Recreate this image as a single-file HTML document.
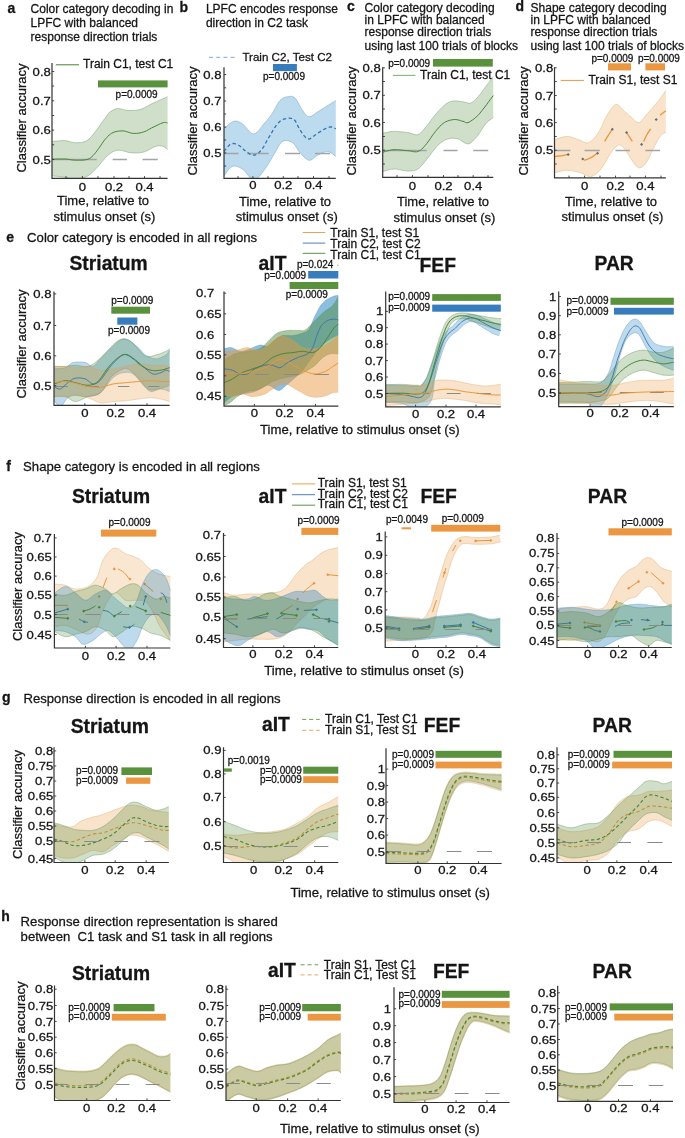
<!DOCTYPE html>
<html><head><meta charset="utf-8"><title>Figure</title>
<style>html,body{margin:0;padding:0;background:#fff}svg{display:block;font-family:"Liberation Sans",Arial,sans-serif}text{fill:#151515;stroke:#151515;stroke-width:.28px}</style></head>
<body>
<svg width="685" height="1138" viewBox="0 0 685 1138">
<rect width="685" height="1138" fill="#fff"/>
<text x="7.5" y="12.5" font-size="14" font-weight="bold">a</text>
<text x="30.6" y="12.5" font-size="12">Color category decoding in</text>
<text x="30.6" y="26.8" font-size="12">LPFC with balanced</text>
<text x="30.6" y="41.1" font-size="12">response direction trials</text>
<clipPath id="c1"><rect x="52" y="3" width="116.1" height="175.3"/></clipPath>
<g clip-path="url(#c1)">
<polygon points="52,141.4 53.4,141.3 55.5,141.1 57.9,140.9 60.4,140.7 62.8,140.6 65,140.6 66.9,140.8 68.6,141.2 70.3,141.7 72,142.2 73.6,142.6 75.4,142.7 77.3,142.7 79.2,142.6 81.2,142.4 83.1,142.1 85,141.5 86.7,140.7 88.3,139.6 89.8,138.3 91.2,136.8 92.6,135.1 94,133.3 95.5,131.4 97.2,129.3 98.9,126.8 100.7,124.2 102.5,121.7 104.1,119.4 105.5,117.5 106.6,116 107.4,114.8 108.2,113.8 108.8,113 109.6,112.2 110.5,111.5 111.6,110.8 112.7,110.1 113.9,109.5 115.2,109 116.6,108.7 118,108.5 119.5,108.6 121,108.9 122.7,109.4 124.4,109.9 126.1,110.3 128,110.5 130,110.5 132,110.5 134.2,110.4 136.4,110.2 138.6,109.8 140.7,109.3 142.8,108.5 144.8,107.6 146.9,106.5 149,105.3 151.1,104.1 153.3,103 155.8,101.9 158.5,100.7 161.2,99.5 163.8,98.3 166,97.4 167.6,96.7 167.6,149.7 167.1,149.3 166.5,148.7 165.8,148 164.9,147.4 164,146.8 163,146.4 162,146.1 161,145.9 159.9,145.8 158.7,145.8 157.3,146 155.8,146.4 154,147.1 152,148.1 149.8,149.3 147.6,150.4 145.4,151.5 143.2,152.2 141.1,152.6 139,152.9 136.9,153 134.8,153 132.7,152.9 130.6,152.7 128.5,152.4 126.3,151.8 124.1,151.2 122,150.6 119.9,150.2 118,150.2 116.2,150.5 114.5,151.1 112.8,151.8 111.2,152.8 109.6,153.9 108,155.2 106.3,156.7 104.7,158.6 103,160.6 101.3,162.6 99.7,164.7 98,166.5 96.4,168.2 94.8,170 93.2,171.6 91.5,173.2 89.8,174.6 88,175.8 86,176.8 83.9,177.7 81.7,178.4 79.5,178.9 77.4,179.3 75.4,179.5 73.6,179.5 71.9,179.2 70.2,178.7 68.6,178.2 66.9,177.7 65,177.3 62.8,177 60.4,176.7 57.9,176.4 55.5,176.2 53.4,176 52,175.8" fill="#4f8a3a" fill-opacity="0.27"/>
<polyline points="52,141.4 53.4,141.3 55.5,141.1 57.9,140.9 60.4,140.7 62.8,140.6 65,140.6 66.9,140.8 68.6,141.2 70.3,141.7 72,142.2 73.6,142.6 75.4,142.7 77.3,142.7 79.2,142.6 81.2,142.4 83.1,142.1 85,141.5 86.7,140.7 88.3,139.6 89.8,138.3 91.2,136.8 92.6,135.1 94,133.3 95.5,131.4 97.2,129.3 98.9,126.8 100.7,124.2 102.5,121.7 104.1,119.4 105.5,117.5 106.6,116 107.4,114.8 108.2,113.8 108.8,113 109.6,112.2 110.5,111.5 111.6,110.8 112.7,110.1 113.9,109.5 115.2,109 116.6,108.7 118,108.5 119.5,108.6 121,108.9 122.7,109.4 124.4,109.9 126.1,110.3 128,110.5 130,110.5 132,110.5 134.2,110.4 136.4,110.2 138.6,109.8 140.7,109.3 142.8,108.5 144.8,107.6 146.9,106.5 149,105.3 151.1,104.1 153.3,103 155.8,101.9 158.5,100.7 161.2,99.5 163.8,98.3 166,97.4 167.6,96.7" fill="none" stroke="#5f8f4f" stroke-opacity="0.55" stroke-width="0.7"/>
<polyline points="52,175.8 53.4,176 55.5,176.2 57.9,176.4 60.4,176.7 62.8,177 65,177.3 66.9,177.7 68.6,178.2 70.2,178.7 71.9,179.2 73.6,179.5 75.4,179.5 77.4,179.3 79.5,178.9 81.7,178.4 83.9,177.7 86,176.8 88,175.8 89.8,174.6 91.5,173.2 93.2,171.6 94.8,170 96.4,168.2 98,166.5 99.7,164.7 101.3,162.6 103,160.6 104.7,158.6 106.3,156.7 108,155.2 109.6,153.9 111.2,152.8 112.8,151.8 114.5,151.1 116.2,150.5 118,150.2 119.9,150.2 122,150.6 124.1,151.2 126.3,151.8 128.5,152.4 130.6,152.7 132.7,152.9 134.8,153 136.9,153 139,152.9 141.1,152.6 143.2,152.2 145.4,151.5 147.6,150.4 149.8,149.3 152,148.1 154,147.1 155.8,146.4 157.3,146 158.7,145.8 159.9,145.8 161,145.9 162,146.1 163,146.4 164,146.8 164.9,147.4 165.8,148 166.5,148.7 167.1,149.3 167.6,149.7" fill="none" stroke="#5f8f4f" stroke-opacity="0.55" stroke-width="0.7"/>
<line x1="52" y1="159.5" x2="96.7" y2="159.5" stroke="#a2a4a8" stroke-width="1.5"/>
<line x1="112.6" y1="159.5" x2="126.9" y2="159.5" stroke="#a2a4a8" stroke-width="1.5"/>
<line x1="142.5" y1="159.5" x2="157.8" y2="159.5" stroke="#a2a4a8" stroke-width="1.5"/>
<polyline points="52,159.2 53.4,159.2 55.5,159.1 57.9,159 60.4,159 62.8,159 65,159 66.9,159.1 68.6,159.4 70.2,159.7 71.9,159.9 73.6,160.1 75.4,160.2 77.4,160.2 79.6,160.2 81.9,160.2 84.1,160 86.2,159.7 88,159.2 89.5,158.5 90.8,157.7 91.9,156.7 93,155.6 94.2,154.3 95.5,152.7 97.1,150.7 98.7,148.4 100.5,145.8 102.3,143.2 103.9,140.9 105.5,138.9 106.9,137.4 108.1,136.1 109.2,135 110.4,134.1 111.6,133.3 113,132.6 114.5,132 116.1,131.5 117.8,131.2 119.6,131 121.3,130.9 123,130.9 124.7,131.1 126.4,131.6 128.1,132.1 129.8,132.7 131.5,133.2 133.2,133.4 134.9,133.4 136.5,133.4 138.2,133.2 139.9,132.9 141.5,132.6 143.2,132.1 144.9,131.5 146.6,130.7 148.2,129.8 149.9,128.9 151.6,127.9 153.3,127.1 155,126.3 156.9,125.4 158.7,124.5 160.4,123.7 162,123.1 163.3,122.6 164.4,122.4 165.3,122.4 166.1,122.5 166.7,122.7 167.2,122.9 167.6,123" fill="none" stroke="#478535" stroke-width="1"/>
</g>
<path d="M52 63V178.3H167.6" fill="none" stroke="#333" stroke-width="1.2"/>
<line x1="52" y1="71.5" x2="54.2" y2="71.5" stroke="#333" stroke-width="0.9"/>
<text transform="translate(50.8 75.5) scale(1.13 1)" font-size="11.6" text-anchor="end">0.8</text>
<line x1="52" y1="86" x2="54.2" y2="86" stroke="#333" stroke-width="0.9"/>
<line x1="52" y1="100.8" x2="54.2" y2="100.8" stroke="#333" stroke-width="0.9"/>
<text transform="translate(50.8 104.8) scale(1.13 1)" font-size="11.6" text-anchor="end">0.7</text>
<line x1="52" y1="115.5" x2="54.2" y2="115.5" stroke="#333" stroke-width="0.9"/>
<line x1="52" y1="130.1" x2="54.2" y2="130.1" stroke="#333" stroke-width="0.9"/>
<text transform="translate(50.8 134.2) scale(1.13 1)" font-size="11.6" text-anchor="end">0.6</text>
<line x1="52" y1="144.8" x2="54.2" y2="144.8" stroke="#333" stroke-width="0.9"/>
<line x1="52" y1="159.4" x2="54.2" y2="159.4" stroke="#333" stroke-width="0.9"/>
<text transform="translate(50.8 163.5) scale(1.13 1)" font-size="11.6" text-anchor="end">0.5</text>
<line x1="66" y1="178.3" x2="66" y2="176.1" stroke="#333" stroke-width="0.9"/>
<line x1="82.4" y1="178.3" x2="82.4" y2="176.1" stroke="#333" stroke-width="0.9"/>
<text transform="translate(82.4 190.9) scale(1.13 1)" font-size="11.6" text-anchor="middle">0</text>
<line x1="98" y1="178.3" x2="98" y2="176.1" stroke="#333" stroke-width="0.9"/>
<line x1="114" y1="178.3" x2="114" y2="176.1" stroke="#333" stroke-width="0.9"/>
<text transform="translate(114 190.9) scale(1.13 1)" font-size="11.6" text-anchor="middle">0.2</text>
<line x1="129" y1="178.3" x2="129" y2="176.1" stroke="#333" stroke-width="0.9"/>
<line x1="144.5" y1="178.3" x2="144.5" y2="176.1" stroke="#333" stroke-width="0.9"/>
<text transform="translate(144.5 190.9) scale(1.13 1)" font-size="11.6" text-anchor="middle">0.4</text>
<line x1="160" y1="178.3" x2="160" y2="176.1" stroke="#333" stroke-width="0.9"/>
<line x1="55.8" y1="64.8" x2="79" y2="64.8" stroke="#478535" stroke-width="1"/>
<text x="83" y="68" font-size="12">Train C1, test C1</text>
<rect x="98" y="80.4" width="69.6" height="7" fill="#5a913c"/>
<text x="115.6" y="97.5" font-size="10">p=0.0009</text>
<text x="25.5" y="118" font-size="13" text-anchor="middle" transform="rotate(-90 25.5 118)">Classifier accuracy</text>
<text x="103" y="205" font-size="13" text-anchor="middle">Time, relative to</text>
<text x="104.5" y="220.5" font-size="13" text-anchor="middle">stimulus onset (s)</text>
<text x="179.5" y="12" font-size="14" font-weight="bold">b</text>
<text x="205.9" y="12.5" font-size="12">LPFC encodes response</text>
<text x="205.9" y="26.9" font-size="12">direction in C2 task</text>
<clipPath id="c2"><rect x="224" y="7.3" width="112.3" height="171"/></clipPath>
<g clip-path="url(#c2)">
<polygon points="224,128.8 225,127.9 226.5,126.5 228.2,124.9 230,123.3 231.8,122.1 233.5,121.3 235,121 236.4,121.1 237.8,121.4 239.3,122 240.8,122.8 242.4,123.8 244.1,125.3 246,127.4 247.9,129.7 249.8,131.8 251.8,133.4 253.7,133.9 255.6,133.2 257.6,131.7 259.6,129.5 261.5,127 263.3,124.6 265,122.6 266.5,120.9 267.8,119.4 269,117.9 270.1,116.4 271.3,114.7 272.5,113 273.7,111 275,108.7 276.2,106.4 277.5,104.1 278.7,102.1 280,100.5 281.3,99.3 282.5,98.4 283.8,97.7 285.1,97.3 286.3,96.9 287.6,96.7 288.8,96.5 290.1,96.3 291.3,96.3 292.5,96.5 293.8,97.1 295,98 296.3,99.5 297.6,101.6 298.9,104 300.2,106.5 301.5,108.7 302.7,110.6 303.8,112.1 304.8,113.6 305.8,114.8 306.8,115.8 307.8,116.5 309,116.8 310.3,116.6 311.7,116 313.1,115.1 314.6,114 316.1,112.8 317.7,111.8 319.3,110.8 321,109.7 322.8,108.6 324.5,107.6 326.2,106.5 327.8,105.5 329.3,104.5 330.9,103.6 332.4,102.6 333.8,101.7 335,101 335.8,100.5 335.8,156.5 335,155.9 333.8,154.9 332.4,153.8 330.9,152.7 329.3,151.9 327.8,151.5 326.2,151.6 324.5,152 322.8,152.7 321,153.5 319.3,154.4 317.7,155.2 316.2,156.1 314.7,157.3 313.3,158.5 311.9,159.5 310.5,160.2 309,160.3 307.5,159.8 306,158.8 304.4,157.4 302.9,155.9 301.4,154.3 300,152.7 298.7,151.1 297.5,149.2 296.4,147.3 295.2,145.5 294,143.9 292.6,142.7 291.1,141.8 289.4,141.2 287.6,140.7 285.9,140.6 284.2,140.8 282.6,141.4 281.2,142.5 280,144 278.8,145.9 277.6,148.1 276.4,150.4 275,152.7 273.5,155.2 271.9,158 270.2,160.9 268.5,163.8 266.8,166.5 265,169 263.2,171.4 261.3,173.9 259.4,176.2 257.5,178.2 255.6,179.5 253.7,180 251.8,179.3 249.9,177.6 248,175.3 246.1,172.9 244.2,170.6 242.4,169 240.6,168 238.9,167.1 237.2,166.5 235.5,166.1 233.9,166.1 232.3,166.5 230.7,167.5 229.1,169.1 227.5,171 226.1,173 224.9,174.7 224,175.8" fill="#0072bd" fill-opacity="0.26"/>
<polyline points="224,128.8 225,127.9 226.5,126.5 228.2,124.9 230,123.3 231.8,122.1 233.5,121.3 235,121 236.4,121.1 237.8,121.4 239.3,122 240.8,122.8 242.4,123.8 244.1,125.3 246,127.4 247.9,129.7 249.8,131.8 251.8,133.4 253.7,133.9 255.6,133.2 257.6,131.7 259.6,129.5 261.5,127 263.3,124.6 265,122.6 266.5,120.9 267.8,119.4 269,117.9 270.1,116.4 271.3,114.7 272.5,113 273.7,111 275,108.7 276.2,106.4 277.5,104.1 278.7,102.1 280,100.5 281.3,99.3 282.5,98.4 283.8,97.7 285.1,97.3 286.3,96.9 287.6,96.7 288.8,96.5 290.1,96.3 291.3,96.3 292.5,96.5 293.8,97.1 295,98 296.3,99.5 297.6,101.6 298.9,104 300.2,106.5 301.5,108.7 302.7,110.6 303.8,112.1 304.8,113.6 305.8,114.8 306.8,115.8 307.8,116.5 309,116.8 310.3,116.6 311.7,116 313.1,115.1 314.6,114 316.1,112.8 317.7,111.8 319.3,110.8 321,109.7 322.8,108.6 324.5,107.6 326.2,106.5 327.8,105.5 329.3,104.5 330.9,103.6 332.4,102.6 333.8,101.7 335,101 335.8,100.5" fill="none" stroke="#5b8fb0" stroke-opacity="0.55" stroke-width="0.7"/>
<polyline points="224,175.8 224.9,174.7 226.1,173 227.5,171 229.1,169.1 230.7,167.5 232.3,166.5 233.9,166.1 235.5,166.1 237.2,166.5 238.9,167.1 240.6,168 242.4,169 244.2,170.6 246.1,172.9 248,175.3 249.9,177.6 251.8,179.3 253.7,180 255.6,179.5 257.5,178.2 259.4,176.2 261.3,173.9 263.2,171.4 265,169 266.8,166.5 268.5,163.8 270.2,160.9 271.9,158 273.5,155.2 275,152.7 276.4,150.4 277.6,148.1 278.8,145.9 280,144 281.2,142.5 282.6,141.4 284.2,140.8 285.9,140.6 287.6,140.7 289.4,141.2 291.1,141.8 292.6,142.7 294,143.9 295.2,145.5 296.4,147.3 297.5,149.2 298.7,151.1 300,152.7 301.4,154.3 302.9,155.9 304.4,157.4 306,158.8 307.5,159.8 309,160.3 310.5,160.2 311.9,159.5 313.3,158.5 314.7,157.3 316.2,156.1 317.7,155.2 319.3,154.4 321,153.5 322.8,152.7 324.5,152 326.2,151.6 327.8,151.5 329.3,151.9 330.9,152.7 332.4,153.8 333.8,154.9 335,155.9 335.8,156.5" fill="none" stroke="#5b8fb0" stroke-opacity="0.55" stroke-width="0.7"/>
<line x1="224" y1="153.5" x2="238.6" y2="153.5" stroke="#a2a4a8" stroke-width="1.5"/>
<line x1="247.4" y1="153.5" x2="268.7" y2="153.5" stroke="#a2a4a8" stroke-width="1.5"/>
<line x1="285" y1="153.5" x2="300" y2="153.5" stroke="#a2a4a8" stroke-width="1.5"/>
<line x1="315" y1="153.5" x2="330" y2="153.5" stroke="#a2a4a8" stroke-width="1.5"/>
<polyline points="224,151.5 224.8,150.6 225.8,149.2 227,147.6 228.4,146.1 229.7,144.7 231,143.9 232.2,143.5 233.5,143.5 234.8,143.7 236.1,144.1 237.3,144.6 238.6,145.2 239.8,146 241.1,147 242.3,148.2 243.5,149.4 244.8,150.5 246,151.5 247.3,152.4 248.6,153.2 249.8,154.1 251.1,154.7 252.4,155.1 253.7,155.2 255,155 256.2,154.5 257.5,153.7 258.7,152.8 260,151.6 261.2,150.2 262.4,148.6 263.7,146.6 264.9,144.4 266.1,142.2 267.4,139.9 268.7,137.6 270.1,135.3 271.6,132.8 273.1,130.2 274.6,127.8 276.1,125.6 277.5,123.8 278.8,122.4 280,121.3 281.2,120.4 282.4,119.7 283.7,119.2 285,118.8 286.4,118.5 288,118.2 289.5,118.2 291.1,118.3 292.6,118.8 293.9,119.5 295.1,120.7 296.1,122.3 297,124.2 298,126.3 298.9,128.2 300,130 301.2,131.7 302.5,133.6 303.8,135.4 305.1,136.9 306.4,138.2 307.7,138.9 309,139 310.2,138.6 311.5,137.8 312.7,136.9 313.9,135.9 315.2,135 316.5,134.2 317.7,133.3 319,132.4 320.3,131.6 321.5,130.7 322.8,130 324.1,129.3 325.4,128.7 326.7,128.1 328,127.6 329.2,127.2 330.3,127 331.4,127 332.5,127.3 333.5,127.7 334.4,128.2 335.2,128.5 335.8,128.8" fill="none" stroke="#3873ad" stroke-width="1.3" stroke-dasharray="3.5 2.5"/>
</g>
<path d="M224 67.3V178.3H335.8" fill="none" stroke="#333" stroke-width="1.2"/>
<line x1="224" y1="74.6" x2="226.2" y2="74.6" stroke="#333" stroke-width="0.9"/>
<text transform="translate(221.5 78.6) scale(1.13 1)" font-size="11.6" text-anchor="end">0.8</text>
<line x1="224" y1="87.8" x2="226.2" y2="87.8" stroke="#333" stroke-width="0.9"/>
<line x1="224" y1="101" x2="226.2" y2="101" stroke="#333" stroke-width="0.9"/>
<text transform="translate(221.5 105) scale(1.13 1)" font-size="11.6" text-anchor="end">0.7</text>
<line x1="224" y1="114" x2="226.2" y2="114" stroke="#333" stroke-width="0.9"/>
<line x1="224" y1="127.1" x2="226.2" y2="127.1" stroke="#333" stroke-width="0.9"/>
<text transform="translate(221.5 131.2) scale(1.13 1)" font-size="11.6" text-anchor="end">0.6</text>
<line x1="224" y1="140" x2="226.2" y2="140" stroke="#333" stroke-width="0.9"/>
<line x1="224" y1="152.9" x2="226.2" y2="152.9" stroke="#333" stroke-width="0.9"/>
<text transform="translate(221.5 157) scale(1.13 1)" font-size="11.6" text-anchor="end">0.5</text>
<line x1="224" y1="166" x2="226.2" y2="166" stroke="#333" stroke-width="0.9"/>
<line x1="238" y1="178.3" x2="238" y2="176.1" stroke="#333" stroke-width="0.9"/>
<line x1="252.9" y1="178.3" x2="252.9" y2="176.1" stroke="#333" stroke-width="0.9"/>
<text transform="translate(252.9 189.3) scale(1.13 1)" font-size="11.6" text-anchor="middle">0</text>
<line x1="268" y1="178.3" x2="268" y2="176.1" stroke="#333" stroke-width="0.9"/>
<line x1="283.3" y1="178.3" x2="283.3" y2="176.1" stroke="#333" stroke-width="0.9"/>
<text transform="translate(283.3 189.3) scale(1.13 1)" font-size="11.6" text-anchor="middle">0.2</text>
<line x1="298" y1="178.3" x2="298" y2="176.1" stroke="#333" stroke-width="0.9"/>
<line x1="313.5" y1="178.3" x2="313.5" y2="176.1" stroke="#333" stroke-width="0.9"/>
<text transform="translate(313.5 189.3) scale(1.13 1)" font-size="11.6" text-anchor="middle">0.4</text>
<line x1="329" y1="178.3" x2="329" y2="176.1" stroke="#333" stroke-width="0.9"/>
<line x1="209" y1="57.3" x2="236" y2="57.3" stroke="#8fbde6" stroke-width="1.2" stroke-dasharray="4 3.2"/>
<text x="242.4" y="60.8" font-size="11.6">Train C2, Test C2</text>
<rect x="273" y="64" width="23.9" height="7.1" fill="#377dbe"/>
<text x="263" y="79.6" font-size="10">p=0.0009</text>
<text x="197" y="121" font-size="13" text-anchor="middle" transform="rotate(-90 197 121)">Classifier accuracy</text>
<text x="285" y="205.5" font-size="13" text-anchor="middle">Time, relative to</text>
<text x="286.8" y="221" font-size="13" text-anchor="middle">stimulus onset (s)</text>
<text x="347" y="11.3" font-size="14" font-weight="bold">c</text>
<text x="364.6" y="11.6" font-size="12">Color category decoding</text>
<text x="364.6" y="23.8" font-size="12">in LPFC with balanced</text>
<text x="364.6" y="35.5" font-size="12">response direction trials</text>
<text x="364.6" y="50" font-size="12">using last 100 trials of blocks</text>
<clipPath id="c3"><rect x="382.7" y="7.3" width="111.1" height="170"/></clipPath>
<g clip-path="url(#c3)">
<polygon points="382.7,133.1 383.9,132.9 385.5,132.6 387.5,132.2 389.6,131.8 391.8,131.5 394,131.4 396.2,131.4 398.6,131.6 401,131.8 403.4,132 405.7,132.3 407.8,132.6 409.7,133 411.5,133.5 413.2,134.1 414.9,134.6 416.4,134.8 417.9,134.6 419.3,134 420.5,133.2 421.6,132 422.8,130.7 424,129.2 425.4,127.6 426.9,125.7 428.6,123.6 430.3,121.2 432,118.9 433.8,116.6 435.5,114.5 437.2,112.6 438.9,110.6 440.7,108.8 442.4,107.1 444,105.6 445.5,104.3 446.9,103.3 448.1,102.5 449.2,102 450.4,101.5 451.6,101.2 453,101 454.5,100.9 456.2,100.9 458,101.1 459.7,101.4 461.4,101.6 463,101.8 464.4,102.1 465.7,102.4 467,102.8 468.2,103.1 469.5,103.2 470.7,103 472,102.4 473.2,101.6 474.5,100.5 475.7,99.4 477,98.1 478.2,96.7 479.4,95.2 480.7,93.6 481.9,91.9 483.2,90.2 484.4,88.4 485.7,86.7 487,84.9 488.5,83 490,81 491.3,79.2 492.5,77.7 493.3,76.6 493.3,117.5 492.5,118.1 491.4,118.9 490,119.9 488.6,121 487.1,122.3 485.7,123.8 484.3,125.6 482.9,127.7 481.4,130 480,132.3 478.5,134.5 477,136.4 475.5,138.1 474.1,139.7 472.6,141.3 471.2,142.5 469.7,143.4 468.1,143.9 466.5,143.7 464.8,143 463.1,141.9 461.4,140.7 459.7,139.6 458,138.9 456.3,138.5 454.7,138.3 453,138.2 451.3,138.2 449.7,138.5 448,138.9 446.3,139.5 444.7,140.3 443,141.3 441.3,142.4 439.7,143.7 438,145.2 436.3,146.9 434.7,149 433,151.1 431.3,153.4 429.7,155.6 428,157.7 426.3,159.8 424.6,161.9 423,164 421.3,166 419.6,167.7 417.9,169 416.3,169.9 414.7,170.5 413.1,170.8 411.4,171 409.7,171 407.8,171 405.7,170.8 403.4,170.5 401,170 398.6,169.5 396.2,169.1 394,169 391.8,169.2 389.6,169.6 387.5,170.2 385.5,170.8 383.9,171.3 382.7,171.6" fill="#4f8a3a" fill-opacity="0.27"/>
<polyline points="382.7,133.1 383.9,132.9 385.5,132.6 387.5,132.2 389.6,131.8 391.8,131.5 394,131.4 396.2,131.4 398.6,131.6 401,131.8 403.4,132 405.7,132.3 407.8,132.6 409.7,133 411.5,133.5 413.2,134.1 414.9,134.6 416.4,134.8 417.9,134.6 419.3,134 420.5,133.2 421.6,132 422.8,130.7 424,129.2 425.4,127.6 426.9,125.7 428.6,123.6 430.3,121.2 432,118.9 433.8,116.6 435.5,114.5 437.2,112.6 438.9,110.6 440.7,108.8 442.4,107.1 444,105.6 445.5,104.3 446.9,103.3 448.1,102.5 449.2,102 450.4,101.5 451.6,101.2 453,101 454.5,100.9 456.2,100.9 458,101.1 459.7,101.4 461.4,101.6 463,101.8 464.4,102.1 465.7,102.4 467,102.8 468.2,103.1 469.5,103.2 470.7,103 472,102.4 473.2,101.6 474.5,100.5 475.7,99.4 477,98.1 478.2,96.7 479.4,95.2 480.7,93.6 481.9,91.9 483.2,90.2 484.4,88.4 485.7,86.7 487,84.9 488.5,83 490,81 491.3,79.2 492.5,77.7 493.3,76.6" fill="none" stroke="#5f8f4f" stroke-opacity="0.55" stroke-width="0.7"/>
<polyline points="382.7,171.6 383.9,171.3 385.5,170.8 387.5,170.2 389.6,169.6 391.8,169.2 394,169 396.2,169.1 398.6,169.5 401,170 403.4,170.5 405.7,170.8 407.8,171 409.7,171 411.4,171 413.1,170.8 414.7,170.5 416.3,169.9 417.9,169 419.6,167.7 421.3,166 423,164 424.6,161.9 426.3,159.8 428,157.7 429.7,155.6 431.3,153.4 433,151.1 434.7,149 436.3,146.9 438,145.2 439.7,143.7 441.3,142.4 443,141.3 444.7,140.3 446.3,139.5 448,138.9 449.7,138.5 451.3,138.2 453,138.2 454.7,138.3 456.3,138.5 458,138.9 459.7,139.6 461.4,140.7 463.1,141.9 464.8,143 466.5,143.7 468.1,143.9 469.7,143.4 471.2,142.5 472.6,141.3 474.1,139.7 475.5,138.1 477,136.4 478.5,134.5 480,132.3 481.4,130 482.9,127.7 484.3,125.6 485.7,123.8 487.1,122.3 488.6,121 490,119.9 491.4,118.9 492.5,118.1 493.3,117.5" fill="none" stroke="#5f8f4f" stroke-opacity="0.55" stroke-width="0.7"/>
<line x1="382.7" y1="150.5" x2="426.7" y2="150.5" stroke="#a2a4a8" stroke-width="1.5"/>
<line x1="443.5" y1="150.5" x2="457.6" y2="150.5" stroke="#a2a4a8" stroke-width="1.5"/>
<line x1="473.2" y1="150.5" x2="488.2" y2="150.5" stroke="#a2a4a8" stroke-width="1.5"/>
<polyline points="382.7,152.2 383.9,151.9 385.5,151.4 387.5,150.9 389.6,150.4 391.8,149.9 394,149.7 396.2,149.7 398.6,149.8 401,150 403.4,150.3 405.7,150.5 407.8,150.7 409.7,150.9 411.5,151.2 413.2,151.6 414.9,151.8 416.4,151.8 417.9,151.5 419.3,150.9 420.5,150.2 421.6,149.3 422.8,148.1 424,146.8 425.4,145.2 426.9,143.3 428.6,141 430.4,138.5 432.1,135.9 433.9,133.5 435.5,131.4 437,129.6 438.5,127.9 439.9,126.3 441.3,124.9 442.8,123.7 444.3,122.6 445.9,121.7 447.6,121 449.3,120.4 451,120 452.7,119.7 454.3,119.5 455.9,119.5 457.4,119.8 459,120.1 460.4,120.6 461.8,121 463,121.3 464,121.6 464.8,122.1 465.5,122.5 466.2,122.7 467,122.8 468,122.6 469.3,122 470.8,121.1 472.4,120 474.1,118.8 475.6,117.5 477,116.3 478.2,115.2 479.1,114.2 480,113.1 480.9,111.9 482,110.6 483.2,109 484.8,107 486.7,104.5 488.6,101.8 490.5,99.2 492.2,97 493.3,95.5" fill="none" stroke="#478535" stroke-width="1"/>
</g>
<path d="M382.7 67.3V177.3H493.3" fill="none" stroke="#333" stroke-width="1.2"/>
<line x1="382.7" y1="67.8" x2="384.9" y2="67.8" stroke="#333" stroke-width="0.9"/>
<text transform="translate(380.7 71.8) scale(1.13 1)" font-size="11.6" text-anchor="end">0.8</text>
<line x1="382.7" y1="81.5" x2="384.9" y2="81.5" stroke="#333" stroke-width="0.9"/>
<line x1="382.7" y1="95.3" x2="384.9" y2="95.3" stroke="#333" stroke-width="0.9"/>
<text transform="translate(380.7 99.3) scale(1.13 1)" font-size="11.6" text-anchor="end">0.7</text>
<line x1="382.7" y1="109" x2="384.9" y2="109" stroke="#333" stroke-width="0.9"/>
<line x1="382.7" y1="122.5" x2="384.9" y2="122.5" stroke="#333" stroke-width="0.9"/>
<text transform="translate(380.7 126.5) scale(1.13 1)" font-size="11.6" text-anchor="end">0.6</text>
<line x1="382.7" y1="136.5" x2="384.9" y2="136.5" stroke="#333" stroke-width="0.9"/>
<line x1="382.7" y1="150.2" x2="384.9" y2="150.2" stroke="#333" stroke-width="0.9"/>
<text transform="translate(380.7 154.2) scale(1.13 1)" font-size="11.6" text-anchor="end">0.5</text>
<line x1="382.7" y1="164" x2="384.9" y2="164" stroke="#333" stroke-width="0.9"/>
<line x1="397" y1="177.3" x2="397" y2="175.1" stroke="#333" stroke-width="0.9"/>
<line x1="412.4" y1="177.3" x2="412.4" y2="175.1" stroke="#333" stroke-width="0.9"/>
<text transform="translate(412.4 190) scale(1.13 1)" font-size="11.6" text-anchor="middle">0</text>
<line x1="428" y1="177.3" x2="428" y2="175.1" stroke="#333" stroke-width="0.9"/>
<line x1="443.5" y1="177.3" x2="443.5" y2="175.1" stroke="#333" stroke-width="0.9"/>
<text transform="translate(443.5 190) scale(1.13 1)" font-size="11.6" text-anchor="middle">0.2</text>
<line x1="458" y1="177.3" x2="458" y2="175.1" stroke="#333" stroke-width="0.9"/>
<line x1="473.2" y1="177.3" x2="473.2" y2="175.1" stroke="#333" stroke-width="0.9"/>
<text transform="translate(473.2 190) scale(1.13 1)" font-size="11.6" text-anchor="middle">0.4</text>
<line x1="488" y1="177.3" x2="488" y2="175.1" stroke="#333" stroke-width="0.9"/>
<text x="388.2" y="66.6" font-size="10">p=0.0009</text>
<rect x="433" y="59" width="59.8" height="7.6" fill="#5a913c"/>
<line x1="392.8" y1="75.4" x2="415.4" y2="75.4" stroke="#86b576" stroke-width="1.1"/>
<text x="420" y="79" font-size="12">Train C1, test C1</text>
<text x="355.5" y="121" font-size="13" text-anchor="middle" transform="rotate(-90 355.5 121)">Classifier accuracy</text>
<text x="443" y="206" font-size="13" text-anchor="middle">Time, relative to</text>
<text x="444.5" y="221.8" font-size="13" text-anchor="middle">stimulus onset (s)</text>
<text x="515.5" y="11.3" font-size="14" font-weight="bold">d</text>
<text x="530.6" y="11.6" font-size="12">Shape category decoding</text>
<text x="530.6" y="23.8" font-size="12">in LPFC with balanced</text>
<text x="530.6" y="35.5" font-size="12">response direction trials</text>
<text x="530.6" y="50" font-size="12">using last 100 trials of blocks</text>
<clipPath id="c4"><rect x="554.5" y="7.3" width="111.8" height="170.5"/></clipPath>
<g clip-path="url(#c4)">
<polygon points="554.5,139.6 555.9,139.2 557.8,138.5 560,137.8 562.5,137.1 564.8,136.6 567,136.4 569,136.6 570.9,137 572.8,137.6 574.7,138.3 576.5,139 578.3,139.6 580.1,140.3 581.8,141.1 583.4,142 585.1,142.6 586.7,142.9 588.4,142.7 590.1,141.9 591.8,140.6 593.5,138.9 595.2,137 596.8,134.9 598.4,132.6 599.9,130 601.4,127 602.9,123.8 604.3,120.6 605.7,117.6 607.2,115 608.7,112.6 610.2,110.3 611.7,108.2 613.2,106.4 614.6,105 616,104.3 617.3,104.4 618.6,105.1 619.9,106.4 621.1,107.9 622.4,109.3 623.6,110.6 624.8,111.7 626.1,112.8 627.3,113.8 628.5,114.9 629.8,116 631,117 632.3,118.1 633.5,119.4 634.8,120.7 636.1,121.7 637.3,122.4 638.6,122.6 639.9,122.1 641.3,120.9 642.6,119.4 643.9,117.8 645.2,116.2 646.2,115 647,114.1 647.6,113.5 648,113 648.5,112.4 649.1,111.6 650,110.6 651.2,109.2 652.6,107.7 654.1,105.9 655.7,104.1 657.3,102.2 658.7,100.5 660.1,98.7 661.4,96.8 662.8,94.9 664,93.1 665,91.6 665.8,90.5 665.8,132.6 665.3,132.7 664.7,132.8 664,133 663.1,133.3 662.2,134 661.2,135 660.1,136.5 658.9,138.4 657.6,140.6 656.3,142.9 655,145.3 653.7,147.7 652.5,150.2 651.2,152.9 650,155.7 648.7,158.4 647.5,160.8 646.2,162.8 644.9,164.4 643.7,165.7 642.4,166.8 641.1,167.5 639.9,167.9 638.6,167.8 637.3,167.1 636,165.9 634.7,164.3 633.4,162.5 632.2,160.7 631,159 629.9,157.3 628.8,155.5 627.8,153.7 626.8,151.9 625.8,150.3 624.8,149 623.8,147.9 622.8,146.9 621.7,146 620.7,145.4 619.6,145.1 618.5,145.2 617.3,145.7 616.2,146.5 615,147.7 613.7,149.1 612.4,150.8 611,152.7 609.5,155 607.9,157.8 606.2,160.8 604.4,163.9 602.7,166.7 601,169 599.3,170.9 597.6,172.6 596,174.1 594.3,175.2 592.6,176.1 590.9,176.6 589.3,176.6 587.7,176.1 586.1,175.3 584.4,174.4 582.7,173.5 580.8,172.8 578.7,172.3 576.4,171.7 574.1,171.2 571.6,170.7 569.3,170.4 567,170.3 564.7,170.5 562.3,170.9 559.9,171.4 557.7,172 555.8,172.5 554.5,172.8" fill="#e8963c" fill-opacity="0.27"/>
<polyline points="554.5,139.6 555.9,139.2 557.8,138.5 560,137.8 562.5,137.1 564.8,136.6 567,136.4 569,136.6 570.9,137 572.8,137.6 574.7,138.3 576.5,139 578.3,139.6 580.1,140.3 581.8,141.1 583.4,142 585.1,142.6 586.7,142.9 588.4,142.7 590.1,141.9 591.8,140.6 593.5,138.9 595.2,137 596.8,134.9 598.4,132.6 599.9,130 601.4,127 602.9,123.8 604.3,120.6 605.7,117.6 607.2,115 608.7,112.6 610.2,110.3 611.7,108.2 613.2,106.4 614.6,105 616,104.3 617.3,104.4 618.6,105.1 619.9,106.4 621.1,107.9 622.4,109.3 623.6,110.6 624.8,111.7 626.1,112.8 627.3,113.8 628.5,114.9 629.8,116 631,117 632.3,118.1 633.5,119.4 634.8,120.7 636.1,121.7 637.3,122.4 638.6,122.6 639.9,122.1 641.3,120.9 642.6,119.4 643.9,117.8 645.2,116.2 646.2,115 647,114.1 647.6,113.5 648,113 648.5,112.4 649.1,111.6 650,110.6 651.2,109.2 652.6,107.7 654.1,105.9 655.7,104.1 657.3,102.2 658.7,100.5 660.1,98.7 661.4,96.8 662.8,94.9 664,93.1 665,91.6 665.8,90.5" fill="none" stroke="#dba560" stroke-opacity="0.55" stroke-width="0.7"/>
<polyline points="554.5,172.8 555.8,172.5 557.7,172 559.9,171.4 562.3,170.9 564.7,170.5 567,170.3 569.3,170.4 571.6,170.7 574.1,171.2 576.4,171.7 578.7,172.3 580.8,172.8 582.7,173.5 584.4,174.4 586.1,175.3 587.7,176.1 589.3,176.6 590.9,176.6 592.6,176.1 594.3,175.2 596,174.1 597.6,172.6 599.3,170.9 601,169 602.7,166.7 604.4,163.9 606.2,160.8 607.9,157.8 609.5,155 611,152.7 612.4,150.8 613.7,149.1 615,147.7 616.2,146.5 617.3,145.7 618.5,145.2 619.6,145.1 620.7,145.4 621.7,146 622.8,146.9 623.8,147.9 624.8,149 625.8,150.3 626.8,151.9 627.8,153.7 628.8,155.5 629.9,157.3 631,159 632.2,160.7 633.4,162.5 634.7,164.3 636,165.9 637.3,167.1 638.6,167.8 639.9,167.9 641.1,167.5 642.4,166.8 643.7,165.7 644.9,164.4 646.2,162.8 647.5,160.8 648.7,158.4 650,155.7 651.2,152.9 652.5,150.2 653.7,147.7 655,145.3 656.3,142.9 657.6,140.6 658.9,138.4 660.1,136.5 661.2,135 662.2,134 663.1,133.3 664,133 664.7,132.8 665.3,132.7 665.8,132.6" fill="none" stroke="#dba560" stroke-opacity="0.55" stroke-width="0.7"/>
<line x1="554.5" y1="150.5" x2="570.3" y2="150.5" stroke="#a2a4a8" stroke-width="1.5"/>
<line x1="584.6" y1="150.5" x2="599.7" y2="150.5" stroke="#a2a4a8" stroke-width="1.5"/>
<line x1="615.5" y1="150.5" x2="629.8" y2="150.5" stroke="#a2a4a8" stroke-width="1.5"/>
<line x1="645.4" y1="150.5" x2="660" y2="150.5" stroke="#a2a4a8" stroke-width="1.5"/>
<polyline points="554.5,156.5 555.7,156.4 557.3,156.2 559.2,156 561,155.8 562.8,155.5 564.8,155.1 566.6,154.7 567.8,154.5" fill="none" stroke="#e8963c" stroke-width="1.3"/>
<rect x="567.1" y="153.4" width="2.2" height="2.2" fill="#5c7080" transform="rotate(45 568.2 154.5)"/>
<polyline points="584.2,160.3 585.4,159.9 587.2,159.3 589.1,158.5 590.9,157.7 592.7,156.6 594.5,155.3 596.1,154.1 597.2,153.2" fill="none" stroke="#e8963c" stroke-width="1.3"/>
<rect x="581.7" y="157.9" width="2.2" height="2.2" fill="#5c7080" transform="rotate(45 582.8 159)"/>
<rect x="596.5" y="152.1" width="2.2" height="2.2" fill="#5c7080" transform="rotate(45 597.6 153.2)"/>
<polyline points="604.7,141.4 605.4,140.2 606.4,138.5 607.5,136.7 608.5,135 609.5,133.5 610.6,131.9 611.5,130.5 612.2,129.6" fill="none" stroke="#e8963c" stroke-width="1.3"/>
<rect x="611.2" y="128.1" width="2.2" height="2.2" fill="#5c7080" transform="rotate(45 612.3 129.2)"/>
<polyline points="627.2,133.5 632.3,141.4" fill="none" stroke="#e8963c" stroke-width="1.3"/>
<rect x="625.5" y="131.5" width="2.2" height="2.2" fill="#5c7080" transform="rotate(45 626.6 132.6)"/>
<polyline points="643.7,141.4 644.3,140.1 645.1,138.3 646.1,136.3 647,134.5 648,132.9 649.1,131.2 650,129.8 650.7,128.8" fill="none" stroke="#e8963c" stroke-width="1.3"/>
<rect x="640.5" y="143.3" width="2.2" height="2.2" fill="#5c7080" transform="rotate(45 641.6 144.4)"/>
<polyline points="660,115.3 665.8,110.8" fill="none" stroke="#e8963c" stroke-width="1.3"/>
<rect x="655.1" y="118.4" width="2.2" height="2.2" fill="#5c7080" transform="rotate(45 656.2 119.5)"/>
</g>
<path d="M554.5 67.3V177.8H665.8" fill="none" stroke="#333" stroke-width="1.2"/>
<line x1="554.5" y1="67.8" x2="556.7" y2="67.8" stroke="#333" stroke-width="0.9"/>
<text transform="translate(553.2 71.8) scale(1.13 1)" font-size="11.6" text-anchor="end">0.8</text>
<line x1="554.5" y1="81.5" x2="556.7" y2="81.5" stroke="#333" stroke-width="0.9"/>
<line x1="554.5" y1="95.5" x2="556.7" y2="95.5" stroke="#333" stroke-width="0.9"/>
<text transform="translate(553.2 99.5) scale(1.13 1)" font-size="11.6" text-anchor="end">0.7</text>
<line x1="554.5" y1="109" x2="556.7" y2="109" stroke="#333" stroke-width="0.9"/>
<line x1="554.5" y1="122.6" x2="556.7" y2="122.6" stroke="#333" stroke-width="0.9"/>
<text transform="translate(553.2 126.6) scale(1.13 1)" font-size="11.6" text-anchor="end">0.6</text>
<line x1="554.5" y1="136.5" x2="556.7" y2="136.5" stroke="#333" stroke-width="0.9"/>
<line x1="554.5" y1="150.2" x2="556.7" y2="150.2" stroke="#333" stroke-width="0.9"/>
<text transform="translate(553.2 154.2) scale(1.13 1)" font-size="11.6" text-anchor="end">0.5</text>
<line x1="554.5" y1="164" x2="556.7" y2="164" stroke="#333" stroke-width="0.9"/>
<line x1="569" y1="177.8" x2="569" y2="175.6" stroke="#333" stroke-width="0.9"/>
<line x1="584.6" y1="177.8" x2="584.6" y2="175.6" stroke="#333" stroke-width="0.9"/>
<text transform="translate(584.6 190) scale(1.13 1)" font-size="11.6" text-anchor="middle">0</text>
<line x1="600" y1="177.8" x2="600" y2="175.6" stroke="#333" stroke-width="0.9"/>
<line x1="615.5" y1="177.8" x2="615.5" y2="175.6" stroke="#333" stroke-width="0.9"/>
<text transform="translate(615.5 190) scale(1.13 1)" font-size="11.6" text-anchor="middle">0.2</text>
<line x1="630" y1="177.8" x2="630" y2="175.6" stroke="#333" stroke-width="0.9"/>
<line x1="645.4" y1="177.8" x2="645.4" y2="175.6" stroke="#333" stroke-width="0.9"/>
<text transform="translate(645.4 190) scale(1.13 1)" font-size="11.6" text-anchor="middle">0.4</text>
<line x1="661" y1="177.8" x2="661" y2="175.6" stroke="#333" stroke-width="0.9"/>
<text x="591.4" y="61.5" font-size="10">p=0.0009</text>
<text x="637.9" y="61.5" font-size="10">p=0.0009</text>
<rect x="608" y="63.3" width="23" height="7.1" fill="#eb9641"/>
<rect x="645.4" y="63.3" width="19.6" height="7.1" fill="#eb9641"/>
<line x1="560.7" y1="80.4" x2="583.9" y2="80.4" stroke="#e8963c" stroke-width="1"/>
<text x="588.4" y="84.2" font-size="12">Train S1, test S1</text>
<text x="527.8" y="121" font-size="13" text-anchor="middle" transform="rotate(-90 527.8 121)">Classifier accuracy</text>
<text x="611" y="205.5" font-size="13" text-anchor="middle">Time, relative to</text>
<text x="612.5" y="221" font-size="13" text-anchor="middle">stimulus onset (s)</text>
<text x="6.3" y="242.1" font-size="14" font-weight="bold">e</text>
<text x="27.1" y="242.1" font-size="13.15">Color category is encoded in all regions</text>
<line x1="302.7" y1="232.5" x2="325.3" y2="232.5" stroke="#e8963c" stroke-width="0.9"/>
<text x="330.3" y="237.1" font-size="12">Train S1, test S1</text>
<line x1="302.7" y1="243.1" x2="325.3" y2="243.1" stroke="#3873ad" stroke-width="0.9"/>
<text x="330.3" y="247.7" font-size="12">Train C2, test C2</text>
<line x1="302.7" y1="253.3" x2="325.3" y2="253.3" stroke="#478535" stroke-width="0.9"/>
<text x="330.3" y="258.5" font-size="12">Train C1, test C1</text>
<text x="108.6" y="270.2" font-size="19.3" text-anchor="middle" font-weight="bold">Striatum</text>
<clipPath id="c5"><rect x="54" y="231.6" width="116.1" height="173.8"/></clipPath>
<g clip-path="url(#c5)">
<polygon points="54,368.9 55.3,368.8 57.1,368.7 59.2,368.6 61.4,368.4 63.5,368.1 65.3,367.7 66.7,367 67.9,366.1 69,365.1 70.1,364.1 71.4,363.2 72.9,362.6 74.8,362.3 76.9,362.1 79.2,362 81.4,362.1 83.5,362.3 85.4,362.6 87,363.1 88.3,364 89.5,365 90.7,365.8 91.8,366.4 93,366.4 94.2,365.8 95.4,364.8 96.6,363.5 97.8,362 99.1,360.4 100.5,358.9 102,357.4 103.6,355.7 105.3,353.9 107.1,352.2 108.8,350.4 110.5,348.8 112.2,347.2 114,345.4 115.7,343.8 117.4,342.2 119.1,340.9 120.6,340 122,339.4 123.2,339.1 124.4,339 125.5,339.1 126.7,339.5 128.1,340 129.7,340.8 131.4,342 133.1,343.3 134.9,344.8 136.6,346.3 138.2,347.6 139.6,348.9 140.8,350.2 141.9,351.6 143.1,352.9 144.3,354.1 145.7,355.1 147.2,356 148.9,356.9 150.6,357.7 152.3,358.3 154.1,358.7 155.8,358.9 157.5,358.7 159.4,358.2 161.2,357.6 162.9,356.7 164.5,355.9 165.8,355.1 166.8,354.3 167.7,353.3 168.3,352.3 168.8,351.4 169.3,350.6 169.6,350 169.6,391.5 168.7,391.2 167.4,390.7 165.8,390.1 164.1,389.6 162.4,389.2 160.8,389 159.2,389.2 157.5,389.8 155.7,390.5 154,391.1 152.3,391.5 150.8,391.5 149.4,391 148.2,390.3 147,389.3 145.8,388.1 144.6,386.7 143.2,385.3 141.7,383.6 140,381.5 138.4,379.3 136.6,377.2 134.9,375.4 133.2,374 131.5,373.1 129.8,372.6 128.2,372.3 126.5,372.3 124.8,372.4 123.1,372.7 121.4,373.1 119.8,373.5 118.2,374.2 116.5,375.1 114.8,376.2 113,377.7 111.1,379.8 109,382.4 106.9,385.3 104.8,388.2 102.6,390.8 100.5,392.8 98.4,394.1 96.3,395.1 94.3,395.7 92.2,396.1 90.1,396.4 88,396.6 85.8,396.6 83.6,396.4 81.4,396 79.2,395.6 77.2,395.4 75.4,395.3 73.8,395.4 72.5,395.6 71.3,395.9 70.1,396.4 69,397 67.8,397.8 66.5,399.1 65.2,400.8 64,402.7 62.7,404.5 61.5,405.8 60.3,406.5 59.1,406.3 57.9,405.3 56.7,403.9 55.6,402.5 54.7,401.1 54,400.3" fill="#0072bd" fill-opacity="0.26"/>
<polyline points="54,368.9 55.3,368.8 57.1,368.7 59.2,368.6 61.4,368.4 63.5,368.1 65.3,367.7 66.7,367 67.9,366.1 69,365.1 70.1,364.1 71.4,363.2 72.9,362.6 74.8,362.3 76.9,362.1 79.2,362 81.4,362.1 83.5,362.3 85.4,362.6 87,363.1 88.3,364 89.5,365 90.7,365.8 91.8,366.4 93,366.4 94.2,365.8 95.4,364.8 96.6,363.5 97.8,362 99.1,360.4 100.5,358.9 102,357.4 103.6,355.7 105.3,353.9 107.1,352.2 108.8,350.4 110.5,348.8 112.2,347.2 114,345.4 115.7,343.8 117.4,342.2 119.1,340.9 120.6,340 122,339.4 123.2,339.1 124.4,339 125.5,339.1 126.7,339.5 128.1,340 129.7,340.8 131.4,342 133.1,343.3 134.9,344.8 136.6,346.3 138.2,347.6 139.6,348.9 140.8,350.2 141.9,351.6 143.1,352.9 144.3,354.1 145.7,355.1 147.2,356 148.9,356.9 150.6,357.7 152.3,358.3 154.1,358.7 155.8,358.9 157.5,358.7 159.4,358.2 161.2,357.6 162.9,356.7 164.5,355.9 165.8,355.1 166.8,354.3 167.7,353.3 168.3,352.3 168.8,351.4 169.3,350.6 169.6,350" fill="none" stroke="#5b8fb0" stroke-opacity="0.55" stroke-width="0.7"/>
<polyline points="54,400.3 54.7,401.1 55.6,402.5 56.7,403.9 57.9,405.3 59.1,406.3 60.3,406.5 61.5,405.8 62.7,404.5 64,402.7 65.2,400.8 66.5,399.1 67.8,397.8 69,397 70.1,396.4 71.3,395.9 72.5,395.6 73.8,395.4 75.4,395.3 77.2,395.4 79.2,395.6 81.4,396 83.6,396.4 85.8,396.6 88,396.6 90.1,396.4 92.2,396.1 94.3,395.7 96.3,395.1 98.4,394.1 100.5,392.8 102.6,390.8 104.8,388.2 106.9,385.3 109,382.4 111.1,379.8 113,377.7 114.8,376.2 116.5,375.1 118.2,374.2 119.8,373.5 121.4,373.1 123.1,372.7 124.8,372.4 126.5,372.3 128.2,372.3 129.8,372.6 131.5,373.1 133.2,374 134.9,375.4 136.6,377.2 138.4,379.3 140,381.5 141.7,383.6 143.2,385.3 144.6,386.7 145.8,388.1 147,389.3 148.2,390.3 149.4,391 150.8,391.5 152.3,391.5 154,391.1 155.7,390.5 157.5,389.8 159.2,389.2 160.8,389 162.4,389.2 164.1,389.6 165.8,390.1 167.4,390.7 168.7,391.2 169.6,391.5" fill="none" stroke="#5b8fb0" stroke-opacity="0.55" stroke-width="0.7"/>
<polygon points="54,366.4 55.2,366.4 57,366.4 59,366.5 61.2,366.5 63.4,366.5 65.3,366.4 67,366.2 68.7,366 70.3,365.7 71.9,365.5 73.6,365.3 75.4,365.2 77.4,365.3 79.5,365.7 81.7,366.1 83.9,366.5 86,366.6 88,366.4 89.8,365.8 91.5,365 93.2,363.9 94.8,362.8 96.4,361.5 98,360.1 99.7,358.6 101.4,357 103.1,355.2 104.8,353.4 106.5,351.7 108,350.1 109.4,348.6 110.7,347.2 112,345.9 113.2,344.7 114.4,343.5 115.6,342.5 116.9,341.6 118.1,340.7 119.4,340 120.6,339.4 121.8,339 123.1,338.8 124.4,338.8 125.6,339 126.9,339.4 128.2,339.9 129.4,340.5 130.7,341.3 132,342.3 133.2,343.4 134.5,344.7 135.7,346.1 137,347.5 138.2,348.8 139.4,350.2 140.6,351.7 141.8,353.1 143,354.5 144.3,355.6 145.7,356.4 147.2,356.7 148.9,356.7 150.6,356.5 152.3,356 154.1,355.6 155.8,355.1 157.5,354.6 159.4,354 161.2,353.3 162.9,352.6 164.5,351.9 165.8,351.3 166.8,350.8 167.7,350.3 168.3,349.8 168.8,349.4 169.3,349.1 169.6,348.8 169.6,385.3 168.4,385.7 166.6,386.4 164.6,387.1 162.4,387.9 160.2,388.6 158.3,389 156.5,389.3 154.8,389.7 153.2,389.9 151.5,390 149.9,389.7 148.2,389 146.5,387.7 144.9,386 143.2,383.9 141.5,381.7 139.9,379.6 138.2,377.7 136.5,376 134.7,374.2 133,372.6 131.3,371.1 129.6,369.8 128.1,369 126.7,368.6 125.5,368.4 124.4,368.6 123.2,369 122,369.5 120.6,370.2 119.1,371 117.4,372 115.7,373.1 114,374.4 112.2,375.9 110.5,377.7 108.9,379.9 107.3,382.6 105.6,385.5 104,388.3 102.3,390.8 100.5,392.8 98.6,394.1 96.5,394.9 94.4,395.3 92.3,395.7 90.1,396 88,396.6 85.9,397.5 83.7,398.5 81.6,399.7 79.4,400.6 77.4,401.3 75.4,401.6 73.6,401.3 71.9,400.5 70.3,399.4 68.7,398.3 67,397.3 65.3,396.6 63.4,396.3 61.2,396.2 59,396.3 57,396.4 55.2,396.5 54,396.6" fill="#4f8a3a" fill-opacity="0.27"/>
<polyline points="54,366.4 55.2,366.4 57,366.4 59,366.5 61.2,366.5 63.4,366.5 65.3,366.4 67,366.2 68.7,366 70.3,365.7 71.9,365.5 73.6,365.3 75.4,365.2 77.4,365.3 79.5,365.7 81.7,366.1 83.9,366.5 86,366.6 88,366.4 89.8,365.8 91.5,365 93.2,363.9 94.8,362.8 96.4,361.5 98,360.1 99.7,358.6 101.4,357 103.1,355.2 104.8,353.4 106.5,351.7 108,350.1 109.4,348.6 110.7,347.2 112,345.9 113.2,344.7 114.4,343.5 115.6,342.5 116.9,341.6 118.1,340.7 119.4,340 120.6,339.4 121.8,339 123.1,338.8 124.4,338.8 125.6,339 126.9,339.4 128.2,339.9 129.4,340.5 130.7,341.3 132,342.3 133.2,343.4 134.5,344.7 135.7,346.1 137,347.5 138.2,348.8 139.4,350.2 140.6,351.7 141.8,353.1 143,354.5 144.3,355.6 145.7,356.4 147.2,356.7 148.9,356.7 150.6,356.5 152.3,356 154.1,355.6 155.8,355.1 157.5,354.6 159.4,354 161.2,353.3 162.9,352.6 164.5,351.9 165.8,351.3 166.8,350.8 167.7,350.3 168.3,349.8 168.8,349.4 169.3,349.1 169.6,348.8" fill="none" stroke="#5f8f4f" stroke-opacity="0.55" stroke-width="0.7"/>
<polyline points="54,396.6 55.2,396.5 57,396.4 59,396.3 61.2,396.2 63.4,396.3 65.3,396.6 67,397.3 68.7,398.3 70.3,399.4 71.9,400.5 73.6,401.3 75.4,401.6 77.4,401.3 79.4,400.6 81.6,399.7 83.7,398.5 85.9,397.5 88,396.6 90.1,396 92.3,395.7 94.4,395.3 96.5,394.9 98.6,394.1 100.5,392.8 102.3,390.8 104,388.3 105.6,385.5 107.3,382.6 108.9,379.9 110.5,377.7 112.2,375.9 114,374.4 115.7,373.1 117.4,372 119.1,371 120.6,370.2 122,369.5 123.2,369 124.4,368.6 125.5,368.4 126.7,368.6 128.1,369 129.6,369.8 131.3,371.1 133,372.6 134.7,374.2 136.5,376 138.2,377.7 139.9,379.6 141.5,381.7 143.2,383.9 144.9,386 146.5,387.7 148.2,389 149.9,389.7 151.5,390 153.2,389.9 154.8,389.7 156.5,389.3 158.3,389 160.2,388.6 162.4,387.9 164.6,387.1 166.6,386.4 168.4,385.7 169.6,385.3" fill="none" stroke="#5f8f4f" stroke-opacity="0.55" stroke-width="0.7"/>
<polygon points="54,366.4 55.2,366.4 57,366.4 59,366.3 61.2,366.3 63.4,366.3 65.3,366.4 67,366.6 68.7,366.8 70.3,367.1 71.9,367.4 73.6,367.6 75.4,367.7 77.4,367.6 79.4,367.3 81.6,366.9 83.7,366.6 85.9,366.4 88,366.4 90.1,366.8 92.2,367.5 94.3,368.3 96.3,369.1 98.4,369.8 100.5,370.2 102.6,370.3 104.7,370.2 106.7,369.9 108.8,369.6 110.9,369.2 113,368.9 115.1,368.6 117.2,368.2 119.3,367.7 121.4,367.3 123.5,366.8 125.6,366.4 127.7,365.9 129.8,365.4 131.9,364.9 134,364.5 136.1,364.1 138.2,363.9 140.3,363.9 142.5,364.1 144.7,364.4 146.8,364.7 148.9,365 150.8,365.2 152.6,365.3 154.4,365.3 156,365.2 157.7,365.2 159.2,365.1 160.8,365.2 162.4,365.3 164.1,365.6 165.8,365.8 167.4,366 168.7,366.3 169.6,366.4 169.6,401.6 168.7,401.3 167.4,400.9 165.8,400.4 164.1,399.9 162.4,399.5 160.8,399.1 159.2,398.8 157.7,398.5 156,398.2 154.4,398 152.6,397.9 150.8,397.8 148.9,397.9 146.8,398 144.7,398.3 142.5,398.5 140.3,398.8 138.2,399.1 136.1,399.4 134,399.7 131.9,400 129.8,400.3 127.7,400.6 125.6,400.8 123.5,401 121.4,401.1 119.3,401.2 117.2,401.3 115.1,401.5 113,401.6 110.9,401.8 108.8,402.2 106.7,402.6 104.7,402.8 102.6,403 100.5,402.8 98.4,402.3 96.3,401.5 94.3,400.5 92.2,399.5 90.1,398.6 88,397.8 85.9,397.2 83.7,396.6 81.6,396.2 79.4,395.8 77.4,395.5 75.4,395.3 73.6,395.3 71.9,395.5 70.3,395.8 68.7,396.1 67,396.4 65.3,396.6 63.4,396.7 61.2,396.7 59,396.7 57,396.6 55.2,396.6 54,396.6" fill="#e8963c" fill-opacity="0.27"/>
<polyline points="54,366.4 55.2,366.4 57,366.4 59,366.3 61.2,366.3 63.4,366.3 65.3,366.4 67,366.6 68.7,366.8 70.3,367.1 71.9,367.4 73.6,367.6 75.4,367.7 77.4,367.6 79.4,367.3 81.6,366.9 83.7,366.6 85.9,366.4 88,366.4 90.1,366.8 92.2,367.5 94.3,368.3 96.3,369.1 98.4,369.8 100.5,370.2 102.6,370.3 104.7,370.2 106.7,369.9 108.8,369.6 110.9,369.2 113,368.9 115.1,368.6 117.2,368.2 119.3,367.7 121.4,367.3 123.5,366.8 125.6,366.4 127.7,365.9 129.8,365.4 131.9,364.9 134,364.5 136.1,364.1 138.2,363.9 140.3,363.9 142.5,364.1 144.7,364.4 146.8,364.7 148.9,365 150.8,365.2 152.6,365.3 154.4,365.3 156,365.2 157.7,365.2 159.2,365.1 160.8,365.2 162.4,365.3 164.1,365.6 165.8,365.8 167.4,366 168.7,366.3 169.6,366.4" fill="none" stroke="#dba560" stroke-opacity="0.55" stroke-width="0.7"/>
<polyline points="54,396.6 55.2,396.6 57,396.6 59,396.7 61.2,396.7 63.4,396.7 65.3,396.6 67,396.4 68.7,396.1 70.3,395.8 71.9,395.5 73.6,395.3 75.4,395.3 77.4,395.5 79.4,395.8 81.6,396.2 83.7,396.6 85.9,397.2 88,397.8 90.1,398.6 92.2,399.5 94.3,400.5 96.3,401.5 98.4,402.3 100.5,402.8 102.6,403 104.7,402.8 106.7,402.6 108.8,402.2 110.9,401.8 113,401.6 115.1,401.5 117.2,401.3 119.3,401.2 121.4,401.1 123.5,401 125.6,400.8 127.7,400.6 129.8,400.3 131.9,400 134,399.7 136.1,399.4 138.2,399.1 140.3,398.8 142.5,398.5 144.7,398.3 146.8,398 148.9,397.9 150.8,397.8 152.6,397.9 154.4,398 156,398.2 157.7,398.5 159.2,398.8 160.8,399.1 162.4,399.5 164.1,399.9 165.8,400.4 167.4,400.9 168.7,401.3 169.6,401.6" fill="none" stroke="#dba560" stroke-opacity="0.55" stroke-width="0.7"/>
<line x1="54" y1="386.5" x2="67.8" y2="386.5" stroke="#8a8a8a" stroke-width="1"/>
<line x1="85.4" y1="386.5" x2="99" y2="386.5" stroke="#8a8a8a" stroke-width="1"/>
<line x1="118" y1="386.5" x2="129.4" y2="386.5" stroke="#8a8a8a" stroke-width="1"/>
<line x1="148.2" y1="386.5" x2="159.5" y2="386.5" stroke="#8a8a8a" stroke-width="1"/>
<polyline points="54,386.5 54.7,386.9 55.6,387.5 56.7,388.1 57.9,388.7 59.1,389.1 60.3,389 61.5,388.4 62.7,387.5 64,386.3 65.2,385 66.5,383.7 67.8,382.7 69,381.8 70.2,380.9 71.4,380 72.7,379.2 74,378.6 75.4,378.2 77,378 78.6,377.9 80.4,378 82.2,378.2 83.8,378.6 85.4,379 86.8,379.7 88.1,380.7 89.4,381.8 90.6,382.8 91.8,383.6 93,384 94.2,384 95.4,383.8 96.6,383.3 97.8,382.5 99.1,381.5 100.5,380.2 102,378.4 103.6,376.2 105.3,373.7 107.1,371.1 108.8,368.6 110.5,366.4 112.2,364.4 114,362.5 115.8,360.6 117.5,359 119.1,357.5 120.6,356.4 121.9,355.5 122.9,354.9 123.9,354.5 124.8,354.4 125.8,354.4 127,354.6 128.3,355.1 129.7,355.8 131.1,356.7 132.6,357.8 134.1,358.9 135.7,360.1 137.3,361.4 139,362.9 140.8,364.5 142.5,366.1 144.2,367.6 145.7,368.9 147.1,370 148.4,371.1 149.7,372.1 150.9,372.9 152.1,373.6 153.3,374 154.6,374.2 155.9,374.1 157.2,373.8 158.5,373.5 159.7,373.1 160.8,372.7 161.8,372.3 162.7,371.8 163.5,371.3 164.3,370.8 165.1,370.4 165.8,370.2 166.5,370.2 167.3,370.4 168,370.6 168.7,371 169.2,371.2 169.6,371.4" fill="none" stroke="#3873ad" stroke-width="0.9"/>
<polyline points="54,384 55.2,383.6 57,382.9 59,382.2 61.2,381.5 63.4,381 65.3,380.7 67,380.7 68.7,381 70.3,381.3 71.9,381.8 73.6,382.3 75.4,382.7 77.4,383.2 79.5,383.8 81.7,384.4 83.9,384.9 86,385.2 88,385.3 89.8,385.2 91.5,384.9 93.2,384.4 94.8,383.7 96.4,382.8 98,381.5 99.7,379.7 101.3,377.5 103,375 104.7,372.4 106.3,369.9 108,367.7 109.7,365.7 111.5,363.8 113.2,362 114.9,360.3 116.6,358.8 118.1,357.6 119.5,356.6 120.8,355.8 122,355.2 123.2,354.8 124.4,354.6 125.6,354.6 126.9,354.9 128.1,355.4 129.4,356.2 130.7,357 131.9,358 133.2,358.9 134.4,359.8 135.6,360.9 136.8,362 138,363.1 139.3,364.2 140.7,365.2 142.2,366.2 143.9,367.1 145.6,368.1 147.3,369 149.1,369.7 150.8,370.2 152.5,370.5 154.2,370.7 155.9,370.7 157.6,370.6 159.2,370.4 160.8,370.2 162.4,369.9 164.1,369.5 165.8,368.9 167.4,368.4 168.7,368 169.6,367.7" fill="none" stroke="#478535" stroke-width="1"/>
<polyline points="54,382.7 55.2,382.5 57,382.3 59,382 61.2,381.7 63.4,381.5 65.3,381.5 67,381.6 68.7,381.8 70.3,382.1 71.9,382.4 73.6,382.8 75.4,383.2 77.4,383.7 79.4,384.3 81.6,384.9 83.7,385.5 85.9,386.1 88,386.5 90.1,386.8 92.2,387.1 94.3,387.3 96.3,387.4 98.4,387.4 100.5,387.3 102.6,387 104.7,386.4 106.7,385.8 108.8,385.1 110.9,384.5 113,384 115.1,383.7 117.2,383.4 119.3,383.2 121.4,383.1 123.5,382.9 125.6,382.7 127.7,382.5 129.8,382.3 131.9,382.1 134,381.9 136.1,381.7 138.2,381.5 140.3,381.3 142.5,381.1 144.7,381 146.8,380.8 148.9,380.7 150.8,380.7 152.6,380.8 154.4,380.9 156,381 157.7,381.2 159.2,381.4 160.8,381.5 162.4,381.5 164.1,381.6 165.8,381.6 167.4,381.5 168.7,381.5 169.6,381.5" fill="none" stroke="#e8963c" stroke-width="1"/>
</g>
<path d="M54 291.6V405.4H169.6" fill="none" stroke="#333" stroke-width="1.2"/>
<line x1="54" y1="293.9" x2="56.2" y2="293.9" stroke="#333" stroke-width="0.9"/>
<text transform="translate(51.5 297.9) scale(1.13 1)" font-size="11.6" text-anchor="end">0.8</text>
<line x1="54" y1="325.5" x2="56.2" y2="325.5" stroke="#333" stroke-width="0.9"/>
<text transform="translate(51.5 329.6) scale(1.13 1)" font-size="11.6" text-anchor="end">0.7</text>
<line x1="54" y1="355.8" x2="56.2" y2="355.8" stroke="#333" stroke-width="0.9"/>
<text transform="translate(51.5 359.9) scale(1.13 1)" font-size="11.6" text-anchor="end">0.6</text>
<line x1="54" y1="385.6" x2="56.2" y2="385.6" stroke="#333" stroke-width="0.9"/>
<text transform="translate(51.5 389.7) scale(1.13 1)" font-size="11.6" text-anchor="end">0.5</text>
<line x1="84.9" y1="405.4" x2="84.9" y2="403.2" stroke="#333" stroke-width="0.9"/>
<text transform="translate(84.9 417.4) scale(1.13 1)" font-size="11.6" text-anchor="middle">0</text>
<line x1="115.6" y1="405.4" x2="115.6" y2="403.2" stroke="#333" stroke-width="0.9"/>
<text transform="translate(115.6 417.4) scale(1.13 1)" font-size="11.6" text-anchor="middle">0.2</text>
<line x1="147" y1="405.4" x2="147" y2="403.2" stroke="#333" stroke-width="0.9"/>
<text transform="translate(147 417.4) scale(1.13 1)" font-size="11.6" text-anchor="middle">0.4</text>
<text x="111.3" y="304.2" font-size="10">p=0.0009</text>
<rect x="111.3" y="306.7" width="38.7" height="7" fill="#5a913c"/>
<rect x="117.3" y="317.5" width="20.1" height="7.2" fill="#377dbe"/>
<text x="108" y="334.3" font-size="10">p=0.0009</text>
<text x="25.5" y="344" font-size="13" text-anchor="middle" transform="rotate(-90 25.5 344)">Classifier accuracy</text>
<text x="272.5" y="270.2" font-size="19.3" text-anchor="middle" font-weight="bold">aIT</text>
<clipPath id="c6"><rect x="224" y="231.6" width="114.8" height="174.5"/></clipPath>
<g clip-path="url(#c6)">
<polygon points="224,348.8 224.7,348.6 225.7,348.3 226.9,348 228.2,347.7 229.6,347.5 231,347.6 232.5,348 234,348.7 235.7,349.5 237.3,350.3 239,351 240.6,351.3 242.2,351.3 243.7,351 245.2,350.5 246.8,350 248.3,349.4 249.9,348.8 251.6,348.2 253.3,347.4 255,346.7 256.7,345.9 258.4,345.4 259.9,345 261.3,345 262.6,345.3 263.9,345.8 265.1,346.2 266.3,346.5 267.5,346.3 268.8,345.7 270,344.7 271.2,343.5 272.5,342.2 273.7,341 275,340 276.2,339.1 277.4,338.2 278.6,337.4 279.9,336.7 281.2,336.1 282.6,335.6 284.1,335.4 285.8,335.4 287.4,335.5 289.2,335.6 290.9,335.7 292.6,335.6 294.3,335.3 296.1,335 297.9,334.5 299.6,334 301.2,333.5 302.7,333 304,332.6 305.1,332.2 306.1,331.9 307,331.3 308,330.5 309,329.3 310,327.6 311,325.4 312,323 313,320.4 314.1,317.8 315.2,315.5 316.4,313.3 317.5,311 318.8,308.7 320,306.6 321.4,304.6 322.8,302.9 324.4,301.4 326.1,300.1 327.9,299 329.7,298.1 331.4,297.3 332.8,296.6 334,296.1 335.2,295.8 336.2,295.6 337,295.5 337.8,295.5 338.3,295.4 338.3,335 337.7,335.2 336.9,335.6 336,335.9 335,336.4 333.9,336.9 332.8,337.5 331.7,338.2 330.5,338.9 329.2,339.7 327.9,340.5 326.6,341.5 325.3,342.5 324,343.6 322.8,344.8 321.5,346 320.2,347.3 319,348.7 317.7,350.1 316.4,351.6 315.2,353.3 313.9,354.9 312.7,356.7 311.4,358.4 310.2,360.1 309,361.8 307.7,363.6 306.5,365.3 305.2,367 304,368.7 302.7,370.2 301.4,371.6 300.2,372.9 298.9,374.2 297.6,375.4 296.4,376.5 295.1,377.7 293.8,378.8 292.6,379.9 291.4,380.9 290.1,381.9 288.9,383 287.6,384 286.3,385.1 285,386.4 283.6,387.6 282.3,388.8 281.1,389.7 280,390.3 279,390.6 278.2,390.5 277.5,390.3 276.8,389.9 275.9,389.4 275,389 274,388.4 272.9,387.6 271.7,386.7 270.5,385.9 269.1,385.4 267.5,385.3 265.7,385.8 263.7,386.8 261.5,388 259.3,389.3 257.1,390.6 254.9,391.5 252.8,392.1 250.6,392.6 248.5,393 246.4,393.3 244.3,393.6 242.4,394 240.6,394.4 238.8,394.7 237.1,395.1 235.4,395.5 233.9,396 232.3,396.6 230.7,397.5 229.1,398.6 227.5,399.9 226.1,401.1 224.9,402.1 224,402.8" fill="#0072bd" fill-opacity="0.455"/>
<polyline points="224,348.8 224.7,348.6 225.7,348.3 226.9,348 228.2,347.7 229.6,347.5 231,347.6 232.5,348 234,348.7 235.7,349.5 237.3,350.3 239,351 240.6,351.3 242.2,351.3 243.7,351 245.2,350.5 246.8,350 248.3,349.4 249.9,348.8 251.6,348.2 253.3,347.4 255,346.7 256.7,345.9 258.4,345.4 259.9,345 261.3,345 262.6,345.3 263.9,345.8 265.1,346.2 266.3,346.5 267.5,346.3 268.8,345.7 270,344.7 271.2,343.5 272.5,342.2 273.7,341 275,340 276.2,339.1 277.4,338.2 278.6,337.4 279.9,336.7 281.2,336.1 282.6,335.6 284.1,335.4 285.8,335.4 287.4,335.5 289.2,335.6 290.9,335.7 292.6,335.6 294.3,335.3 296.1,335 297.9,334.5 299.6,334 301.2,333.5 302.7,333 304,332.6 305.1,332.2 306.1,331.9 307,331.3 308,330.5 309,329.3 310,327.6 311,325.4 312,323 313,320.4 314.1,317.8 315.2,315.5 316.4,313.3 317.5,311 318.8,308.7 320,306.6 321.4,304.6 322.8,302.9 324.4,301.4 326.1,300.1 327.9,299 329.7,298.1 331.4,297.3 332.8,296.6 334,296.1 335.2,295.8 336.2,295.6 337,295.5 337.8,295.5 338.3,295.4" fill="none" stroke="#5b8fb0" stroke-opacity="0.55" stroke-width="0.7"/>
<polyline points="224,402.8 224.9,402.1 226.1,401.1 227.5,399.9 229.1,398.6 230.7,397.5 232.3,396.6 233.9,396 235.4,395.5 237.1,395.1 238.8,394.7 240.6,394.4 242.4,394 244.3,393.6 246.4,393.3 248.5,393 250.6,392.6 252.8,392.1 254.9,391.5 257.1,390.6 259.3,389.3 261.5,388 263.7,386.8 265.7,385.8 267.5,385.3 269.1,385.4 270.5,385.9 271.7,386.7 272.9,387.6 274,388.4 275,389 275.9,389.4 276.8,389.9 277.5,390.3 278.2,390.5 279,390.6 280,390.3 281.1,389.7 282.3,388.8 283.6,387.6 285,386.4 286.3,385.1 287.6,384 288.9,383 290.1,381.9 291.4,380.9 292.6,379.9 293.8,378.8 295.1,377.7 296.4,376.5 297.6,375.4 298.9,374.2 300.2,372.9 301.4,371.6 302.7,370.2 304,368.7 305.2,367 306.5,365.3 307.7,363.6 309,361.8 310.2,360.1 311.4,358.4 312.7,356.7 313.9,354.9 315.2,353.3 316.4,351.6 317.7,350.1 319,348.7 320.2,347.3 321.5,346 322.8,344.8 324,343.6 325.3,342.5 326.6,341.5 327.9,340.5 329.2,339.7 330.5,338.9 331.7,338.2 332.8,337.5 333.9,336.9 335,336.4 336,335.9 336.9,335.6 337.7,335.2 338.3,335" fill="none" stroke="#5b8fb0" stroke-opacity="0.55" stroke-width="0.7"/>
<polygon points="224,360.1 225.2,359.4 226.7,358.3 228.6,357.1 230.7,355.9 232.8,354.7 234.8,353.8 236.8,353.2 238.9,352.7 241,352.3 243.1,352 245.3,351.7 247.4,351.3 249.5,351 251.7,350.7 253.8,350.5 255.9,350.1 258,349.6 259.9,348.8 261.8,347.6 263.5,346.1 265.3,344.4 266.9,342.6 268.5,341 270,339.5 271.4,338.2 272.6,337 273.7,335.8 274.9,334.8 276.1,333.8 277.5,333 279,332.3 280.7,331.8 282.4,331.3 284.1,331 285.9,330.7 287.6,330.5 289.3,330.4 291,330.3 292.8,330.4 294.4,330.4 296.1,330.5 297.6,330.5 299,330.5 300.3,330.6 301.6,330.7 302.8,330.7 304,330.5 305.2,330 306.4,329.2 307.6,328.3 308.8,327.1 310,325.8 311.3,324.4 312.7,323 314.2,321.5 315.9,319.8 317.6,318 319.3,316.2 321.1,314.5 322.8,312.9 324.5,311.5 326.3,310.3 328.1,309.1 329.8,307.9 331.4,306.7 332.8,305.4 334,303.9 335.2,302.2 336.2,300.5 337,298.9 337.8,297.6 338.3,296.6 338.3,353.8 337.4,353.8 336.2,353.7 334.8,353.6 333.2,353.5 331.7,353.6 330.3,353.8 329,354.2 327.8,354.6 326.5,355.2 325.3,355.9 324.1,356.7 322.8,357.6 321.5,358.7 320.3,359.9 319,361.3 317.7,362.7 316.5,364 315.2,365.2 314,366.2 312.8,367.1 311.6,367.9 310.4,368.6 309.1,369.4 307.7,370.2 306.2,371.1 304.6,372 303,372.9 301.2,373.7 299.5,374.5 297.6,375.2 295.6,375.7 293.6,376.2 291.4,376.5 289.3,376.9 287.1,377.2 285,377.7 282.9,378.2 280.8,378.7 278.7,379.3 276.7,379.9 274.6,380.6 272.5,381.5 270.4,382.6 268.3,383.9 266.2,385.3 264.1,386.7 262,388 259.9,389 257.8,389.7 255.6,390.1 253.5,390.4 251.4,390.7 249.3,391 247.4,391.5 245.5,392.2 243.8,393 242,393.8 240.4,394.7 238.8,395.7 237.3,396.6 235.9,397.6 234.5,398.7 233.3,399.9 232.1,401 230.9,402 229.8,402.8 228.7,403.5 227.5,404 226.4,404.5 225.4,404.9 224.6,405.2 224,405.4" fill="#4f8a3a" fill-opacity="0.473"/>
<polyline points="224,360.1 225.2,359.4 226.7,358.3 228.6,357.1 230.7,355.9 232.8,354.7 234.8,353.8 236.8,353.2 238.9,352.7 241,352.3 243.1,352 245.3,351.7 247.4,351.3 249.5,351 251.7,350.7 253.8,350.5 255.9,350.1 258,349.6 259.9,348.8 261.8,347.6 263.5,346.1 265.3,344.4 266.9,342.6 268.5,341 270,339.5 271.4,338.2 272.6,337 273.7,335.8 274.9,334.8 276.1,333.8 277.5,333 279,332.3 280.7,331.8 282.4,331.3 284.1,331 285.9,330.7 287.6,330.5 289.3,330.4 291,330.3 292.8,330.4 294.4,330.4 296.1,330.5 297.6,330.5 299,330.5 300.3,330.6 301.6,330.7 302.8,330.7 304,330.5 305.2,330 306.4,329.2 307.6,328.3 308.8,327.1 310,325.8 311.3,324.4 312.7,323 314.2,321.5 315.9,319.8 317.6,318 319.3,316.2 321.1,314.5 322.8,312.9 324.5,311.5 326.3,310.3 328.1,309.1 329.8,307.9 331.4,306.7 332.8,305.4 334,303.9 335.2,302.2 336.2,300.5 337,298.9 337.8,297.6 338.3,296.6" fill="none" stroke="#5f8f4f" stroke-opacity="0.55" stroke-width="0.7"/>
<polyline points="224,405.4 224.6,405.2 225.4,404.9 226.4,404.5 227.5,404 228.7,403.5 229.8,402.8 230.9,402 232.1,401 233.3,399.9 234.5,398.7 235.9,397.6 237.3,396.6 238.8,395.7 240.4,394.7 242,393.8 243.8,393 245.5,392.2 247.4,391.5 249.3,391 251.4,390.7 253.5,390.4 255.6,390.1 257.8,389.7 259.9,389 262,388 264.1,386.7 266.2,385.3 268.3,383.9 270.4,382.6 272.5,381.5 274.6,380.6 276.7,379.9 278.7,379.3 280.8,378.7 282.9,378.2 285,377.7 287.1,377.2 289.3,376.9 291.4,376.5 293.6,376.2 295.6,375.7 297.6,375.2 299.5,374.5 301.2,373.7 303,372.9 304.6,372 306.2,371.1 307.7,370.2 309.1,369.4 310.4,368.6 311.6,367.9 312.8,367.1 314,366.2 315.2,365.2 316.5,364 317.7,362.7 319,361.3 320.3,359.9 321.5,358.7 322.8,357.6 324.1,356.7 325.3,355.9 326.5,355.2 327.8,354.6 329,354.2 330.3,353.8 331.7,353.6 333.2,353.5 334.8,353.6 336.2,353.7 337.4,353.8 338.3,353.8" fill="none" stroke="#5f8f4f" stroke-opacity="0.55" stroke-width="0.7"/>
<polygon points="224,351.3 225.5,351.2 227.6,351 230,350.9 232.6,350.6 235.1,350.4 237.3,350.1 239.1,349.7 240.8,349.2 242.4,348.6 244,348.1 245.6,347.7 247.4,347.6 249.3,347.9 251.4,348.5 253.5,349.2 255.6,349.9 257.8,350.3 259.9,350.1 262.1,349.2 264.3,347.9 266.5,346.2 268.7,344.4 270.7,342.7 272.5,341.3 274,340.2 275.3,339.1 276.4,338.1 277.5,337.3 278.7,336.7 280,336.3 281.5,336.2 283.1,336.3 284.7,336.7 286.5,337.2 288.2,337.9 290.1,338.8 292.1,340 294.1,341.5 296.3,343.3 298.4,345 300.6,346.5 302.7,347.6 304.8,348.3 306.9,348.8 308.9,349.1 311,349.1 313.1,349 315.2,348.8 317.3,348.4 319.5,347.7 321.6,346.9 323.8,345.9 325.8,344.9 327.8,343.8 329.8,342.5 331.8,341 333.8,339.3 335.7,337.8 337.2,336.4 338.3,335.5 338.3,392.3 337.8,392.3 337,392.3 336.2,392.3 335.2,392.4 334,392.5 332.8,392.8 331.4,393.3 329.9,394 328.2,394.7 326.5,395.5 324.7,396.1 322.8,396.6 320.9,396.9 318.8,397.1 316.7,397.2 314.5,397.2 312.3,397 310.2,396.6 308.1,395.9 306,395 303.9,393.8 301.8,392.6 299.7,391.4 297.6,390.3 295.5,389.1 293.4,387.8 291.3,386.4 289.2,385.3 287.1,384.4 285,384 282.9,384.2 280.6,384.8 278.4,385.8 276.3,386.9 274.3,388 272.5,389 271,389.9 269.8,390.8 268.8,391.6 267.7,392.5 266.5,393.3 265,394 263.2,394.6 261.1,395.2 258.9,395.8 256.6,396.2 254.4,396.5 252.4,396.6 250.6,396.4 248.9,395.9 247.2,395.3 245.6,394.7 244,394.2 242.4,394 240.7,394.2 239,394.7 237.2,395.3 235.5,395.9 233.9,396.4 232.3,396.6 230.7,396.4 229.1,396 227.5,395.5 226.1,394.9 224.9,394.3 224,394" fill="#e8963c" fill-opacity="0.473"/>
<polyline points="224,351.3 225.5,351.2 227.6,351 230,350.9 232.6,350.6 235.1,350.4 237.3,350.1 239.1,349.7 240.8,349.2 242.4,348.6 244,348.1 245.6,347.7 247.4,347.6 249.3,347.9 251.4,348.5 253.5,349.2 255.6,349.9 257.8,350.3 259.9,350.1 262.1,349.2 264.3,347.9 266.5,346.2 268.7,344.4 270.7,342.7 272.5,341.3 274,340.2 275.3,339.1 276.4,338.1 277.5,337.3 278.7,336.7 280,336.3 281.5,336.2 283.1,336.3 284.7,336.7 286.5,337.2 288.2,337.9 290.1,338.8 292.1,340 294.1,341.5 296.3,343.3 298.4,345 300.6,346.5 302.7,347.6 304.8,348.3 306.9,348.8 308.9,349.1 311,349.1 313.1,349 315.2,348.8 317.3,348.4 319.5,347.7 321.6,346.9 323.8,345.9 325.8,344.9 327.8,343.8 329.8,342.5 331.8,341 333.8,339.3 335.7,337.8 337.2,336.4 338.3,335.5" fill="none" stroke="#dba560" stroke-opacity="0.55" stroke-width="0.7"/>
<polyline points="224,394 224.9,394.3 226.1,394.9 227.5,395.5 229.1,396 230.7,396.4 232.3,396.6 233.9,396.4 235.5,395.9 237.2,395.3 239,394.7 240.7,394.2 242.4,394 244,394.2 245.6,394.7 247.2,395.3 248.9,395.9 250.6,396.4 252.4,396.6 254.4,396.5 256.6,396.2 258.9,395.8 261.1,395.2 263.2,394.6 265,394 266.5,393.3 267.7,392.5 268.8,391.6 269.8,390.8 271,389.9 272.5,389 274.3,388 276.3,386.9 278.4,385.8 280.6,384.8 282.9,384.2 285,384 287.1,384.4 289.2,385.3 291.3,386.4 293.4,387.8 295.5,389.1 297.6,390.3 299.7,391.4 301.8,392.6 303.9,393.8 306,395 308.1,395.9 310.2,396.6 312.3,397 314.5,397.2 316.7,397.2 318.8,397.1 320.9,396.9 322.8,396.6 324.7,396.1 326.5,395.5 328.2,394.7 329.9,394 331.4,393.3 332.8,392.8 334,392.5 335.2,392.4 336.2,392.3 337,392.3 337.8,392.3 338.3,392.3" fill="none" stroke="#dba560" stroke-opacity="0.55" stroke-width="0.7"/>
<line x1="224" y1="374.5" x2="238.6" y2="374.5" stroke="#8a8a8a" stroke-width="1"/>
<line x1="254.9" y1="374.5" x2="268.7" y2="374.5" stroke="#8a8a8a" stroke-width="1"/>
<line x1="283.8" y1="374.5" x2="298.9" y2="374.5" stroke="#8a8a8a" stroke-width="1"/>
<line x1="314" y1="374.5" x2="329" y2="374.5" stroke="#8a8a8a" stroke-width="1"/>
<polyline points="224,368.9 224.9,369 226.2,369.1 227.7,369.3 229.3,369.5 230.9,369.8 232.3,370.2 233.6,370.7 234.9,371.4 236.1,372.2 237.3,372.9 238.6,373.6 239.8,374 241.1,374.3 242.3,374.5 243.6,374.6 244.9,374.5 246.1,374.3 247.4,374 248.6,373.4 249.8,372.6 251,371.7 252.2,370.7 253.5,369.7 254.9,368.9 256.5,368.2 258.2,367.4 259.9,366.7 261.7,366.1 263.4,365.6 265,365.2 266.4,365 267.7,364.8 268.9,364.8 270.1,364.9 271.3,365 272.5,365.2 273.7,365.6 275,366.1 276.2,366.8 277.5,367.3 278.7,367.7 280,367.7 281.2,367.3 282.4,366.6 283.6,365.6 284.9,364.6 286.2,363.5 287.6,362.6 289.1,361.7 290.8,360.9 292.4,360 294.2,359.2 295.9,358.4 297.6,357.6 299.3,356.9 301.1,356.3 303,355.8 304.7,355.2 306.3,354.6 307.7,353.8 308.8,353 309.8,352.1 310.6,351.2 311.3,350.1 312,348.9 312.7,347.6 313.4,346 314,344.3 314.6,342.4 315.2,340.4 315.8,338.4 316.5,336.5 317.2,334.6 318,332.6 318.8,330.6 319.7,328.7 320.6,327 321.5,325.5 322.5,324.3 323.5,323.3 324.6,322.4 325.7,321.7 326.7,321 327.8,320.5 328.9,320 329.9,319.7 331,319.5 332.1,319.3 333.1,319.3 334,319.2 334.9,319.2 335.7,319.3 336.5,319.5 337.3,319.7 337.9,319.9 338.3,320" fill="none" stroke="#3873ad" stroke-width="0.9"/>
<polyline points="224,382.7 224.9,382.3 226.1,381.8 227.5,381.2 229.1,380.6 230.7,379.8 232.3,379 233.9,378.1 235.5,377 237.2,375.9 239,374.7 240.7,373.6 242.4,372.7 244.1,371.9 245.7,371.2 247.4,370.6 249.1,370.1 250.7,369.5 252.4,368.9 254.1,368.3 255.8,367.8 257.4,367.3 259.1,366.7 260.8,366 262.5,365.2 264.2,364.1 265.8,362.8 267.5,361.4 269.2,360 270.8,358.7 272.5,357.6 274.2,356.7 275.9,356 277.6,355.3 279.2,354.7 280.9,354.2 282.6,353.8 284.3,353.5 285.9,353.2 287.6,353 289.3,352.9 290.9,352.8 292.6,352.6 294.3,352.4 296,352.1 297.7,351.8 299.3,351.5 301,351.4 302.7,351.3 304.4,351.4 306.1,351.8 307.9,352.2 309.6,352.5 311.2,352.7 312.7,352.6 314.1,352.2 315.4,351.6 316.6,350.8 317.8,349.9 319,348.8 320.2,347.6 321.5,346.2 322.8,344.5 324.1,342.7 325.4,340.8 326.6,338.9 327.8,337.2 328.9,335.5 330,333.8 331.1,332.2 332.1,330.6 333.1,329.2 334,328 334.9,327 335.7,326.2 336.5,325.5 337.3,325 337.9,324.6 338.3,324.2" fill="none" stroke="#478535" stroke-width="1"/>
<polyline points="224,374 225.5,374 227.6,374 230,374.1 232.6,374.1 235.1,374.1 237.3,374 239.2,373.9 240.9,373.7 242.6,373.5 244.2,373.3 245.8,373 247.4,372.7 249.1,372.4 250.7,372 252.4,371.6 254.1,371.2 255.7,370.7 257.4,370.2 259.1,369.7 260.8,369.1 262.4,368.5 264.1,367.9 265.8,367.2 267.5,366.4 269.2,365.4 270.9,364.3 272.7,363 274.4,361.8 276,360.8 277.5,360.1 278.9,359.7 280.1,359.4 281.2,359.3 282.4,359.4 283.6,359.7 285,360.1 286.5,360.8 288.2,361.8 289.9,362.9 291.6,364.2 293.4,365.4 295.1,366.4 296.8,367.3 298.5,368.3 300.2,369.1 301.8,370 303.5,370.7 305.2,371.4 306.9,372 308.5,372.6 310.2,373.2 311.9,373.6 313.5,373.9 315.2,374 316.9,373.9 318.7,373.6 320.4,373.2 322.1,372.6 323.8,372 325.3,371.4 326.7,370.7 328.1,369.8 329.3,368.9 330.5,368 331.7,367.2 332.8,366.4 333.9,365.7 335,365.1 336,364.4 336.9,363.9 337.7,363.4 338.3,363.1" fill="none" stroke="#e8963c" stroke-width="1"/>
</g>
<path d="M224 291.6V406.1H338.3" fill="none" stroke="#333" stroke-width="1.2"/>
<line x1="224" y1="293.2" x2="226.2" y2="293.2" stroke="#333" stroke-width="0.9"/>
<text transform="translate(196 297.2) scale(1.13 1)" font-size="11.6">0.7</text>
<line x1="224" y1="313.8" x2="226.2" y2="313.8" stroke="#333" stroke-width="0.9"/>
<text transform="translate(196 317.9) scale(1.13 1)" font-size="11.6">0.65</text>
<line x1="224" y1="334.5" x2="226.2" y2="334.5" stroke="#333" stroke-width="0.9"/>
<text transform="translate(196 338.6) scale(1.13 1)" font-size="11.6">0.6</text>
<line x1="224" y1="354.8" x2="226.2" y2="354.8" stroke="#333" stroke-width="0.9"/>
<text transform="translate(196 358.9) scale(1.13 1)" font-size="11.6">0.55</text>
<line x1="224" y1="375.8" x2="226.2" y2="375.8" stroke="#333" stroke-width="0.9"/>
<text transform="translate(196 379.9) scale(1.13 1)" font-size="11.6">0.5</text>
<line x1="224" y1="396.3" x2="226.2" y2="396.3" stroke="#333" stroke-width="0.9"/>
<text transform="translate(196 400.4) scale(1.13 1)" font-size="11.6">0.45</text>
<line x1="254.4" y1="406.1" x2="254.4" y2="403.9" stroke="#333" stroke-width="0.9"/>
<text transform="translate(254.4 416.7) scale(1.13 1)" font-size="11.6" text-anchor="middle">0</text>
<line x1="284.5" y1="406.1" x2="284.5" y2="403.9" stroke="#333" stroke-width="0.9"/>
<text transform="translate(284.5 416.7) scale(1.13 1)" font-size="11.6" text-anchor="middle">0.2</text>
<line x1="315.5" y1="406.1" x2="315.5" y2="403.9" stroke="#333" stroke-width="0.9"/>
<text transform="translate(315.5 416.7) scale(1.13 1)" font-size="11.6" text-anchor="middle">0.4</text>
<text x="296.9" y="268.2" font-size="10">p=0.024</text>
<rect x="337.3" y="264.7" width="1.2" height="1.2" fill="#e8963c"/>
<text x="264.2" y="279" font-size="10">p=0.0009</text>
<rect x="308.2" y="271" width="30.1" height="7.5" fill="#377dbe"/>
<rect x="289.6" y="282" width="48.7" height="7" fill="#5a913c"/>
<text x="285.8" y="297.9" font-size="10">p=0.0009</text>
<text x="260" y="433.8" font-size="13.15">Time, relative to stimulus onset (s)</text>
<text x="437.8" y="271.5" font-size="19.3" text-anchor="middle" font-weight="bold">FEF</text>
<clipPath id="c7"><rect x="385.7" y="231.6" width="115.6" height="175.2"/></clipPath>
<g clip-path="url(#c7)">
<polygon points="386.1,385 388.1,385 390.8,385.1 394.1,385.1 397.6,385.2 400.9,385.4 403.8,385.6 406.3,385.6 408.5,385.8 410.3,386 411.8,386.1 413,386.1 414.2,386.1 415.8,386.3 417.3,386.5 418.4,386.6 418.8,386.5 418.4,386.4 417.7,386.2 417.6,386.7 417.3,387.2 416.4,388.2 415.8,389.2 416,389.6 416.7,389.3 418.1,388.5 419.7,387 421.4,385 423.2,382.7 425,380.2 426.8,377.7 428,374.8 429.2,371.6 430.3,368.2 431.5,364.8 432.7,361.5 433.9,358.3 435,355.1 436,352 437.1,348.8 438.1,345.8 439.2,343 440.3,340.5 441.4,338.3 442.5,336.4 443.6,334.8 444.7,333.4 445.8,332.1 446.9,330.9 448.1,329.7 449.3,328.6 450.4,327.8 451.4,327.1 452.3,326.4 453.1,325.7 454,324.8 454.9,323.8 455.9,322.7 457,321.5 458.2,320.3 459.5,319.2 460.8,318.3 462.2,317.4 463.6,316.5 465.1,315.8 466.7,315.1 468.4,314.7 470,314.4 471.7,314.3 473.3,314.4 474.8,314.7 476.3,315 477.8,315.4 479.4,316 480.9,316.6 482.3,317.4 483.5,318.1 484.8,318.7 486.1,319.3 487.7,320 489.4,320.8 491.2,321.5 492.9,322.3 494.6,322.9 496,323.4 497.2,323.9 498.4,324.2 499.6,324.6 500.7,324.9 501.7,325.1 502.5,325.3 499.1,335.9 498.4,335.6 497.5,335.3 496.3,334.8 494.9,334.3 493.4,333.7 491.8,333 490.2,332.1 488.5,331.1 486.8,330.1 485.1,329 483.4,328 481.9,327.1 480.4,326.1 479.1,325.2 477.9,324.3 476.9,323.6 476.1,323 475.2,322.6 474.3,322.2 473.3,322 472.3,321.8 471.5,321.7 470.6,321.6 469.8,321.7 469,321.9 468,322.3 466.9,322.8 465.8,323.4 464.7,324.1 463.7,324.8 462.8,325.5 461.9,326.4 461,327.4 459.9,328.5 458.9,329.6 457.7,330.7 456.4,331.7 455.2,332.5 454.2,333.2 453.3,333.8 452.4,334.5 451.5,335.3 450.5,336.3 449.5,337.4 448.6,338.5 447.6,339.8 446.7,341.3 445.7,343.1 444.7,345.3 443.8,347.9 442.7,350.8 441.7,353.8 440.7,357 439.7,360.1 438.8,363.4 437.9,366.8 437.1,370.3 436.2,373.8 435.3,377.1 434.4,380.3 434.1,383.6 433.8,386.8 433.4,389.9 433.1,392.9 432.7,395.8 432.1,398.5 431.1,400.8 429.7,403.1 427.6,405.3 425.1,407.1 423.1,408.1 421.1,409 418.3,409 415.6,408.6 413.6,408.1 412,407.5 410.9,407.1 409.8,406.7 408.3,406.1 406.9,405.5 405.7,404.9 404.6,404.4 403.4,403.9 401.8,403.4 399.5,403.2 396.5,402.9 393.2,402.6 390,402.4 387.2,402.2 385.3,402" fill="#0072bd" fill-opacity="0.26"/>
<polyline points="386.1,385 388.1,385 390.8,385.1 394.1,385.1 397.6,385.2 400.9,385.4 403.8,385.6 406.3,385.6 408.5,385.8 410.3,386 411.8,386.1 413,386.1 414.2,386.1 415.8,386.3 417.3,386.5 418.4,386.6 418.8,386.5 418.4,386.4 417.7,386.2 417.6,386.7 417.3,387.2 416.4,388.2 415.8,389.2 416,389.6 416.7,389.3 418.1,388.5 419.7,387 421.4,385 423.2,382.7 425,380.2 426.8,377.7 428,374.8 429.2,371.6 430.3,368.2 431.5,364.8 432.7,361.5 433.9,358.3 435,355.1 436,352 437.1,348.8 438.1,345.8 439.2,343 440.3,340.5 441.4,338.3 442.5,336.4 443.6,334.8 444.7,333.4 445.8,332.1 446.9,330.9 448.1,329.7 449.3,328.6 450.4,327.8 451.4,327.1 452.3,326.4 453.1,325.7 454,324.8 454.9,323.8 455.9,322.7 457,321.5 458.2,320.3 459.5,319.2 460.8,318.3 462.2,317.4 463.6,316.5 465.1,315.8 466.7,315.1 468.4,314.7 470,314.4 471.7,314.3 473.3,314.4 474.8,314.7 476.3,315 477.8,315.4 479.4,316 480.9,316.6 482.3,317.4 483.5,318.1 484.8,318.7 486.1,319.3 487.7,320 489.4,320.8 491.2,321.5 492.9,322.3 494.6,322.9 496,323.4 497.2,323.9 498.4,324.2 499.6,324.6 500.7,324.9 501.7,325.1 502.5,325.3" fill="none" stroke="#5b8fb0" stroke-opacity="0.55" stroke-width="0.7"/>
<polyline points="385.3,402 387.2,402.2 390,402.4 393.2,402.6 396.5,402.9 399.5,403.2 401.8,403.4 403.4,403.9 404.6,404.4 405.7,404.9 406.9,405.5 408.3,406.1 409.8,406.7 410.9,407.1 412,407.5 413.6,408.1 415.6,408.6 418.3,409 421.1,409 423.1,408.1 425.1,407.1 427.6,405.3 429.7,403.1 431.1,400.8 432.1,398.5 432.7,395.8 433.1,392.9 433.4,389.9 433.8,386.8 434.1,383.6 434.4,380.3 435.3,377.1 436.2,373.8 437.1,370.3 437.9,366.8 438.8,363.4 439.7,360.1 440.7,357 441.7,353.8 442.7,350.8 443.8,347.9 444.7,345.3 445.7,343.1 446.7,341.3 447.6,339.8 448.6,338.5 449.5,337.4 450.5,336.3 451.5,335.3 452.4,334.5 453.3,333.8 454.2,333.2 455.2,332.5 456.4,331.7 457.7,330.7 458.9,329.6 459.9,328.5 461,327.4 461.9,326.4 462.8,325.5 463.7,324.8 464.7,324.1 465.8,323.4 466.9,322.8 468,322.3 469,321.9 469.8,321.7 470.6,321.6 471.5,321.7 472.3,321.8 473.3,322 474.3,322.2 475.2,322.6 476.1,323 476.9,323.6 477.9,324.3 479.1,325.2 480.4,326.1 481.9,327.1 483.4,328 485.1,329 486.8,330.1 488.5,331.1 490.2,332.1 491.8,333 493.4,333.7 494.9,334.3 496.3,334.8 497.5,335.3 498.4,335.6 499.1,335.9" fill="none" stroke="#5b8fb0" stroke-opacity="0.55" stroke-width="0.7"/>
<polygon points="385.5,384.6 387.4,384.6 390.1,384.5 393.2,384.5 396.6,384.4 399.9,384.4 403,384.4 406,384.5 408.7,384.8 411.3,385 413.5,385.2 415.2,385.3 416.5,385.2 417.7,385.4 418.6,385.6 418.9,385.8 418.9,386.2 419,386.5 419.4,386.5 420.2,386.4 421.1,385.9 422.1,385 423.2,383.7 424.4,382.1 425.6,380.2 426.6,377.9 427.6,375.3 428.6,372.4 429.6,369.4 430.7,366.3 431.7,363.4 432.6,360.5 433.4,357.5 434.3,354.6 435.2,351.7 436,348.8 436.9,346.1 437.7,343.4 438.6,340.7 439.4,338.1 440.3,335.6 441.1,333.2 442,331 442.8,328.9 443.6,327 444.4,325.2 445.2,323.5 446.1,321.9 447.1,320.5 448.1,319.1 449.2,317.9 450.4,316.9 451.6,315.9 452.9,315.1 454.3,314.4 455.9,313.8 457.5,313.4 459.1,313.1 460.8,312.9 462.6,312.9 464.3,312.9 466.2,313 468,313.3 469.8,313.7 471.6,314.2 473.2,314.6 474.8,314.9 476.5,315.2 478.2,315.5 479.9,315.8 481.6,316 483.3,316.3 485,316.6 486.8,316.9 488.6,317.2 490.3,317.5 492,317.7 493.6,318 495,318.1 496.3,318.3 497.6,318.4 498.9,318.4 500,318.5 501,318.5 501.8,318.5 499.8,330.3 499.2,330.1 498.2,329.8 497.1,329.5 495.7,329.1 494.3,328.7 492.8,328.3 491.3,327.8 489.6,327.2 488,326.6 486.3,326 484.6,325.4 483,324.8 481.3,324.2 479.7,323.7 478.1,323.1 476.4,322.6 474.8,322 473.2,321.5 471.4,320.9 469.7,320.4 468.1,319.8 466.6,319.3 465.2,318.9 463.9,318.7 462.5,318.6 461.2,318.7 459.9,318.8 458.7,319 457.5,319.2 456.5,319.6 455.5,320 454.6,320.5 453.8,321.1 452.9,321.7 452.1,322.6 451.3,323.5 450.5,324.7 449.7,326 449,327.4 448.2,329.1 447.4,330.9 446.6,332.8 445.8,334.9 445,337.2 444.2,339.7 443.4,342.2 442.5,344.9 441.7,347.5 440.9,350.3 440.1,353.1 439.3,356 438.5,359 437.7,361.9 436.9,364.8 436.3,367.8 435.7,371 435.1,374.1 434.5,377.2 433.8,380.2 433.2,382.8 432.8,385.3 432.4,387.5 432,389.8 431.4,391.9 430.6,394.1 429.4,396.3 427.8,398.1 425.8,399.7 423.6,400.9 421.5,401.7 419.6,402.3 417.5,402.8 414.9,402.9 412.3,402.7 409.7,402.5 407.3,402.3 404.9,402.1 402.6,402 399.9,402 396.8,402 393.5,402 390.4,402.1 387.8,402.2 385.9,402.2" fill="#4f8a3a" fill-opacity="0.27"/>
<polyline points="385.5,384.6 387.4,384.6 390.1,384.5 393.2,384.5 396.6,384.4 399.9,384.4 403,384.4 406,384.5 408.7,384.8 411.3,385 413.5,385.2 415.2,385.3 416.5,385.2 417.7,385.4 418.6,385.6 418.9,385.8 418.9,386.2 419,386.5 419.4,386.5 420.2,386.4 421.1,385.9 422.1,385 423.2,383.7 424.4,382.1 425.6,380.2 426.6,377.9 427.6,375.3 428.6,372.4 429.6,369.4 430.7,366.3 431.7,363.4 432.6,360.5 433.4,357.5 434.3,354.6 435.2,351.7 436,348.8 436.9,346.1 437.7,343.4 438.6,340.7 439.4,338.1 440.3,335.6 441.1,333.2 442,331 442.8,328.9 443.6,327 444.4,325.2 445.2,323.5 446.1,321.9 447.1,320.5 448.1,319.1 449.2,317.9 450.4,316.9 451.6,315.9 452.9,315.1 454.3,314.4 455.9,313.8 457.5,313.4 459.1,313.1 460.8,312.9 462.6,312.9 464.3,312.9 466.2,313 468,313.3 469.8,313.7 471.6,314.2 473.2,314.6 474.8,314.9 476.5,315.2 478.2,315.5 479.9,315.8 481.6,316 483.3,316.3 485,316.6 486.8,316.9 488.6,317.2 490.3,317.5 492,317.7 493.6,318 495,318.1 496.3,318.3 497.6,318.4 498.9,318.4 500,318.5 501,318.5 501.8,318.5" fill="none" stroke="#5f8f4f" stroke-opacity="0.55" stroke-width="0.7"/>
<polyline points="385.9,402.2 387.8,402.2 390.4,402.1 393.5,402 396.8,402 399.9,402 402.6,402 404.9,402.1 407.3,402.3 409.7,402.5 412.3,402.7 414.9,402.9 417.5,402.8 419.6,402.3 421.5,401.7 423.6,400.9 425.8,399.7 427.8,398.1 429.4,396.3 430.6,394.1 431.4,391.9 432,389.8 432.4,387.5 432.8,385.3 433.2,382.8 433.8,380.2 434.5,377.2 435.1,374.1 435.7,371 436.3,367.8 436.9,364.8 437.7,361.9 438.5,359 439.3,356 440.1,353.1 440.9,350.3 441.7,347.5 442.5,344.9 443.4,342.2 444.2,339.7 445,337.2 445.8,334.9 446.6,332.8 447.4,330.9 448.2,329.1 449,327.4 449.7,326 450.5,324.7 451.3,323.5 452.1,322.6 452.9,321.7 453.8,321.1 454.6,320.5 455.5,320 456.5,319.6 457.5,319.2 458.7,319 459.9,318.8 461.2,318.7 462.5,318.6 463.9,318.7 465.2,318.9 466.6,319.3 468.1,319.8 469.7,320.4 471.4,320.9 473.2,321.5 474.8,322 476.4,322.6 478.1,323.1 479.7,323.7 481.3,324.2 483,324.8 484.6,325.4 486.3,326 488,326.6 489.6,327.2 491.3,327.8 492.8,328.3 494.3,328.7 495.7,329.1 497.1,329.5 498.2,329.8 499.2,330.1 499.8,330.3" fill="none" stroke="#5f8f4f" stroke-opacity="0.55" stroke-width="0.7"/>
<polygon points="385.7,386.7 387.6,386.6 390.3,386.5 393.5,386.4 396.8,386.2 400,386.1 402.8,386 405.2,385.9 407.4,385.8 409.5,385.8 411.6,385.7 413.5,385.6 415.4,385.5 417.2,385.4 418.9,385.2 420.6,385 422.2,384.8 423.8,384.6 425.4,384.2 427.1,383.7 428.8,383 430.4,382.3 432.1,381.6 433.8,381 435.5,380.5 437.2,380.2 438.8,380 440.5,380 442.2,379.9 443.8,380 445.5,380 447.2,380.1 448.9,380.2 450.6,380.3 452.2,380.5 453.9,380.8 455.6,381 457.3,381.3 458.9,381.6 460.6,381.9 462.3,382.3 463.9,382.7 465.6,383 467.3,383.3 469,383.7 470.7,384.1 472.3,384.4 474,384.7 475.7,385 477.4,385.2 479,385.5 480.7,385.7 482.4,385.9 484,386 485.7,386 487.4,385.9 489.2,385.8 491.1,385.6 492.8,385.4 494.4,385.2 495.8,385 497,384.8 498,384.7 498.9,384.5 499.7,384.4 500.3,384.3 500.8,384.2 500.8,405 500.3,404.9 499.7,404.8 498.9,404.7 498,404.6 497,404.4 495.8,404.3 494.4,404.2 492.8,404.1 491.1,404 489.2,403.9 487.4,403.7 485.7,403.6 484,403.5 482.4,403.3 480.7,403.2 479,403 477.4,402.8 475.7,402.6 474,402.3 472.3,402 470.7,401.6 469,401.3 467.3,400.9 465.6,400.6 463.9,400.3 462.3,400.1 460.6,399.9 458.9,399.7 457.3,399.5 455.6,399.3 453.9,399.1 452.2,398.9 450.6,398.8 448.9,398.6 447.2,398.5 445.5,398.5 443.8,398.5 442.2,398.6 440.5,398.7 438.8,398.8 437.2,399 435.5,399.3 433.8,399.6 432.1,400.1 430.4,400.5 428.8,401 427.1,401.4 425.4,401.8 423.8,402.1 422.2,402.3 420.6,402.5 418.9,402.6 417.2,402.8 415.4,403 413.5,403.2 411.6,403.4 409.5,403.6 407.4,403.9 405.2,404.1 402.8,404.3 400,404.5 396.8,404.8 393.5,405 390.3,405.3 387.6,405.5 385.7,405.6" fill="#e8963c" fill-opacity="0.27"/>
<polyline points="385.7,386.7 387.6,386.6 390.3,386.5 393.5,386.4 396.8,386.2 400,386.1 402.8,386 405.2,385.9 407.4,385.8 409.5,385.8 411.6,385.7 413.5,385.6 415.4,385.5 417.2,385.4 418.9,385.2 420.6,385 422.2,384.8 423.8,384.6 425.4,384.2 427.1,383.7 428.8,383 430.4,382.3 432.1,381.6 433.8,381 435.5,380.5 437.2,380.2 438.8,380 440.5,380 442.2,379.9 443.8,380 445.5,380 447.2,380.1 448.9,380.2 450.6,380.3 452.2,380.5 453.9,380.8 455.6,381 457.3,381.3 458.9,381.6 460.6,381.9 462.3,382.3 463.9,382.7 465.6,383 467.3,383.3 469,383.7 470.7,384.1 472.3,384.4 474,384.7 475.7,385 477.4,385.2 479,385.5 480.7,385.7 482.4,385.9 484,386 485.7,386 487.4,385.9 489.2,385.8 491.1,385.6 492.8,385.4 494.4,385.2 495.8,385 497,384.8 498,384.7 498.9,384.5 499.7,384.4 500.3,384.3 500.8,384.2" fill="none" stroke="#dba560" stroke-opacity="0.55" stroke-width="0.7"/>
<polyline points="385.7,405.6 387.6,405.5 390.3,405.3 393.5,405 396.8,404.8 400,404.5 402.8,404.3 405.2,404.1 407.4,403.9 409.5,403.6 411.6,403.4 413.5,403.2 415.4,403 417.2,402.8 418.9,402.6 420.6,402.5 422.2,402.3 423.8,402.1 425.4,401.8 427.1,401.4 428.8,401 430.4,400.5 432.1,400.1 433.8,399.6 435.5,399.3 437.2,399 438.8,398.8 440.5,398.7 442.2,398.6 443.8,398.5 445.5,398.5 447.2,398.5 448.9,398.6 450.6,398.8 452.2,398.9 453.9,399.1 455.6,399.3 457.3,399.5 458.9,399.7 460.6,399.9 462.3,400.1 463.9,400.3 465.6,400.6 467.3,400.9 469,401.3 470.7,401.6 472.3,402 474,402.3 475.7,402.6 477.4,402.8 479,403 480.7,403.2 482.4,403.3 484,403.5 485.7,403.6 487.4,403.7 489.2,403.9 491.1,404 492.8,404.1 494.4,404.2 495.8,404.3 497,404.4 498,404.6 498.9,404.7 499.7,404.8 500.3,404.9 500.8,405" fill="none" stroke="#dba560" stroke-opacity="0.55" stroke-width="0.7"/>
<line x1="385.7" y1="393.5" x2="400" y2="393.5" stroke="#8a8a8a" stroke-width="1"/>
<line x1="415.4" y1="393.5" x2="429.2" y2="393.5" stroke="#8a8a8a" stroke-width="1"/>
<line x1="446.8" y1="393.5" x2="460.6" y2="393.5" stroke="#8a8a8a" stroke-width="1"/>
<line x1="476.9" y1="393.5" x2="490.8" y2="393.5" stroke="#8a8a8a" stroke-width="1"/>
<polyline points="385.7,393.5 387.7,393.6 390.4,393.7 393.7,393.9 397.1,394.1 400.2,394.3 402.8,394.5 404.8,394.8 406.5,395.1 408,395.4 409.4,395.8 410.7,396.1 412,396.4 413.4,396.7 414.7,397 416,397.3 417.2,397.6 418.3,397.7 419.4,397.6 420.4,397.4 421.2,397.1 422,396.8 422.7,396.1 423.5,395.2 424.4,393.9 425.4,392.1 426.4,389.9 427.4,387.5 428.5,384.7 429.6,381.9 430.6,379 431.6,376 432.7,372.7 433.7,369.3 434.7,365.8 435.8,362.4 436.8,359.2 437.8,356.1 438.9,352.9 439.9,349.8 440.9,346.9 442,344.2 443,341.8 444,339.8 445.1,338.1 446.1,336.7 447.1,335.4 448.2,334.2 449.2,333.1 450.2,332.1 451.3,331.2 452.3,330.5 453.3,329.8 454.4,329 455.4,328.2 456.4,327.2 457.4,326.1 458.4,325 459.4,323.9 460.5,322.9 461.6,322 462.8,321.2 464,320.4 465.3,319.7 466.6,319 467.8,318.5 469.1,318.2 470.3,318 471.6,318 472.8,318.1 474,318.3 475.3,318.6 476.5,319 477.7,319.5 478.9,320.1 480.1,320.8 481.3,321.6 482.6,322.4 484,323.2 485.5,324 487.2,324.9 489,325.8 490.7,326.7 492.4,327.5 493.9,328.2 495.3,328.8 496.7,329.3 498,329.7 499.1,330.1 500.1,330.4 500.8,330.6" fill="none" stroke="#3873ad" stroke-width="0.9"/>
<polyline points="385.7,393.4 387.6,393.4 390.2,393.3 393.4,393.2 396.7,393.2 399.9,393.2 402.8,393.2 405.4,393.3 408,393.5 410.5,393.8 412.9,393.9 415.1,394.1 417,394 418.7,393.8 420.1,393.7 421.3,393.4 422.4,392.9 423.4,392.3 424.4,391.4 425.4,390.3 426.2,388.9 427.1,387.4 427.8,385.6 428.6,383.7 429.4,381.5 430.2,379 431,376.3 431.8,373.3 432.7,370.2 433.5,367.1 434.3,364.1 435.1,361.2 436,358.2 436.8,355.3 437.6,352.4 438.5,349.5 439.3,346.8 440.1,344.1 441,341.5 441.8,338.9 442.6,336.4 443.5,334.1 444.3,331.9 445.1,329.9 445.9,328 446.7,326.3 447.5,324.8 448.3,323.3 449.2,322 450.1,320.8 451.1,319.8 452.1,319 453.1,318.2 454.2,317.6 455.4,317 456.7,316.5 458.1,316.2 459.5,315.9 461,315.8 462.6,315.7 464.1,315.8 465.7,316 467.3,316.3 469,316.8 470.6,317.3 472.3,317.8 474,318.2 475.7,318.6 477.3,319 479,319.4 480.7,319.9 482.3,320.3 484,320.7 485.7,321.1 487.4,321.6 489.1,322 490.8,322.5 492.4,322.9 493.9,323.2 495.3,323.5 496.7,323.7 498,324 499.1,324.1 500.1,324.3 500.8,324.4" fill="none" stroke="#478535" stroke-width="1"/>
<polyline points="385.7,396.8 387.6,396.6 390.3,396.3 393.5,396 396.8,395.6 400,395.3 402.8,395 405.2,394.7 407.4,394.4 409.5,394.2 411.6,393.9 413.5,393.7 415.4,393.5 417.2,393.4 418.9,393.3 420.6,393.3 422.2,393.3 423.8,393.2 425.4,393 427.1,392.7 428.8,392.3 430.4,391.8 432.1,391.3 433.8,390.9 435.5,390.5 437.2,390.2 438.8,389.9 440.5,389.6 442.2,389.4 443.8,389.3 445.5,389.2 447.2,389.2 448.9,389.3 450.6,389.4 452.2,389.6 453.9,389.8 455.6,390 457.3,390.2 458.9,390.5 460.6,390.9 462.3,391.2 463.9,391.5 465.6,391.8 467.3,392 469,392.2 470.7,392.4 472.3,392.6 474,392.8 475.7,393 477.4,393.2 479,393.4 480.7,393.7 482.4,393.9 484,394.1 485.7,394.3 487.4,394.5 489.2,394.6 491.1,394.7 492.8,394.8 494.4,394.9 495.8,395 497,395 498,395.1 498.9,395 499.7,395 500.3,395 500.8,395" fill="none" stroke="#e8963c" stroke-width="1"/>
</g>
<path d="M385.7 291.6V406.8H500.8" fill="none" stroke="#333" stroke-width="1.2"/>
<line x1="385.7" y1="311.4" x2="387.9" y2="311.4" stroke="#333" stroke-width="0.9"/>
<text transform="translate(383.2 315.4) scale(1.13 1)" font-size="11.6" text-anchor="end">1</text>
<line x1="385.7" y1="327.7" x2="387.9" y2="327.7" stroke="#333" stroke-width="0.9"/>
<text transform="translate(383.2 331.8) scale(1.13 1)" font-size="11.6" text-anchor="end">0.9</text>
<line x1="385.7" y1="344.1" x2="387.9" y2="344.1" stroke="#333" stroke-width="0.9"/>
<text transform="translate(383.2 348.2) scale(1.13 1)" font-size="11.6" text-anchor="end">0.8</text>
<line x1="385.7" y1="360.6" x2="387.9" y2="360.6" stroke="#333" stroke-width="0.9"/>
<text transform="translate(383.2 364.7) scale(1.13 1)" font-size="11.6" text-anchor="end">0.7</text>
<line x1="385.7" y1="377" x2="387.9" y2="377" stroke="#333" stroke-width="0.9"/>
<text transform="translate(383.2 381.1) scale(1.13 1)" font-size="11.6" text-anchor="end">0.6</text>
<line x1="385.7" y1="393.5" x2="387.9" y2="393.5" stroke="#333" stroke-width="0.9"/>
<text transform="translate(383.2 397.6) scale(1.13 1)" font-size="11.6" text-anchor="end">0.5</text>
<line x1="415.6" y1="406.8" x2="415.6" y2="404.6" stroke="#333" stroke-width="0.9"/>
<text transform="translate(415.6 417.8) scale(1.13 1)" font-size="11.6" text-anchor="middle">0</text>
<line x1="446" y1="406.8" x2="446" y2="404.6" stroke="#333" stroke-width="0.9"/>
<text transform="translate(446 417.8) scale(1.13 1)" font-size="11.6" text-anchor="middle">0.2</text>
<line x1="476" y1="406.8" x2="476" y2="404.6" stroke="#333" stroke-width="0.9"/>
<text transform="translate(476 417.8) scale(1.13 1)" font-size="11.6" text-anchor="middle">0.4</text>
<text x="388.2" y="300.4" font-size="10">p=0.0009</text>
<text x="388.2" y="311.2" font-size="10">p=0.0009</text>
<rect x="432.2" y="294.1" width="68.6" height="6.8" fill="#5a913c"/>
<rect x="432.2" y="304.6" width="68.6" height="7.1" fill="#377dbe"/>
<text x="614.1" y="270.1" font-size="19.3" text-anchor="middle" font-weight="bold">PAR</text>
<clipPath id="c8"><rect x="558.7" y="231.5" width="115.6" height="175.1"/></clipPath>
<g clip-path="url(#c8)">
<polygon points="558.7,384 560.5,384 563,384 566,384 569.2,384 572.3,384 575,384 577.4,384 579.7,384 581.9,384.1 584.1,384.1 586.2,384.1 588.4,384 590.6,384 592.8,384 595.1,384 597.2,383.8 599.2,383.4 601,382.7 602.6,381.6 604,380.2 605.2,378.6 606.4,376.7 607.5,374.8 608.5,372.7 609.5,370.5 610.4,368 611.2,365.5 611.9,362.8 612.7,360.2 613.5,357.6 614.3,355.1 615.1,352.5 616,349.9 616.8,347.3 617.6,344.9 618.5,342.5 619.4,340.2 620.3,338 621.2,335.8 622.1,333.8 623,331.8 624,330 625,328.3 626,326.6 627,325.1 628,323.7 629,322.5 630,321.5 630.9,320.7 631.9,320.1 632.8,319.6 633.7,319.3 634.6,319.1 635.4,319.1 636.2,319.2 637,319.5 637.7,319.9 638.5,320.5 639.2,321.2 640,322 640.8,323 641.5,324.1 642.2,325.4 643,326.8 643.9,328.3 645,330 646.2,331.9 647.6,334.2 649,336.5 650.6,338.8 652.1,340.9 653.7,342.5 655.3,343.7 657,344.5 658.7,345.2 660.4,345.6 662.1,346 663.8,346.3 665.6,346.6 667.5,346.7 669.4,346.7 671.2,346.7 672.7,346.7 673.8,346.7 673.8,370.2 672.7,369.8 671.2,369.4 669.4,368.8 667.5,368.1 665.6,367.3 663.8,366.4 662.1,365.4 660.3,364.3 658.6,363.1 656.9,361.8 655.2,360.4 653.7,358.9 652.3,357.2 651,355.4 649.7,353.5 648.5,351.6 647.4,349.6 646.2,347.6 645,345.5 643.8,343.3 642.6,341 641.5,338.9 640.5,337 639.5,335.5 638.7,334.5 637.9,333.7 637.3,333.3 636.7,333 636.1,332.9 635.4,332.8 634.7,332.8 634,332.9 633.3,333.1 632.6,333.4 631.9,333.9 631.1,334.4 630.3,335 629.5,335.7 628.6,336.5 627.7,337.5 626.9,338.6 626,340 625.2,341.6 624.3,343.5 623.5,345.6 622.7,347.8 621.8,350.1 621,352.6 620.2,355.2 619.4,358 618.6,360.9 617.8,364 616.9,367.1 616,370.2 615,373.5 614,377 612.9,380.6 611.8,384.1 610.8,387.4 609.7,390.3 608.7,392.9 607.7,395.3 606.7,397.4 605.7,399.4 604.6,401.2 603.5,402.8 602.3,404.3 601.1,405.8 599.8,407.1 598.6,408.1 597.3,408.8 596,409 594.8,408.6 593.7,407.7 592.6,406.3 591.4,404.9 590,403.7 588.4,402.8 586.5,402.3 584.5,402.1 582.2,402 579.9,402 577.5,402 575,402 572.3,402 569.2,401.9 566,401.9 563,402 560.5,402 558.7,402" fill="#0072bd" fill-opacity="0.26"/>
<polyline points="558.7,384 560.5,384 563,384 566,384 569.2,384 572.3,384 575,384 577.4,384 579.7,384 581.9,384.1 584.1,384.1 586.2,384.1 588.4,384 590.6,384 592.8,384 595.1,384 597.2,383.8 599.2,383.4 601,382.7 602.6,381.6 604,380.2 605.2,378.6 606.4,376.7 607.5,374.8 608.5,372.7 609.5,370.5 610.4,368 611.2,365.5 611.9,362.8 612.7,360.2 613.5,357.6 614.3,355.1 615.1,352.5 616,349.9 616.8,347.3 617.6,344.9 618.5,342.5 619.4,340.2 620.3,338 621.2,335.8 622.1,333.8 623,331.8 624,330 625,328.3 626,326.6 627,325.1 628,323.7 629,322.5 630,321.5 630.9,320.7 631.9,320.1 632.8,319.6 633.7,319.3 634.6,319.1 635.4,319.1 636.2,319.2 637,319.5 637.7,319.9 638.5,320.5 639.2,321.2 640,322 640.8,323 641.5,324.1 642.2,325.4 643,326.8 643.9,328.3 645,330 646.2,331.9 647.6,334.2 649,336.5 650.6,338.8 652.1,340.9 653.7,342.5 655.3,343.7 657,344.5 658.7,345.2 660.4,345.6 662.1,346 663.8,346.3 665.6,346.6 667.5,346.7 669.4,346.7 671.2,346.7 672.7,346.7 673.8,346.7" fill="none" stroke="#5b8fb0" stroke-opacity="0.55" stroke-width="0.7"/>
<polyline points="558.7,402 560.5,402 563,402 566,401.9 569.2,401.9 572.3,402 575,402 577.5,402 579.9,402 582.2,402 584.5,402.1 586.5,402.3 588.4,402.8 590,403.7 591.4,404.9 592.6,406.3 593.7,407.7 594.8,408.6 596,409 597.3,408.8 598.6,408.1 599.8,407.1 601.1,405.8 602.3,404.3 603.5,402.8 604.6,401.2 605.7,399.4 606.7,397.4 607.7,395.3 608.7,392.9 609.7,390.3 610.8,387.4 611.8,384.1 612.9,380.6 614,377 615,373.5 616,370.2 616.9,367.1 617.8,364 618.6,360.9 619.4,358 620.2,355.2 621,352.6 621.8,350.1 622.7,347.8 623.5,345.6 624.3,343.5 625.2,341.6 626,340 626.9,338.6 627.7,337.5 628.6,336.5 629.5,335.7 630.3,335 631.1,334.4 631.9,333.9 632.6,333.4 633.3,333.1 634,332.9 634.7,332.8 635.4,332.8 636.1,332.9 636.7,333 637.3,333.3 637.9,333.7 638.7,334.5 639.5,335.5 640.5,337 641.5,338.9 642.6,341 643.8,343.3 645,345.5 646.2,347.6 647.4,349.6 648.5,351.6 649.7,353.5 651,355.4 652.3,357.2 653.7,358.9 655.2,360.4 656.9,361.8 658.6,363.1 660.3,364.3 662.1,365.4 663.8,366.4 665.6,367.3 667.5,368.1 669.4,368.8 671.2,369.4 672.7,369.8 673.8,370.2" fill="none" stroke="#5b8fb0" stroke-opacity="0.55" stroke-width="0.7"/>
<polygon points="558.7,382.7 560.5,382.6 563,382.5 566,382.4 569.2,382.2 572.3,382.1 575,382 577.4,381.9 579.7,381.8 581.9,381.7 584.1,381.6 586.2,381.6 588.4,381.5 590.6,381.5 592.8,381.7 595.1,381.9 597.2,381.9 599.2,381.9 601,381.5 602.5,380.9 603.9,380 605.1,379 606.2,377.8 607.3,376.5 608.5,375.2 609.7,373.7 611,372.1 612.2,370.3 613.5,368.5 614.7,366.8 616,365.2 617.2,363.8 618.4,362.4 619.6,361.1 620.9,359.9 622.2,358.7 623.6,357.6 625.1,356.5 626.8,355.5 628.4,354.5 630.2,353.6 631.9,352.8 633.6,352.1 635.3,351.5 637,351 638.7,350.6 640.3,350.3 642,350.2 643.7,350.1 645.4,350.2 647,350.5 648.7,351 650.4,351.4 652,351.8 653.7,352.1 655.4,352.3 657.1,352.4 658.8,352.5 660.4,352.5 662.1,352.4 663.8,352.1 665.6,351.6 667.5,350.9 669.4,350.1 671.2,349.3 672.7,348.6 673.8,348.1 673.8,375.2 672.7,375.2 671.2,375.3 669.4,375.4 667.5,375.4 665.6,375.3 663.8,375.2 662.1,374.9 660.4,374.6 658.8,374.1 657.1,373.6 655.4,373.1 653.7,372.7 652,372.2 650.4,371.7 648.7,371.1 647,370.7 645.4,370.3 643.7,370.2 642,370.3 640.3,370.5 638.7,370.9 637,371.4 635.3,372 633.6,372.7 631.9,373.5 630.2,374.4 628.4,375.5 626.8,376.6 625.1,377.8 623.6,379 622.2,380.3 620.9,381.7 619.6,383.2 618.4,384.7 617.2,386.2 616,387.8 614.7,389.5 613.5,391.3 612.2,393.2 611,394.9 609.7,396.5 608.5,397.8 607.3,398.7 606.2,399.4 605.1,399.8 603.9,400.1 602.5,400.4 601,400.8 599.2,401.2 597.2,401.6 595.1,402 592.8,402.3 590.6,402.6 588.4,402.8 586.2,402.9 584.1,403 581.9,403 579.7,403 577.4,403 575,403 572.3,403 569.2,403.1 566,403.2 563,403.2 560.5,403.3 558.7,403.3" fill="#4f8a3a" fill-opacity="0.27"/>
<polyline points="558.7,382.7 560.5,382.6 563,382.5 566,382.4 569.2,382.2 572.3,382.1 575,382 577.4,381.9 579.7,381.8 581.9,381.7 584.1,381.6 586.2,381.6 588.4,381.5 590.6,381.5 592.8,381.7 595.1,381.9 597.2,381.9 599.2,381.9 601,381.5 602.5,380.9 603.9,380 605.1,379 606.2,377.8 607.3,376.5 608.5,375.2 609.7,373.7 611,372.1 612.2,370.3 613.5,368.5 614.7,366.8 616,365.2 617.2,363.8 618.4,362.4 619.6,361.1 620.9,359.9 622.2,358.7 623.6,357.6 625.1,356.5 626.8,355.5 628.4,354.5 630.2,353.6 631.9,352.8 633.6,352.1 635.3,351.5 637,351 638.7,350.6 640.3,350.3 642,350.2 643.7,350.1 645.4,350.2 647,350.5 648.7,351 650.4,351.4 652,351.8 653.7,352.1 655.4,352.3 657.1,352.4 658.8,352.5 660.4,352.5 662.1,352.4 663.8,352.1 665.6,351.6 667.5,350.9 669.4,350.1 671.2,349.3 672.7,348.6 673.8,348.1" fill="none" stroke="#5f8f4f" stroke-opacity="0.55" stroke-width="0.7"/>
<polyline points="558.7,403.3 560.5,403.3 563,403.2 566,403.2 569.2,403.1 572.3,403 575,403 577.4,403 579.7,403 581.9,403 584.1,403 586.2,402.9 588.4,402.8 590.6,402.6 592.8,402.3 595.1,402 597.2,401.6 599.2,401.2 601,400.8 602.5,400.4 603.9,400.1 605.1,399.8 606.2,399.4 607.3,398.7 608.5,397.8 609.7,396.5 611,394.9 612.2,393.2 613.5,391.3 614.7,389.5 616,387.8 617.2,386.2 618.4,384.7 619.6,383.2 620.9,381.7 622.2,380.3 623.6,379 625.1,377.8 626.8,376.6 628.4,375.5 630.2,374.4 631.9,373.5 633.6,372.7 635.3,372 637,371.4 638.7,370.9 640.3,370.5 642,370.3 643.7,370.2 645.4,370.3 647,370.7 648.7,371.1 650.4,371.7 652,372.2 653.7,372.7 655.4,373.1 657.1,373.6 658.8,374.1 660.4,374.6 662.1,374.9 663.8,375.2 665.6,375.3 667.5,375.4 669.4,375.4 671.2,375.3 672.7,375.2 673.8,375.2" fill="none" stroke="#5f8f4f" stroke-opacity="0.55" stroke-width="0.7"/>
<polygon points="558.7,379.7 560.6,380 563.3,380.5 566.5,381.1 569.8,381.7 573,382.3 575.8,382.7 578.2,383 580.3,383.3 582.4,383.5 584.4,383.6 586.4,383.8 588.4,384 590.5,384.2 592.6,384.5 594.7,384.7 596.8,385 598.9,385.2 601,385.3 603.1,385.4 605.2,385.5 607.2,385.5 609.3,385.5 611.4,385.5 613.5,385.3 615.6,385 617.7,384.6 619.8,384.1 621.9,383.6 624,383.1 626.1,382.7 628.2,382.3 630.2,381.9 632.2,381.6 634.2,381.2 636.4,380.9 638.6,380.7 641,380.5 643.6,380.4 646.3,380.3 648.9,380.3 651.4,380.2 653.7,380.2 655.7,380.2 657.4,380.2 659.1,380.3 660.6,380.3 662.2,380.3 663.8,380.2 665.6,380 667.5,379.6 669.4,379.2 671.2,378.8 672.7,378.4 673.8,378.2 673.8,404.1 672.7,403.9 671.2,403.6 669.4,403.3 667.5,402.9 665.6,402.6 663.8,402.3 662.2,402 660.6,401.7 659.1,401.4 657.4,401.2 655.7,401 653.7,400.8 651.4,400.7 648.9,400.6 646.3,400.6 643.6,400.6 641,400.7 638.6,400.8 636.4,401 634.2,401.2 632.2,401.4 630.2,401.7 628.2,402 626.1,402.3 624,402.6 621.9,402.9 619.8,403.3 617.7,403.6 615.6,403.9 613.5,404.1 611.4,404.2 609.3,404.3 607.2,404.3 605.2,404.2 603.1,404.2 601,404.1 598.9,404 596.8,403.9 594.7,403.7 592.6,403.5 590.5,403.4 588.4,403.3 586.4,403.3 584.4,403.3 582.4,403.3 580.3,403.3 578.2,403.3 575.8,403.3 573,403.2 569.8,403 566.5,402.8 563.3,402.6 560.6,402.4 558.7,402.3" fill="#e8963c" fill-opacity="0.27"/>
<polyline points="558.7,379.7 560.6,380 563.3,380.5 566.5,381.1 569.8,381.7 573,382.3 575.8,382.7 578.2,383 580.3,383.3 582.4,383.5 584.4,383.6 586.4,383.8 588.4,384 590.5,384.2 592.6,384.5 594.7,384.7 596.8,385 598.9,385.2 601,385.3 603.1,385.4 605.2,385.5 607.2,385.5 609.3,385.5 611.4,385.5 613.5,385.3 615.6,385 617.7,384.6 619.8,384.1 621.9,383.6 624,383.1 626.1,382.7 628.2,382.3 630.2,381.9 632.2,381.6 634.2,381.2 636.4,380.9 638.6,380.7 641,380.5 643.6,380.4 646.3,380.3 648.9,380.3 651.4,380.2 653.7,380.2 655.7,380.2 657.4,380.2 659.1,380.3 660.6,380.3 662.2,380.3 663.8,380.2 665.6,380 667.5,379.6 669.4,379.2 671.2,378.8 672.7,378.4 673.8,378.2" fill="none" stroke="#dba560" stroke-opacity="0.55" stroke-width="0.7"/>
<polyline points="558.7,402.3 560.6,402.4 563.3,402.6 566.5,402.8 569.8,403 573,403.2 575.8,403.3 578.2,403.3 580.3,403.3 582.4,403.3 584.4,403.3 586.4,403.3 588.4,403.3 590.5,403.4 592.6,403.5 594.7,403.7 596.8,403.9 598.9,404 601,404.1 603.1,404.2 605.2,404.2 607.2,404.3 609.3,404.3 611.4,404.2 613.5,404.1 615.6,403.9 617.7,403.6 619.8,403.3 621.9,402.9 624,402.6 626.1,402.3 628.2,402 630.2,401.7 632.2,401.4 634.2,401.2 636.4,401 638.6,400.8 641,400.7 643.6,400.6 646.3,400.6 648.9,400.6 651.4,400.7 653.7,400.8 655.7,401 657.4,401.2 659.1,401.4 660.6,401.7 662.2,402 663.8,402.3 665.6,402.6 667.5,402.9 669.4,403.3 671.2,403.6 672.7,403.9 673.8,404.1" fill="none" stroke="#dba560" stroke-opacity="0.55" stroke-width="0.7"/>
<line x1="558.7" y1="392.5" x2="573" y2="392.5" stroke="#8a8a8a" stroke-width="1"/>
<line x1="588.4" y1="392.5" x2="602" y2="392.5" stroke="#8a8a8a" stroke-width="1"/>
<line x1="619.8" y1="392.5" x2="633.6" y2="392.5" stroke="#8a8a8a" stroke-width="1"/>
<line x1="650" y1="392.5" x2="663.8" y2="392.5" stroke="#8a8a8a" stroke-width="1"/>
<polyline points="558.7,393.3 560.6,393.2 563.3,393.1 566.5,393 569.8,392.9 573,392.8 575.8,392.8 578.2,392.9 580.4,393 582.5,393.2 584.6,393.4 586.5,393.7 588.4,394 590.2,394.4 592,395 593.7,395.7 595.3,396.3 596.9,396.6 598.4,396.6 599.8,396.3 601.2,395.8 602.4,395.1 603.7,394.1 604.8,392.9 606,391.5 607.1,389.7 608.2,387.7 609.3,385.4 610.3,382.9 611.2,380.3 612.2,377.7 613.1,375 613.9,372.1 614.7,369.1 615.6,366.1 616.4,363.1 617.3,360.1 618.3,357.1 619.4,354 620.5,350.8 621.6,347.8 622.6,345 623.6,342.5 624.5,340.3 625.4,338.4 626.3,336.7 627.1,335.2 627.8,333.8 628.6,332.5 629.3,331.3 630,330.3 630.7,329.4 631.3,328.7 631.9,328 632.5,327.4 633,326.9 633.5,326.5 634,326.3 634.5,326.1 634.9,326 635.4,325.9 635.9,325.9 636.4,326 637,326.1 637.5,326.4 638,326.7 638.5,327 638.9,327.3 639.2,327.5 639.5,327.9 639.9,328.4 640.4,329.2 641.1,330.4 642.1,332.3 643.3,334.7 644.6,337.4 646,340.2 647.4,342.8 648.7,345 650,346.7 651.2,348.3 652.5,349.6 653.7,350.8 654.9,351.8 656.2,352.8 657.4,353.7 658.6,354.4 659.8,355 661.1,355.5 662.4,356 663.8,356.5 665.4,357 667.3,357.5 669.3,357.9 671.1,358.3 672.7,358.6 673.8,358.8" fill="none" stroke="#3873ad" stroke-width="0.9"/>
<polyline points="558.7,393.3 560.5,393.3 563,393.2 566,393.2 569.2,393.1 572.3,393 575,393 577.4,393 579.7,393 581.9,393 584.1,392.9 586.2,392.9 588.4,392.8 590.6,392.7 592.8,392.6 595.1,392.5 597.2,392.2 599.2,391.9 601,391.5 602.5,390.9 603.9,390.3 605.1,389.5 606.2,388.7 607.3,387.7 608.5,386.5 609.7,385.1 611,383.4 612.2,381.7 613.5,379.8 614.7,378.1 616,376.5 617.2,375.1 618.4,373.7 619.6,372.5 620.9,371.2 622.2,370.1 623.6,368.9 625.1,367.7 626.8,366.6 628.4,365.4 630.2,364.4 631.9,363.4 633.6,362.6 635.3,361.9 637,361.3 638.7,360.8 640.3,360.5 642,360.2 643.7,360.1 645.4,360.2 647,360.4 648.7,360.8 650.4,361.3 652,361.7 653.7,362.1 655.4,362.5 657.1,362.8 658.8,363.2 660.4,363.6 662.1,363.8 663.8,363.9 665.6,363.8 667.5,363.5 669.4,363.1 671.2,362.7 672.7,362.3 673.8,362.1" fill="none" stroke="#478535" stroke-width="1"/>
<polyline points="558.7,392.8 560.5,392.8 563,392.8 566,392.9 569.2,392.9 572.3,393 575,393 577.3,393 579.4,393 581.5,393 583.5,393.1 585.8,393.2 588.4,393.3 591.4,393.6 594.8,394 598.3,394.4 601.9,394.9 605.4,395.2 608.5,395.3 611.3,395.2 613.9,394.9 616.4,394.5 618.8,394 621.1,393.6 623.6,393.3 626.1,393.1 628.6,392.9 631.1,392.7 633.6,392.6 636.1,392.4 638.6,392.3 641.1,392.2 643.4,392.1 645.8,392 648.3,391.9 650.9,391.9 653.7,391.8 657,391.7 660.8,391.7 664.7,391.6 668.4,391.6 671.6,391.5 673.8,391.5" fill="none" stroke="#e8963c" stroke-width="1"/>
</g>
<path d="M558.7 291.5V406.6H673.8" fill="none" stroke="#333" stroke-width="1.2"/>
<line x1="558.7" y1="296.5" x2="560.9" y2="296.5" stroke="#333" stroke-width="0.9"/>
<text transform="translate(556.2 300.6) scale(1.13 1)" font-size="11.6" text-anchor="end">1</text>
<line x1="558.7" y1="315.7" x2="560.9" y2="315.7" stroke="#333" stroke-width="0.9"/>
<text transform="translate(556.2 319.8) scale(1.13 1)" font-size="11.6" text-anchor="end">0.9</text>
<line x1="558.7" y1="334.8" x2="560.9" y2="334.8" stroke="#333" stroke-width="0.9"/>
<text transform="translate(556.2 338.9) scale(1.13 1)" font-size="11.6" text-anchor="end">0.8</text>
<line x1="558.7" y1="354" x2="560.9" y2="354" stroke="#333" stroke-width="0.9"/>
<text transform="translate(556.2 358.1) scale(1.13 1)" font-size="11.6" text-anchor="end">0.7</text>
<line x1="558.7" y1="373.4" x2="560.9" y2="373.4" stroke="#333" stroke-width="0.9"/>
<text transform="translate(556.2 377.4) scale(1.13 1)" font-size="11.6" text-anchor="end">0.6</text>
<line x1="558.7" y1="393" x2="560.9" y2="393" stroke="#333" stroke-width="0.9"/>
<text transform="translate(556.2 397.1) scale(1.13 1)" font-size="11.6" text-anchor="end">0.5</text>
<line x1="590.1" y1="406.6" x2="590.1" y2="404.4" stroke="#333" stroke-width="0.9"/>
<text transform="translate(590.1 417.4) scale(1.13 1)" font-size="11.6" text-anchor="middle">0</text>
<line x1="619.8" y1="406.6" x2="619.8" y2="404.4" stroke="#333" stroke-width="0.9"/>
<text transform="translate(619.8 417.4) scale(1.13 1)" font-size="11.6" text-anchor="middle">0.2</text>
<line x1="650.5" y1="406.6" x2="650.5" y2="404.4" stroke="#333" stroke-width="0.9"/>
<text transform="translate(650.5 417.4) scale(1.13 1)" font-size="11.6" text-anchor="middle">0.4</text>
<text x="566.5" y="304" font-size="10">p=0.0009</text>
<text x="566.5" y="314.8" font-size="10">p=0.0009</text>
<rect x="610.5" y="297.7" width="63.3" height="7.1" fill="#5a913c"/>
<rect x="614" y="307.8" width="59.8" height="6.8" fill="#377dbe"/>
<text x="6.3" y="471.3" font-size="14" font-weight="bold">f</text>
<text x="23.1" y="471.3" font-size="13.15">Shape category is encoded in all regions</text>
<line x1="292.1" y1="483.9" x2="315.2" y2="483.9" stroke="#e8963c" stroke-width="0.9"/>
<text x="317.7" y="487.1" font-size="12">Train S1, test S1</text>
<line x1="292.1" y1="494.7" x2="315.2" y2="494.7" stroke="#3873ad" stroke-width="0.9"/>
<text x="317.7" y="497.7" font-size="12">Train C2, test C2</text>
<line x1="292.1" y1="505.2" x2="315.2" y2="505.2" stroke="#478535" stroke-width="0.9"/>
<text x="317.7" y="507.9" font-size="12">Train C1, test C1</text>
<text x="111" y="503.2" font-size="19.3" text-anchor="middle" font-weight="bold">Striatum</text>
<clipPath id="c9"><rect x="54.4" y="474.1" width="116.5" height="173.9"/></clipPath>
<g clip-path="url(#c9)">
<polygon points="54.8,584 55.9,584.1 57.5,584.2 59.4,584.4 61.4,584.6 63.5,584.8 65.3,585.2 67,585.8 68.6,586.5 70.2,587.3 71.9,588.1 73.6,588.7 75.4,589 77.4,589 79.6,588.9 81.8,588.5 84,588 86.1,587.4 88,586.5 89.7,585.5 91.3,584.4 92.7,583 94.1,581.5 95.4,579.7 96.7,577.7 97.9,575.2 98.9,572.2 99.9,569 100.9,565.7 101.9,562.7 103,560.1 104.2,557.9 105.5,555.9 106.8,554.1 108.1,552.5 109.4,551.2 110.6,550.1 111.7,549.2 112.7,548.6 113.6,548.2 114.6,548.1 115.6,548.1 116.8,548.3 118.1,548.8 119.6,549.7 121.1,550.8 122.7,551.9 124.2,553 125.6,553.8 126.9,554.4 128.2,554.8 129.5,555.2 130.7,555.5 132,555.8 133.2,556.3 134.5,556.8 135.7,557.3 137,557.9 138.2,558.5 139.5,559.2 140.7,560.1 141.9,561.2 143.2,562.4 144.4,563.8 145.7,565.1 146.9,566.4 148.2,567.6 149.5,568.6 150.7,569.6 152,570.5 153.3,571.3 154.5,572 155.8,572.7 157.1,573.3 158.3,573.8 159.6,574.2 160.8,574.6 162.1,574.9 163.3,575.2 164.6,575.5 166,575.7 167.3,576 168.6,576.1 169.6,576.3 170.4,576.4 170.4,640.5 169.3,639.2 167.8,637.3 166.1,635.1 164.2,632.7 162.4,630.3 160.8,627.9 159.4,625.5 158.1,622.9 156.9,620.3 155.7,617.7 154.5,615.2 153.3,612.9 152.1,610.7 150.9,608.5 149.7,606.4 148.4,604.5 147.1,602.9 145.7,601.6 144.2,600.8 142.5,600.4 140.9,600.2 139.1,600.3 137.4,600.3 135.7,600.3 134,600.3 132.3,600.5 130.6,600.7 128.9,600.8 127.2,600.7 125.6,600.3 124,599.4 122.5,597.9 121,596.3 119.5,594.7 118.1,593.5 116.8,592.8 115.6,592.7 114.6,592.8 113.6,593.3 112.7,594.1 111.7,595.2 110.6,596.5 109.4,598.2 108.1,600.2 106.8,602.6 105.5,605.1 104.2,607.8 103,610.4 101.9,613.2 100.9,616.4 99.9,619.6 98.9,622.8 97.9,625.6 96.7,627.9 95.4,629.7 94.1,631.2 92.7,632.5 91.3,633.4 89.7,633.9 88,634.2 86.1,634 84,633.3 81.8,632.3 79.6,631.2 77.4,630.1 75.4,629.2 73.6,628.4 71.9,627.7 70.2,626.9 68.6,626.2 67,625.7 65.3,625.4 63.5,625.3 61.4,625.5 59.4,625.8 57.5,626.2 55.9,626.5 54.8,626.7" fill="#e8963c" fill-opacity="0.23"/>
<polyline points="54.8,584 55.9,584.1 57.5,584.2 59.4,584.4 61.4,584.6 63.5,584.8 65.3,585.2 67,585.8 68.6,586.5 70.2,587.3 71.9,588.1 73.6,588.7 75.4,589 77.4,589 79.6,588.9 81.8,588.5 84,588 86.1,587.4 88,586.5 89.7,585.5 91.3,584.4 92.7,583 94.1,581.5 95.4,579.7 96.7,577.7 97.9,575.2 98.9,572.2 99.9,569 100.9,565.7 101.9,562.7 103,560.1 104.2,557.9 105.5,555.9 106.8,554.1 108.1,552.5 109.4,551.2 110.6,550.1 111.7,549.2 112.7,548.6 113.6,548.2 114.6,548.1 115.6,548.1 116.8,548.3 118.1,548.8 119.6,549.7 121.1,550.8 122.7,551.9 124.2,553 125.6,553.8 126.9,554.4 128.2,554.8 129.5,555.2 130.7,555.5 132,555.8 133.2,556.3 134.5,556.8 135.7,557.3 137,557.9 138.2,558.5 139.5,559.2 140.7,560.1 141.9,561.2 143.2,562.4 144.4,563.8 145.7,565.1 146.9,566.4 148.2,567.6 149.5,568.6 150.7,569.6 152,570.5 153.3,571.3 154.5,572 155.8,572.7 157.1,573.3 158.3,573.8 159.6,574.2 160.8,574.6 162.1,574.9 163.3,575.2 164.6,575.5 166,575.7 167.3,576 168.6,576.1 169.6,576.3 170.4,576.4" fill="none" stroke="#dba560" stroke-opacity="0.55" stroke-width="0.7"/>
<polyline points="54.8,626.7 55.9,626.5 57.5,626.2 59.4,625.8 61.4,625.5 63.5,625.3 65.3,625.4 67,625.7 68.6,626.2 70.2,626.9 71.9,627.7 73.6,628.4 75.4,629.2 77.4,630.1 79.6,631.2 81.8,632.3 84,633.3 86.1,634 88,634.2 89.7,633.9 91.3,633.4 92.7,632.5 94.1,631.2 95.4,629.7 96.7,627.9 97.9,625.6 98.9,622.8 99.9,619.6 100.9,616.4 101.9,613.2 103,610.4 104.2,607.8 105.5,605.1 106.8,602.6 108.1,600.2 109.4,598.2 110.6,596.5 111.7,595.2 112.7,594.1 113.6,593.3 114.6,592.8 115.6,592.7 116.8,592.8 118.1,593.5 119.5,594.7 121,596.3 122.5,597.9 124,599.4 125.6,600.3 127.2,600.7 128.9,600.8 130.6,600.7 132.3,600.5 134,600.3 135.7,600.3 137.4,600.3 139.1,600.3 140.9,600.2 142.5,600.4 144.2,600.8 145.7,601.6 147.1,602.9 148.4,604.5 149.7,606.4 150.9,608.5 152.1,610.7 153.3,612.9 154.5,615.2 155.7,617.7 156.9,620.3 158.1,622.9 159.4,625.5 160.8,627.9 162.4,630.3 164.2,632.7 166.1,635.1 167.8,637.3 169.3,639.2 170.4,640.5" fill="none" stroke="#dba560" stroke-opacity="0.55" stroke-width="0.7"/>
<polyline points="54.8,605.3 67.8,605.3" fill="none" stroke="#e8963c" stroke-width="1"/>
<polyline points="103,587.7 106.8,577.7" fill="none" stroke="#e8963c" stroke-width="1"/>
<rect x="98.1" y="595.4" width="2.2" height="2.2" fill="#e8963c" transform="rotate(45 99.2 596.5)"/>
<polyline points="118,568.9 119.1,569.5 120.7,570.3 122.4,571.3 124,572.5 125.5,574.1 127.1,576 128.4,577.8 129.4,579" fill="none" stroke="#e8963c" stroke-width="1"/>
<rect x="113.2" y="567.8" width="2.2" height="2.2" fill="#e8963c" transform="rotate(45 114.3 568.9)"/>
<rect x="128.9" y="577.9" width="2.2" height="2.2" fill="#e8963c" transform="rotate(45 130 579)"/>
<polyline points="144.5,584 153.3,591.5" fill="none" stroke="#e8963c" stroke-width="1"/>
<rect x="143.4" y="582.9" width="2.2" height="2.2" fill="#e8963c" transform="rotate(45 144.5 584)"/>
<rect x="159.7" y="597.9" width="2.2" height="2.2" fill="#e8963c" transform="rotate(45 160.8 599)"/>
<polygon points="54.8,592.8 55.9,592 57.5,590.7 59.4,589.3 61.4,587.9 63.5,586.9 65.3,586.5 67,586.8 68.7,587.6 70.4,588.8 72.1,590.1 73.7,591.5 75.4,592.8 77.1,594.1 78.7,595.7 80.4,597.3 82.1,598.8 83.7,599.8 85.4,600.3 87.1,600 88.8,599.1 90.5,597.8 92.1,596.4 93.8,595.1 95.5,594 97.2,593.1 98.9,592.2 100.7,591.4 102.4,590.7 104,590.3 105.5,590.3 106.9,590.8 108.2,591.6 109.4,592.8 110.6,594.1 111.8,595.3 113,596.5 114.3,597.6 115.5,598.6 116.8,599.7 118.1,600.8 119.3,601.8 120.6,602.8 121.9,603.8 123.1,604.9 124.4,606 125.6,606.9 126.8,607.6 128.1,607.8 129.4,607.7 130.6,607.4 131.9,606.9 133.2,606 134.4,604.6 135.7,602.8 137,600.2 138.2,596.9 139.4,593.1 140.7,589.3 141.9,585.7 143.2,582.7 144.5,580.2 145.7,577.9 147,575.9 148.3,574.1 149.5,572.6 150.8,571.4 152.1,570.5 153.3,569.9 154.6,569.6 155.8,569.6 157.1,569.8 158.3,570.2 159.6,570.9 160.9,571.9 162.2,573.1 163.5,574.5 164.7,576.1 165.8,577.7 166.8,579.7 167.7,582 168.6,584.5 169.3,586.8 169.9,588.9 170.4,590.3 170.4,635.5 169.9,634.4 169.3,632.9 168.6,631.1 167.7,629.1 166.8,627.2 165.8,625.4 164.7,623.6 163.5,621.7 162.2,619.8 160.9,618 159.6,616.5 158.3,615.4 157.1,614.7 155.8,614.3 154.6,614.1 153.3,614.3 152.1,614.7 150.8,615.4 149.5,616.4 148.2,617.8 146.9,619.5 145.6,621.3 144.4,623.3 143.2,625.4 142.1,627.7 141,630.3 140,633 139,635.7 138,638.2 136.9,640.5 135.7,642.6 134.4,644.6 133.2,646.5 131.9,648.1 130.6,649.3 129.4,650 128.3,650.1 127.3,649.7 126.2,648.9 125.2,647.8 124.2,646.7 123.1,645.5 121.9,644.3 120.7,642.8 119.4,641.2 118.2,639.6 116.9,638.1 115.6,636.7 114.3,635.4 113.1,634.1 111.8,632.8 110.5,631.7 109.3,630.9 108,630.5 106.7,630.5 105.5,630.9 104.2,631.6 103,632.4 101.7,633.3 100.5,634.2 99.3,635.1 98.1,636.2 96.9,637.3 95.7,638.5 94.4,639.6 93,640.5 91.4,641.4 89.7,642.4 88,643.3 86.2,644 84.5,644.4 82.9,644.3 81.5,643.7 80.3,642.5 79.2,641 78,639.5 76.8,637.9 75.4,636.7 73.9,635.7 72.2,634.7 70.5,633.8 68.8,633 67,632.3 65.3,631.7 63.5,631.3 61.4,631 59.4,630.8 57.5,630.7 55.9,630.6 54.8,630.5" fill="#0072bd" fill-opacity="0.255"/>
<polyline points="54.8,592.8 55.9,592 57.5,590.7 59.4,589.3 61.4,587.9 63.5,586.9 65.3,586.5 67,586.8 68.7,587.6 70.4,588.8 72.1,590.1 73.7,591.5 75.4,592.8 77.1,594.1 78.7,595.7 80.4,597.3 82.1,598.8 83.7,599.8 85.4,600.3 87.1,600 88.8,599.1 90.5,597.8 92.1,596.4 93.8,595.1 95.5,594 97.2,593.1 98.9,592.2 100.7,591.4 102.4,590.7 104,590.3 105.5,590.3 106.9,590.8 108.2,591.6 109.4,592.8 110.6,594.1 111.8,595.3 113,596.5 114.3,597.6 115.5,598.6 116.8,599.7 118.1,600.8 119.3,601.8 120.6,602.8 121.9,603.8 123.1,604.9 124.4,606 125.6,606.9 126.8,607.6 128.1,607.8 129.4,607.7 130.6,607.4 131.9,606.9 133.2,606 134.4,604.6 135.7,602.8 137,600.2 138.2,596.9 139.4,593.1 140.7,589.3 141.9,585.7 143.2,582.7 144.5,580.2 145.7,577.9 147,575.9 148.3,574.1 149.5,572.6 150.8,571.4 152.1,570.5 153.3,569.9 154.6,569.6 155.8,569.6 157.1,569.8 158.3,570.2 159.6,570.9 160.9,571.9 162.2,573.1 163.5,574.5 164.7,576.1 165.8,577.7 166.8,579.7 167.7,582 168.6,584.5 169.3,586.8 169.9,588.9 170.4,590.3" fill="none" stroke="#5b8fb0" stroke-opacity="0.55" stroke-width="0.7"/>
<polyline points="54.8,630.5 55.9,630.6 57.5,630.7 59.4,630.8 61.4,631 63.5,631.3 65.3,631.7 67,632.3 68.8,633 70.5,633.8 72.2,634.7 73.9,635.7 75.4,636.7 76.8,637.9 78,639.5 79.2,641 80.3,642.5 81.5,643.7 82.9,644.3 84.5,644.4 86.2,644 88,643.3 89.7,642.4 91.4,641.4 93,640.5 94.4,639.6 95.7,638.5 96.9,637.3 98.1,636.2 99.3,635.1 100.5,634.2 101.7,633.3 103,632.4 104.2,631.6 105.5,630.9 106.7,630.5 108,630.5 109.3,630.9 110.5,631.7 111.8,632.8 113.1,634.1 114.3,635.4 115.6,636.7 116.9,638.1 118.2,639.6 119.4,641.2 120.7,642.8 121.9,644.3 123.1,645.5 124.2,646.7 125.2,647.8 126.2,648.9 127.3,649.7 128.3,650.1 129.4,650 130.6,649.3 131.9,648.1 133.2,646.5 134.4,644.6 135.7,642.6 136.9,640.5 138,638.2 139,635.7 140,633 141,630.3 142.1,627.7 143.2,625.4 144.4,623.3 145.6,621.3 146.9,619.5 148.2,617.8 149.5,616.4 150.8,615.4 152.1,614.7 153.3,614.3 154.6,614.1 155.8,614.3 157.1,614.7 158.3,615.4 159.6,616.5 160.9,618 162.2,619.8 163.5,621.7 164.7,623.6 165.8,625.4 166.8,627.2 167.7,629.1 168.6,631.1 169.3,632.9 169.9,634.4 170.4,635.5" fill="none" stroke="#5b8fb0" stroke-opacity="0.55" stroke-width="0.7"/>
<polyline points="54.8,612.9 67.8,609.1" fill="none" stroke="#3873ad" stroke-width="1"/>
<rect x="66.7" y="608" width="2.2" height="2.2" fill="#3873ad" transform="rotate(45 67.8 609.1)"/>
<polyline points="79.1,619.1 80,619.6 81.4,620.4 82.9,621.1 84.2,621.7 85.3,622 86.4,622.2 87.3,622.3 88,622.4" fill="none" stroke="#3873ad" stroke-width="1"/>
<rect x="83.1" y="620.6" width="2.2" height="2.2" fill="#3873ad" transform="rotate(45 84.2 621.7)"/>
<polyline points="103,610.4 103.9,610.5 105.2,610.7 106.6,611 108,611.5 109.4,612.4 110.8,613.5 112.1,614.6 113,615.4" fill="none" stroke="#3873ad" stroke-width="1"/>
<polyline points="123.1,626.7 124.3,626.9 125.9,627.2 127.8,627.5 129.4,627.4 130.9,626.8 132.3,625.8 133.5,624.9 134.4,624.2" fill="none" stroke="#3873ad" stroke-width="1"/>
<rect x="128.3" y="626.3" width="2.2" height="2.2" fill="#3873ad" transform="rotate(45 129.4 627.4)"/>
<polyline points="143.2,605.3 145.7,596.5" fill="none" stroke="#3873ad" stroke-width="1"/>
<rect x="144.6" y="595.4" width="2.2" height="2.2" fill="#3873ad" transform="rotate(45 145.7 596.5)"/>
<polyline points="160.8,592.8 161.4,593.1 162.2,593.4 163.1,594 164,595 164.8,596.7 165.7,599 166.5,601.3 167,602.8" fill="none" stroke="#3873ad" stroke-width="1"/>
<polygon points="54.8,594 55.9,594.2 57.5,594.5 59.4,594.9 61.4,595.2 63.5,595.4 65.3,595.3 67,594.9 68.7,594.4 70.4,593.6 72.1,592.9 73.7,592.1 75.4,591.5 77.1,591 78.7,590.6 80.4,590.2 82.1,589.9 83.7,589.5 85.4,589 87.1,588.4 88.8,587.5 90.5,586.7 92.1,586 93.8,585.4 95.5,585.2 97.2,585.4 98.9,585.9 100.7,586.6 102.4,587.4 104,588.2 105.5,589 106.9,589.9 108.2,590.9 109.4,592 110.6,593 111.8,593.7 113,594 114.2,593.7 115.4,593.1 116.6,592.1 117.9,591 119.2,589.9 120.6,589 122.2,588.1 123.9,587.1 125.7,586.1 127.4,585.2 129.1,584.5 130.7,584 132.1,583.8 133.4,583.7 134.6,583.8 135.8,584.1 137,584.6 138.2,585.2 139.4,586.1 140.6,587.3 141.8,588.7 143,590.1 144.3,591.5 145.7,592.8 147.3,594 149,595.3 150.8,596.5 152.5,597.6 154.2,598.5 155.8,599 157.2,599 158.5,598.7 159.7,598.1 160.9,597.4 162.1,596.8 163.3,596.5 164.6,596.5 166,596.7 167.3,597 168.6,597.3 169.6,597.6 170.4,597.8 170.4,640.5 169.4,639.9 167.9,639.1 166.2,638.2 164.4,637.2 162.5,636.2 160.8,635.5 159.2,635 157.5,634.6 155.8,634.3 154.2,633.9 152.5,633.5 150.8,633 149.1,632.3 147.4,631.3 145.8,630.4 144.1,629.4 142.4,628.6 140.7,627.9 139,627.4 137.4,626.9 135.7,626.6 134,626.4 132.4,626.4 130.7,626.7 129,627.3 127.2,628.3 125.5,629.5 123.8,630.8 122.1,632 120.6,633 119.2,633.9 117.9,634.8 116.6,635.6 115.4,636.3 114.2,636.7 113,636.7 111.8,636.2 110.6,635.3 109.4,634.1 108.2,632.8 106.9,631.5 105.5,630.5 104,629.6 102.4,628.7 100.7,627.9 98.9,627.2 97.2,626.8 95.5,626.7 93.8,627.1 92.1,627.8 90.5,628.8 88.8,629.9 87.1,630.9 85.4,631.7 83.7,632.3 82.1,632.7 80.4,633.1 78.7,633.5 77.1,633.8 75.4,634.2 73.7,634.7 72.1,635.3 70.4,635.9 68.7,636.4 67,636.7 65.3,636.7 63.5,636.2 61.4,635.4 59.4,634.4 57.5,633.3 55.9,632.3 54.8,631.7" fill="#4f8a3a" fill-opacity="0.255"/>
<polyline points="54.8,594 55.9,594.2 57.5,594.5 59.4,594.9 61.4,595.2 63.5,595.4 65.3,595.3 67,594.9 68.7,594.4 70.4,593.6 72.1,592.9 73.7,592.1 75.4,591.5 77.1,591 78.7,590.6 80.4,590.2 82.1,589.9 83.7,589.5 85.4,589 87.1,588.4 88.8,587.5 90.5,586.7 92.1,586 93.8,585.4 95.5,585.2 97.2,585.4 98.9,585.9 100.7,586.6 102.4,587.4 104,588.2 105.5,589 106.9,589.9 108.2,590.9 109.4,592 110.6,593 111.8,593.7 113,594 114.2,593.7 115.4,593.1 116.6,592.1 117.9,591 119.2,589.9 120.6,589 122.2,588.1 123.9,587.1 125.7,586.1 127.4,585.2 129.1,584.5 130.7,584 132.1,583.8 133.4,583.7 134.6,583.8 135.8,584.1 137,584.6 138.2,585.2 139.4,586.1 140.6,587.3 141.8,588.7 143,590.1 144.3,591.5 145.7,592.8 147.3,594 149,595.3 150.8,596.5 152.5,597.6 154.2,598.5 155.8,599 157.2,599 158.5,598.7 159.7,598.1 160.9,597.4 162.1,596.8 163.3,596.5 164.6,596.5 166,596.7 167.3,597 168.6,597.3 169.6,597.6 170.4,597.8" fill="none" stroke="#5f8f4f" stroke-opacity="0.55" stroke-width="0.7"/>
<polyline points="54.8,631.7 55.9,632.3 57.5,633.3 59.4,634.4 61.4,635.4 63.5,636.2 65.3,636.7 67,636.7 68.7,636.4 70.4,635.9 72.1,635.3 73.7,634.7 75.4,634.2 77.1,633.8 78.7,633.5 80.4,633.1 82.1,632.7 83.7,632.3 85.4,631.7 87.1,630.9 88.8,629.9 90.5,628.8 92.1,627.8 93.8,627.1 95.5,626.7 97.2,626.8 98.9,627.2 100.7,627.9 102.4,628.7 104,629.6 105.5,630.5 106.9,631.5 108.2,632.8 109.4,634.1 110.6,635.3 111.8,636.2 113,636.7 114.2,636.7 115.4,636.3 116.6,635.6 117.9,634.8 119.2,633.9 120.6,633 122.1,632 123.8,630.8 125.5,629.5 127.2,628.3 129,627.3 130.7,626.7 132.4,626.4 134,626.4 135.7,626.6 137.4,626.9 139,627.4 140.7,627.9 142.4,628.6 144.1,629.4 145.8,630.4 147.4,631.3 149.1,632.3 150.8,633 152.5,633.5 154.2,633.9 155.8,634.3 157.5,634.6 159.2,635 160.8,635.5 162.5,636.2 164.4,637.2 166.2,638.2 167.9,639.1 169.4,639.9 170.4,640.5" fill="none" stroke="#5f8f4f" stroke-opacity="0.55" stroke-width="0.7"/>
<polyline points="54.8,617.4 67.8,618.4" fill="none" stroke="#478535" stroke-width="1"/>
<rect x="66.7" y="617.3" width="2.2" height="2.2" fill="#478535" transform="rotate(45 67.8 618.4)"/>
<polyline points="83.7,611.1 84.9,610.7 86.5,610.2 88.3,609.7 90,609 91.6,608.2 93.1,607.3 94.5,606.4 95.5,605.8" fill="none" stroke="#478535" stroke-width="1"/>
<rect x="82.6" y="610" width="2.2" height="2.2" fill="#478535" transform="rotate(45 83.7 611.1)"/>
<rect x="98.1" y="606.2" width="2.2" height="2.2" fill="#478535" transform="rotate(45 99.2 607.3)"/>
<polyline points="114.3,616.1 121.9,611.6" fill="none" stroke="#478535" stroke-width="1"/>
<rect x="113.2" y="615" width="2.2" height="2.2" fill="#478535" transform="rotate(45 114.3 616.1)"/>
<polyline points="135.7,606.6 145.7,610.9" fill="none" stroke="#478535" stroke-width="1"/>
<rect x="129.1" y="605" width="2.2" height="2.2" fill="#478535" transform="rotate(45 130.2 606.1)"/>
<rect x="144.6" y="609.8" width="2.2" height="2.2" fill="#478535" transform="rotate(45 145.7 610.9)"/>
<polyline points="160.8,612.4 170.4,615.4" fill="none" stroke="#478535" stroke-width="1"/>
<line x1="54.8" y1="614.5" x2="67.8" y2="614.5" stroke="#8a8a8a" stroke-width="1"/>
<line x1="85.4" y1="614.5" x2="100.5" y2="614.5" stroke="#8a8a8a" stroke-width="1"/>
<line x1="115.6" y1="614.5" x2="129.4" y2="614.5" stroke="#8a8a8a" stroke-width="1"/>
<line x1="145.7" y1="614.5" x2="159.5" y2="614.5" stroke="#8a8a8a" stroke-width="1"/>
</g>
<path d="M54.4 534.1V648H170.4" fill="none" stroke="#333" stroke-width="1.2"/>
<line x1="54.4" y1="537.9" x2="56.6" y2="537.9" stroke="#333" stroke-width="0.9"/>
<text transform="translate(51.9 541.9) scale(1.13 1)" font-size="11.6" text-anchor="end">0.7</text>
<line x1="54.4" y1="557" x2="56.6" y2="557" stroke="#333" stroke-width="0.9"/>
<text transform="translate(51.9 561) scale(1.13 1)" font-size="11.6" text-anchor="end">0.65</text>
<line x1="54.4" y1="576.1" x2="56.6" y2="576.1" stroke="#333" stroke-width="0.9"/>
<text transform="translate(51.9 580.1) scale(1.13 1)" font-size="11.6" text-anchor="end">0.6</text>
<line x1="54.4" y1="595.2" x2="56.6" y2="595.2" stroke="#333" stroke-width="0.9"/>
<text transform="translate(51.9 599.2) scale(1.13 1)" font-size="11.6" text-anchor="end">0.55</text>
<line x1="54.4" y1="614.5" x2="56.6" y2="614.5" stroke="#333" stroke-width="0.9"/>
<text transform="translate(51.9 618.5) scale(1.13 1)" font-size="11.6" text-anchor="end">0.5</text>
<line x1="54.4" y1="634.5" x2="56.6" y2="634.5" stroke="#333" stroke-width="0.9"/>
<text transform="translate(51.9 638.5) scale(1.13 1)" font-size="11.6" text-anchor="end">0.45</text>
<line x1="85.4" y1="648" x2="85.4" y2="645.8" stroke="#333" stroke-width="0.9"/>
<text transform="translate(85.4 660) scale(1.13 1)" font-size="11.6" text-anchor="middle">0</text>
<line x1="116.1" y1="648" x2="116.1" y2="645.8" stroke="#333" stroke-width="0.9"/>
<text transform="translate(116.1 660) scale(1.13 1)" font-size="11.6" text-anchor="middle">0.2</text>
<line x1="147" y1="648" x2="147" y2="645.8" stroke="#333" stroke-width="0.9"/>
<text transform="translate(147 660) scale(1.13 1)" font-size="11.6" text-anchor="middle">0.4</text>
<text x="108.5" y="525.8" font-size="10">p=0.0009</text>
<rect x="101" y="529.6" width="55.3" height="7" fill="#eb9641"/>
<text x="22.1" y="586.5" font-size="13" text-anchor="middle" transform="rotate(-90 22.1 586.5)">Classifier accuracy</text>
<text x="272.5" y="503.2" font-size="19.3" text-anchor="middle" font-weight="bold">aIT</text>
<clipPath id="c10"><rect x="223.5" y="472.9" width="115.3" height="174.6"/></clipPath>
<g clip-path="url(#c10)">
<polygon points="223.5,592.8 224.7,593.1 226.4,593.6 228.4,594.1 230.5,594.7 232.7,595.1 234.8,595.3 236.8,595.3 238.9,595.1 241,594.8 243.2,594.5 245.3,594.2 247.4,594 249.5,593.9 251.6,593.9 253.7,594 255.7,594 257.8,594.1 259.9,594 262,593.9 264.2,593.7 266.3,593.6 268.5,593.3 270.5,593.1 272.5,592.8 274.4,592.5 276.1,592.3 277.9,592 279.5,591.6 281.1,591 282.6,590.3 284,589.4 285.3,588.2 286.5,587 287.7,585.6 288.9,584.2 290.1,582.7 291.3,581.1 292.6,579.5 293.8,577.7 295.1,575.9 296.3,574.3 297.6,572.7 298.9,571.3 300.1,569.9 301.4,568.6 302.7,567.4 303.9,566.2 305.2,565.1 306.5,564.1 307.7,563.3 309,562.5 310.2,561.8 311.5,561 312.7,560.1 313.9,559.1 315.2,558 316.4,556.9 317.7,555.8 318.9,554.7 320.2,553.8 321.4,553 322.6,552.3 323.8,551.7 325,551.2 326.4,550.6 327.8,550.1 329.5,549.6 331.5,549.1 333.5,548.6 335.5,548.1 337.1,547.8 338.3,547.5 338.3,599 337.1,599 335.5,598.9 333.5,598.8 331.5,598.7 329.5,598.8 327.8,599 326.4,599.4 325,599.9 323.8,600.6 322.6,601.3 321.4,602.1 320.2,602.8 318.9,603.5 317.7,604.3 316.4,605.1 315.2,605.9 313.9,606.8 312.7,607.8 311.5,608.9 310.2,610.1 309,611.4 307.7,612.8 306.5,614.1 305.2,615.4 303.9,616.7 302.7,617.9 301.4,619.1 300.1,620.4 298.9,621.6 297.6,622.9 296.3,624.2 295.1,625.5 293.8,626.8 292.6,628.1 291.3,629.3 290.1,630.5 288.9,631.7 287.7,632.8 286.5,633.9 285.3,635 284,635.9 282.6,636.7 281.1,637.4 279.5,637.9 277.9,638.3 276.1,638.7 274.4,639 272.5,639.2 270.5,639.3 268.5,639.4 266.3,639.4 264.2,639.3 262,639.2 259.9,639.2 257.8,639.2 255.7,639.2 253.7,639.1 251.6,639.1 249.5,639.1 247.4,639.2 245.3,639.3 243.2,639.5 241,639.8 238.9,640 236.8,640.3 234.8,640.5 232.7,640.7 230.5,641 228.4,641.2 226.4,641.5 224.7,641.7 223.5,641.8" fill="#e8963c" fill-opacity="0.27"/>
<polyline points="223.5,592.8 224.7,593.1 226.4,593.6 228.4,594.1 230.5,594.7 232.7,595.1 234.8,595.3 236.8,595.3 238.9,595.1 241,594.8 243.2,594.5 245.3,594.2 247.4,594 249.5,593.9 251.6,593.9 253.7,594 255.7,594 257.8,594.1 259.9,594 262,593.9 264.2,593.7 266.3,593.6 268.5,593.3 270.5,593.1 272.5,592.8 274.4,592.5 276.1,592.3 277.9,592 279.5,591.6 281.1,591 282.6,590.3 284,589.4 285.3,588.2 286.5,587 287.7,585.6 288.9,584.2 290.1,582.7 291.3,581.1 292.6,579.5 293.8,577.7 295.1,575.9 296.3,574.3 297.6,572.7 298.9,571.3 300.1,569.9 301.4,568.6 302.7,567.4 303.9,566.2 305.2,565.1 306.5,564.1 307.7,563.3 309,562.5 310.2,561.8 311.5,561 312.7,560.1 313.9,559.1 315.2,558 316.4,556.9 317.7,555.8 318.9,554.7 320.2,553.8 321.4,553 322.6,552.3 323.8,551.7 325,551.2 326.4,550.6 327.8,550.1 329.5,549.6 331.5,549.1 333.5,548.6 335.5,548.1 337.1,547.8 338.3,547.5" fill="none" stroke="#dba560" stroke-opacity="0.55" stroke-width="0.7"/>
<polyline points="223.5,641.8 224.7,641.7 226.4,641.5 228.4,641.2 230.5,641 232.7,640.7 234.8,640.5 236.8,640.3 238.9,640 241,639.8 243.2,639.5 245.3,639.3 247.4,639.2 249.5,639.1 251.6,639.1 253.7,639.1 255.7,639.2 257.8,639.2 259.9,639.2 262,639.2 264.2,639.3 266.3,639.4 268.5,639.4 270.5,639.3 272.5,639.2 274.4,639 276.1,638.7 277.9,638.3 279.5,637.9 281.1,637.4 282.6,636.7 284,635.9 285.3,635 286.5,633.9 287.7,632.8 288.9,631.7 290.1,630.5 291.3,629.3 292.6,628.1 293.8,626.8 295.1,625.5 296.3,624.2 297.6,622.9 298.9,621.6 300.1,620.4 301.4,619.1 302.7,617.9 303.9,616.7 305.2,615.4 306.5,614.1 307.7,612.8 309,611.4 310.2,610.1 311.5,608.9 312.7,607.8 313.9,606.8 315.2,605.9 316.4,605.1 317.7,604.3 318.9,603.5 320.2,602.8 321.4,602.1 322.6,601.3 323.8,600.6 325,599.9 326.4,599.4 327.8,599 329.5,598.8 331.5,598.7 333.5,598.8 335.5,598.9 337.1,599 338.3,599" fill="none" stroke="#dba560" stroke-opacity="0.55" stroke-width="0.7"/>
<polyline points="223.5,619.1 237.3,619.1" fill="none" stroke="#e8963c" stroke-width="1"/>
<polyline points="280,612.9 281.1,612.3 282.6,611.5 284.3,610.5 286,609.5 287.8,608.4 289.7,607.2 291.4,606.1 292.6,605.3" fill="none" stroke="#e8963c" stroke-width="1"/>
<polyline points="302.7,592.8 303.6,591.9 305,590.7 306.5,589.3 308,588 309.6,586.7 311.3,585.3 312.9,584.1 314,583.2" fill="none" stroke="#e8963c" stroke-width="1"/>
<rect x="296.5" y="597.9" width="2.2" height="2.2" fill="#e8963c" transform="rotate(45 297.6 599)"/>
<rect x="312.9" y="582.1" width="2.2" height="2.2" fill="#e8963c" transform="rotate(45 314 583.2)"/>
<polyline points="327.8,574.7 338.3,575.7" fill="none" stroke="#e8963c" stroke-width="1"/>
<rect x="326.7" y="573.6" width="2.2" height="2.2" fill="#e8963c" transform="rotate(45 327.8 574.7)"/>
<polygon points="223.5,597.8 224.7,597.9 226.4,598.2 228.4,598.4 230.5,598.6 232.7,598.9 234.8,599 236.9,599.1 239.1,599.2 241.3,599.2 243.5,599.2 245.6,599.2 247.4,599 248.9,598.7 250.2,598.1 251.3,597.5 252.4,597 253.6,596.6 254.9,596.5 256.4,596.8 258.1,597.5 259.8,598.3 261.5,599.2 263.3,599.9 265,600.3 266.7,600.4 268.3,600.3 270,600.1 271.7,599.8 273.3,599.4 275,599 276.7,598.5 278.3,597.9 280,597.3 281.7,596.6 283.3,596 285,595.3 286.7,594.6 288.4,593.9 290,593.2 291.7,592.5 293.4,591.9 295.1,591.5 296.8,591.3 298.5,591.3 300.2,591.3 301.8,591.4 303.5,591.5 305.2,591.5 306.9,591.3 308.6,590.9 310.4,590.5 312,590.2 313.7,590.1 315.2,590.3 316.6,590.9 317.9,591.9 319.2,593.1 320.4,594.3 321.6,595.5 322.8,596.5 324.1,597.3 325.3,598.1 326.5,598.9 327.8,599.5 329,600 330.3,600.3 331.7,600.4 333.2,600.2 334.8,599.9 336.2,599.5 337.4,599.2 338.3,599 338.3,645.5 337.2,644.8 335.6,644 333.7,642.9 331.7,641.7 329.6,640.5 327.8,639.2 326.1,637.8 324.4,636.2 322.7,634.5 321,632.9 319.4,631.5 317.7,630.5 316,629.9 314.4,629.5 312.7,629.4 311,629.4 309.4,629.3 307.7,629.2 306,628.9 304.3,628.5 302.7,628.2 301,627.9 299.3,627.7 297.6,627.9 295.9,628.4 294.3,629.2 292.6,630.1 290.9,631.2 289.3,632.2 287.6,633 285.9,633.8 284.2,634.7 282.6,635.5 280.9,636.2 279.2,636.6 277.5,636.7 275.8,636.3 274.2,635.4 272.5,634.2 270.8,633 269.2,632.1 267.5,631.7 265.8,631.8 264.1,632.3 262.4,633 260.8,633.8 259.1,634.7 257.4,635.5 255.7,636.3 254,637.1 252.2,637.9 250.6,638.8 248.9,639.7 247.4,640.5 246,641.4 244.7,642.4 243.4,643.4 242.2,644.3 241,645 239.8,645.5 238.6,645.7 237.3,645.7 236.1,645.5 234.9,645.2 233.6,644.8 232.3,644.3 230.8,643.6 229.1,642.7 227.4,641.7 225.8,640.7 224.5,639.8 223.5,639.2" fill="#0072bd" fill-opacity="0.3"/>
<polyline points="223.5,597.8 224.7,597.9 226.4,598.2 228.4,598.4 230.5,598.6 232.7,598.9 234.8,599 236.9,599.1 239.1,599.2 241.3,599.2 243.5,599.2 245.6,599.2 247.4,599 248.9,598.7 250.2,598.1 251.3,597.5 252.4,597 253.6,596.6 254.9,596.5 256.4,596.8 258.1,597.5 259.8,598.3 261.5,599.2 263.3,599.9 265,600.3 266.7,600.4 268.3,600.3 270,600.1 271.7,599.8 273.3,599.4 275,599 276.7,598.5 278.3,597.9 280,597.3 281.7,596.6 283.3,596 285,595.3 286.7,594.6 288.4,593.9 290,593.2 291.7,592.5 293.4,591.9 295.1,591.5 296.8,591.3 298.5,591.3 300.2,591.3 301.8,591.4 303.5,591.5 305.2,591.5 306.9,591.3 308.6,590.9 310.4,590.5 312,590.2 313.7,590.1 315.2,590.3 316.6,590.9 317.9,591.9 319.2,593.1 320.4,594.3 321.6,595.5 322.8,596.5 324.1,597.3 325.3,598.1 326.5,598.9 327.8,599.5 329,600 330.3,600.3 331.7,600.4 333.2,600.2 334.8,599.9 336.2,599.5 337.4,599.2 338.3,599" fill="none" stroke="#5b8fb0" stroke-opacity="0.55" stroke-width="0.7"/>
<polyline points="223.5,639.2 224.5,639.8 225.8,640.7 227.4,641.7 229.1,642.7 230.8,643.6 232.3,644.3 233.6,644.8 234.9,645.2 236.1,645.5 237.3,645.7 238.6,645.7 239.8,645.5 241,645 242.2,644.3 243.4,643.4 244.7,642.4 246,641.4 247.4,640.5 248.9,639.7 250.6,638.8 252.2,637.9 254,637.1 255.7,636.3 257.4,635.5 259.1,634.7 260.8,633.8 262.4,633 264.1,632.3 265.8,631.8 267.5,631.7 269.2,632.1 270.8,633 272.5,634.2 274.2,635.4 275.8,636.3 277.5,636.7 279.2,636.6 280.9,636.2 282.6,635.5 284.2,634.7 285.9,633.8 287.6,633 289.3,632.2 290.9,631.2 292.6,630.1 294.3,629.2 295.9,628.4 297.6,627.9 299.3,627.7 301,627.9 302.7,628.2 304.3,628.5 306,628.9 307.7,629.2 309.4,629.3 311,629.4 312.7,629.4 314.4,629.5 316,629.9 317.7,630.5 319.4,631.5 321,632.9 322.7,634.5 324.4,636.2 326.1,637.8 327.8,639.2 329.6,640.5 331.7,641.7 333.7,642.9 335.6,644 337.2,644.8 338.3,645.5" fill="none" stroke="#5b8fb0" stroke-opacity="0.55" stroke-width="0.7"/>
<polyline points="223.5,617.9 236.8,626.7" fill="none" stroke="#3873ad" stroke-width="1"/>
<rect x="235.7" y="625.6" width="2.2" height="2.2" fill="#3873ad" transform="rotate(45 236.8 626.7)"/>
<polyline points="247.4,619.1 267.5,616.6" fill="none" stroke="#3873ad" stroke-width="1"/>
<polyline points="276.3,619.1 285,614.1" fill="none" stroke="#3873ad" stroke-width="1"/>
<polyline points="303.9,610.4 316.5,609.8" fill="none" stroke="#3873ad" stroke-width="1"/>
<rect x="296.5" y="608" width="2.2" height="2.2" fill="#3873ad" transform="rotate(45 297.6 609.1)"/>
<rect x="315.4" y="608.7" width="2.2" height="2.2" fill="#3873ad" transform="rotate(45 316.5 609.8)"/>
<polyline points="322.8,618.4 338.3,622.9" fill="none" stroke="#3873ad" stroke-width="1"/>
<rect x="327.9" y="617.9" width="2.2" height="2.2" fill="#3873ad" transform="rotate(45 329 619)"/>
<polygon points="223.5,597.8 224.7,597.6 226.5,597.3 228.5,596.9 230.7,596.6 232.9,596.4 234.8,596.5 236.6,596.9 238.3,597.6 239.9,598.4 241.6,599.2 243.2,599.9 244.9,600.3 246.6,600.4 248.2,600.4 249.9,600.2 251.6,599.9 253.2,599.5 254.9,599 256.6,598.3 258.4,597.5 260.1,596.5 261.8,595.5 263.5,594.7 265,594 266.4,593.5 267.7,593.1 268.9,592.9 270.1,592.7 271.3,592.7 272.5,592.8 273.7,593.1 274.9,593.7 276.1,594.4 277.3,595.2 278.6,595.9 280,596.5 281.5,597 283.2,597.4 284.9,597.8 286.6,598.2 288.4,598.6 290.1,599 291.8,599.4 293.4,599.9 295.1,600.4 296.8,600.8 298.4,601.2 300.1,601.6 301.8,601.9 303.5,602.2 305.2,602.5 306.8,602.7 308.5,602.8 310.2,602.8 311.9,602.6 313.5,602.2 315.2,601.7 316.9,601.2 318.5,600.7 320.2,600.3 321.9,600 323.6,599.7 325.4,599.4 327.1,599.2 328.7,599.1 330.3,599 331.8,599.1 333.4,599.3 334.9,599.6 336.3,599.9 337.5,600.1 338.3,600.3 338.3,645.5 337.8,645.1 337,644.6 336.2,644 335.2,643.3 334,642.5 332.8,641.8 331.4,641 329.8,640.2 328.1,639.4 326.3,638.5 324.5,637.6 322.8,636.7 321.1,635.7 319.4,634.6 317.8,633.4 316.1,632.3 314.4,631.3 312.7,630.5 311,629.8 309.4,629.2 307.7,628.6 306,628.2 304.4,628 302.7,627.9 301,628 299.3,628.4 297.7,628.9 296,629.4 294.3,630 292.6,630.5 290.9,631 289.3,631.6 287.6,632.2 285.9,632.6 284.3,632.9 282.6,633 281,632.6 279.3,631.9 277.7,630.9 276.1,630 274.3,629.4 272.5,629.2 270.5,629.6 268.5,630.3 266.3,631.3 264.2,632.4 262,633.4 259.9,634.2 257.8,634.8 255.7,635.4 253.7,635.9 251.6,636.3 249.5,636.6 247.4,636.7 245.3,636.6 243.2,636.2 241,635.7 238.9,635.1 236.8,634.6 234.8,634.2 232.7,633.9 230.5,633.7 228.4,633.4 226.4,633.3 224.7,633.1 223.5,633" fill="#4f8a3a" fill-opacity="0.3"/>
<polyline points="223.5,597.8 224.7,597.6 226.5,597.3 228.5,596.9 230.7,596.6 232.9,596.4 234.8,596.5 236.6,596.9 238.3,597.6 239.9,598.4 241.6,599.2 243.2,599.9 244.9,600.3 246.6,600.4 248.2,600.4 249.9,600.2 251.6,599.9 253.2,599.5 254.9,599 256.6,598.3 258.4,597.5 260.1,596.5 261.8,595.5 263.5,594.7 265,594 266.4,593.5 267.7,593.1 268.9,592.9 270.1,592.7 271.3,592.7 272.5,592.8 273.7,593.1 274.9,593.7 276.1,594.4 277.3,595.2 278.6,595.9 280,596.5 281.5,597 283.2,597.4 284.9,597.8 286.6,598.2 288.4,598.6 290.1,599 291.8,599.4 293.4,599.9 295.1,600.4 296.8,600.8 298.4,601.2 300.1,601.6 301.8,601.9 303.5,602.2 305.2,602.5 306.8,602.7 308.5,602.8 310.2,602.8 311.9,602.6 313.5,602.2 315.2,601.7 316.9,601.2 318.5,600.7 320.2,600.3 321.9,600 323.6,599.7 325.4,599.4 327.1,599.2 328.7,599.1 330.3,599 331.8,599.1 333.4,599.3 334.9,599.6 336.3,599.9 337.5,600.1 338.3,600.3" fill="none" stroke="#5f8f4f" stroke-opacity="0.55" stroke-width="0.7"/>
<polyline points="223.5,633 224.7,633.1 226.4,633.3 228.4,633.4 230.5,633.7 232.7,633.9 234.8,634.2 236.8,634.6 238.9,635.1 241,635.7 243.2,636.2 245.3,636.6 247.4,636.7 249.5,636.6 251.6,636.3 253.7,635.9 255.7,635.4 257.8,634.8 259.9,634.2 262,633.4 264.2,632.4 266.3,631.3 268.5,630.3 270.5,629.6 272.5,629.2 274.3,629.4 276.1,630 277.7,630.9 279.3,631.9 281,632.6 282.6,633 284.3,632.9 285.9,632.6 287.6,632.2 289.3,631.6 290.9,631 292.6,630.5 294.3,630 296,629.4 297.7,628.9 299.3,628.4 301,628 302.7,627.9 304.4,628 306,628.2 307.7,628.6 309.4,629.2 311,629.8 312.7,630.5 314.4,631.3 316.1,632.3 317.8,633.4 319.4,634.6 321.1,635.7 322.8,636.7 324.5,637.6 326.3,638.5 328.1,639.4 329.8,640.2 331.4,641 332.8,641.8 334,642.5 335.2,643.3 336.2,644 337,644.6 337.8,645.1 338.3,645.5" fill="none" stroke="#5f8f4f" stroke-opacity="0.55" stroke-width="0.7"/>
<polyline points="223.5,616.6 236.8,614.6" fill="none" stroke="#478535" stroke-width="1"/>
<rect x="235.7" y="613.5" width="2.2" height="2.2" fill="#478535" transform="rotate(45 236.8 614.6)"/>
<polyline points="252.4,617.9 267.5,613.6" fill="none" stroke="#478535" stroke-width="1"/>
<rect x="266.4" y="612.5" width="2.2" height="2.2" fill="#478535" transform="rotate(45 267.5 613.6)"/>
<polyline points="281.8,613.4 296.4,615.4" fill="none" stroke="#478535" stroke-width="1"/>
<rect x="280.7" y="612.3" width="2.2" height="2.2" fill="#478535" transform="rotate(45 281.8 613.4)"/>
<rect x="295.3" y="614.3" width="2.2" height="2.2" fill="#478535" transform="rotate(45 296.4 615.4)"/>
<polyline points="313.2,614.6 320.2,617.9" fill="none" stroke="#478535" stroke-width="1"/>
<rect x="312.1" y="613.5" width="2.2" height="2.2" fill="#478535" transform="rotate(45 313.2 614.6)"/>
<rect x="327.9" y="620.4" width="2.2" height="2.2" fill="#478535" transform="rotate(45 329 621.5)"/>
<line x1="223.5" y1="618.5" x2="237.3" y2="618.5" stroke="#8a8a8a" stroke-width="1"/>
<line x1="252.4" y1="618.5" x2="267.5" y2="618.5" stroke="#8a8a8a" stroke-width="1"/>
<line x1="282.6" y1="618.5" x2="296.4" y2="618.5" stroke="#8a8a8a" stroke-width="1"/>
<line x1="313.2" y1="618.5" x2="327.8" y2="618.5" stroke="#8a8a8a" stroke-width="1"/>
</g>
<path d="M223.5 532.9V647.5H338.3" fill="none" stroke="#333" stroke-width="1.2"/>
<line x1="223.5" y1="535.4" x2="225.7" y2="535.4" stroke="#333" stroke-width="0.9"/>
<text transform="translate(221 539.4) scale(1.13 1)" font-size="11.6" text-anchor="end">0.7</text>
<line x1="223.5" y1="556.5" x2="225.7" y2="556.5" stroke="#333" stroke-width="0.9"/>
<text transform="translate(221 560.5) scale(1.13 1)" font-size="11.6" text-anchor="end">0.65</text>
<line x1="223.5" y1="577" x2="225.7" y2="577" stroke="#333" stroke-width="0.9"/>
<text transform="translate(221 581) scale(1.13 1)" font-size="11.6" text-anchor="end">0.6</text>
<line x1="223.5" y1="597" x2="225.7" y2="597" stroke="#333" stroke-width="0.9"/>
<text transform="translate(221 601) scale(1.13 1)" font-size="11.6" text-anchor="end">0.55</text>
<line x1="223.5" y1="617.4" x2="225.7" y2="617.4" stroke="#333" stroke-width="0.9"/>
<text transform="translate(221 621.4) scale(1.13 1)" font-size="11.6" text-anchor="end">0.5</text>
<line x1="223.5" y1="638.7" x2="225.7" y2="638.7" stroke="#333" stroke-width="0.9"/>
<text transform="translate(221 642.8) scale(1.13 1)" font-size="11.6" text-anchor="end">0.45</text>
<line x1="252.9" y1="647.5" x2="252.9" y2="645.3" stroke="#333" stroke-width="0.9"/>
<text transform="translate(252.9 658) scale(1.13 1)" font-size="11.6" text-anchor="middle">0</text>
<line x1="283.8" y1="647.5" x2="283.8" y2="645.3" stroke="#333" stroke-width="0.9"/>
<text transform="translate(283.8 658) scale(1.13 1)" font-size="11.6" text-anchor="middle">0.2</text>
<line x1="314.5" y1="647.5" x2="314.5" y2="645.3" stroke="#333" stroke-width="0.9"/>
<text transform="translate(314.5 658) scale(1.13 1)" font-size="11.6" text-anchor="middle">0.4</text>
<text x="297.6" y="524.1" font-size="10">p=0.0009</text>
<rect x="301.4" y="527.8" width="36.9" height="7.1" fill="#eb9641"/>
<text x="264.2" y="675" font-size="13.15">Time, relative to stimulus onset (s)</text>
<text x="438.6" y="502.7" font-size="19.3" text-anchor="middle" font-weight="bold">FEF</text>
<clipPath id="c11"><rect x="385.2" y="471.6" width="115.6" height="175.9"/></clipPath>
<g clip-path="url(#c11)">
<polygon points="384.8,617.2 387,617.2 390,617.2 393.6,617.1 397.4,617.1 401.2,617 404.7,617 408.3,617.2 411.8,617.6 414.9,617.9 417.5,618.1 419.2,618.2 419.8,618.4 419.9,619.2 419.9,620.1 420.4,620.6 421.4,620.3 422.8,619.2 424.3,617.9 425.4,616.4 426.5,614.9 427.5,613.1 428.6,611.1 429.7,609 430.8,606.7 431.6,604.1 432.5,601.4 433.3,598.4 434.2,595.4 435,592.4 435.9,589.4 436.8,586.4 437.7,583.4 438.6,580.4 439.5,577.4 440.4,574.5 441.2,571.7 442.1,569 442.9,566.3 443.7,563.7 444.5,561.1 445.3,558.7 446.1,556.4 447,554.3 447.9,552.3 448.7,550.5 449.6,548.7 450.5,547.2 451.4,545.7 452.3,544.3 453.2,543 454.1,541.8 455.1,540.7 456.2,539.7 457.3,538.8 458.5,538.1 459.7,537.5 460.9,537.1 462.2,536.8 463.5,536.7 464.9,536.6 466.6,536.6 468.4,536.8 470.2,537 472,537.2 473.8,537.4 475.8,537.5 478,537.5 480.6,537.5 483.2,537.4 485.9,537.3 488.3,537.2 490.4,537 492.3,536.8 494,536.4 495.7,536.1 497.2,535.7 498.5,535.3 499.5,535.1 501.1,541.7 500.2,541.9 498.9,542.3 497.3,542.7 495.4,543.1 493.4,543.5 491.2,543.8 488.8,544 486.2,544.1 483.4,544.2 480.7,544.3 478,544.3 475.6,544.3 473.4,544.2 471.3,544 469.3,543.8 467.7,543.5 466.3,543.4 465.1,543.4 464,543.5 463.2,543.5 462.7,543.7 462.3,543.8 461.8,544 461.3,544.4 460.7,544.9 460,545.5 459.4,546.2 458.7,547.1 457.9,548.1 457.2,549.3 456.4,550.6 455.6,552 454.8,553.5 454,555.1 453.3,556.9 452.5,558.8 451.7,560.9 450.9,563.2 450.2,565.7 449.4,568.3 448.6,571 447.8,573.7 446.9,576.5 446,579.4 445.1,582.3 444.2,585.3 443.3,588.3 442.5,591.2 441.7,594.2 440.9,597.2 440.1,600.3 439.3,603.3 438.4,606.2 437.6,608.9 437.1,611.5 436.6,614 436,616.4 435.4,618.7 434.8,620.9 434.1,622.9 433.9,624.8 433.8,626.8 433.3,629.2 431.9,632.1 429.4,635 426,637.4 422,638.5 418.3,639.1 414.7,639.4 411.3,639.5 408.1,639.7 405.3,640 402,640.2 398.2,640.4 394.4,640.6 390.8,640.8 387.8,641 385.6,641.2" fill="#e8963c" fill-opacity="0.27"/>
<polyline points="384.8,617.2 387,617.2 390,617.2 393.6,617.1 397.4,617.1 401.2,617 404.7,617 408.3,617.2 411.8,617.6 414.9,617.9 417.5,618.1 419.2,618.2 419.8,618.4 419.9,619.2 419.9,620.1 420.4,620.6 421.4,620.3 422.8,619.2 424.3,617.9 425.4,616.4 426.5,614.9 427.5,613.1 428.6,611.1 429.7,609 430.8,606.7 431.6,604.1 432.5,601.4 433.3,598.4 434.2,595.4 435,592.4 435.9,589.4 436.8,586.4 437.7,583.4 438.6,580.4 439.5,577.4 440.4,574.5 441.2,571.7 442.1,569 442.9,566.3 443.7,563.7 444.5,561.1 445.3,558.7 446.1,556.4 447,554.3 447.9,552.3 448.7,550.5 449.6,548.7 450.5,547.2 451.4,545.7 452.3,544.3 453.2,543 454.1,541.8 455.1,540.7 456.2,539.7 457.3,538.8 458.5,538.1 459.7,537.5 460.9,537.1 462.2,536.8 463.5,536.7 464.9,536.6 466.6,536.6 468.4,536.8 470.2,537 472,537.2 473.8,537.4 475.8,537.5 478,537.5 480.6,537.5 483.2,537.4 485.9,537.3 488.3,537.2 490.4,537 492.3,536.8 494,536.4 495.7,536.1 497.2,535.7 498.5,535.3 499.5,535.1" fill="none" stroke="#dba560" stroke-opacity="0.55" stroke-width="0.7"/>
<polyline points="385.6,641.2 387.8,641 390.8,640.8 394.4,640.6 398.2,640.4 402,640.2 405.3,640 408.1,639.7 411.3,639.5 414.7,639.4 418.3,639.1 422,638.5 426,637.4 429.4,635 431.9,632.1 433.3,629.2 433.8,626.8 433.9,624.8 434.1,622.9 434.8,620.9 435.4,618.7 436,616.4 436.6,614 437.1,611.5 437.6,608.9 438.4,606.2 439.3,603.3 440.1,600.3 440.9,597.2 441.7,594.2 442.5,591.2 443.3,588.3 444.2,585.3 445.1,582.3 446,579.4 446.9,576.5 447.8,573.7 448.6,571 449.4,568.3 450.2,565.7 450.9,563.2 451.7,560.9 452.5,558.8 453.3,556.9 454,555.1 454.8,553.5 455.6,552 456.4,550.6 457.2,549.3 457.9,548.1 458.7,547.1 459.4,546.2 460,545.5 460.7,544.9 461.3,544.4 461.8,544 462.3,543.8 462.7,543.7 463.2,543.5 464,543.5 465.1,543.4 466.3,543.4 467.7,543.5 469.3,543.8 471.3,544 473.4,544.2 475.6,544.3 478,544.3 480.7,544.3 483.4,544.2 486.2,544.1 488.8,544 491.2,543.8 493.4,543.5 495.4,543.1 497.3,542.7 498.9,542.3 500.2,541.9 501.1,541.7" fill="none" stroke="#dba560" stroke-opacity="0.55" stroke-width="0.7"/>
<polyline points="432.5,612 436.5,600" fill="none" stroke="#e8963c" stroke-width="1"/>
<polyline points="443,577.5 446,568" fill="none" stroke="#e8963c" stroke-width="1"/>
<rect x="443.4" y="571.6" width="2.2" height="2.2" fill="#e8963c" transform="rotate(45 444.5 572.7)"/>
<polyline points="452.5,551 456,545" fill="none" stroke="#e8963c" stroke-width="1"/>
<rect x="459.1" y="539.7" width="2.2" height="2.2" fill="#e8963c" transform="rotate(45 460.2 540.8)"/>
<polyline points="475.7,540.9 490.8,540.4" fill="none" stroke="#e8963c" stroke-width="1"/>
<rect x="474.6" y="539.8" width="2.2" height="2.2" fill="#e8963c" transform="rotate(45 475.7 540.9)"/>
<rect x="489.7" y="539.3" width="2.2" height="2.2" fill="#e8963c" transform="rotate(45 490.8 540.4)"/>
<polygon points="385.2,615.4 387.1,615.7 389.7,616.1 392.7,616.6 396.1,617.1 399.5,617.5 402.8,617.9 406.1,618.2 409.6,618.5 413.2,618.8 416.7,619 420,619.1 422.9,619.1 425.4,618.9 427.7,618.5 429.7,618 431.6,617.5 433.5,617 435.5,616.6 437.6,616.3 439.7,616.1 441.7,615.9 443.8,615.8 445.9,615.6 448,615.4 450.1,615.2 452.3,615 454.4,614.7 456.6,614.5 458.6,614.3 460.6,614.1 462.4,613.9 464.2,613.7 465.8,613.5 467.4,613.3 469.1,613.3 470.7,613.4 472.4,613.7 474,614.2 475.7,614.8 477.4,615.4 479,616.1 480.7,616.6 482.4,617.1 484.1,617.6 485.8,618.1 487.5,618.6 489.2,618.9 490.8,619.1 492.5,619.1 494.4,618.9 496.2,618.7 497.9,618.3 499.3,618.1 500.3,617.9 500.3,647 499.3,646.8 497.9,646.5 496.2,646.1 494.4,645.7 492.5,645.2 490.8,644.5 489.2,643.6 487.5,642.5 485.8,641.4 484.1,640.2 482.4,639.1 480.7,638.2 479,637.5 477.4,637 475.7,636.6 474,636.3 472.4,636 470.7,635.7 469.1,635.4 467.4,635.1 465.8,634.8 464.2,634.6 462.4,634.5 460.6,634.5 458.6,634.7 456.6,635.1 454.4,635.6 452.3,636.1 450.1,636.6 448,637 445.9,637.3 443.8,637.5 441.7,637.7 439.7,637.8 437.6,638 435.5,638.2 433.5,638.4 431.6,638.6 429.7,638.9 427.7,639.1 425.4,639.3 422.9,639.5 420,639.7 416.7,640 413.2,640.3 409.6,640.6 406.1,640.7 402.8,640.7 399.5,640.5 396.1,640 392.7,639.5 389.7,639 387.1,638.5 385.2,638.2" fill="#0072bd" fill-opacity="0.3"/>
<polyline points="385.2,615.4 387.1,615.7 389.7,616.1 392.7,616.6 396.1,617.1 399.5,617.5 402.8,617.9 406.1,618.2 409.6,618.5 413.2,618.8 416.7,619 420,619.1 422.9,619.1 425.4,618.9 427.7,618.5 429.7,618 431.6,617.5 433.5,617 435.5,616.6 437.6,616.3 439.7,616.1 441.7,615.9 443.8,615.8 445.9,615.6 448,615.4 450.1,615.2 452.3,615 454.4,614.7 456.6,614.5 458.6,614.3 460.6,614.1 462.4,613.9 464.2,613.7 465.8,613.5 467.4,613.3 469.1,613.3 470.7,613.4 472.4,613.7 474,614.2 475.7,614.8 477.4,615.4 479,616.1 480.7,616.6 482.4,617.1 484.1,617.6 485.8,618.1 487.5,618.6 489.2,618.9 490.8,619.1 492.5,619.1 494.4,618.9 496.2,618.7 497.9,618.3 499.3,618.1 500.3,617.9" fill="none" stroke="#5b8fb0" stroke-opacity="0.55" stroke-width="0.7"/>
<polyline points="385.2,638.2 387.1,638.5 389.7,639 392.7,639.5 396.1,640 399.5,640.5 402.8,640.7 406.1,640.7 409.6,640.6 413.2,640.3 416.7,640 420,639.7 422.9,639.5 425.4,639.3 427.7,639.1 429.7,638.9 431.6,638.6 433.5,638.4 435.5,638.2 437.6,638 439.7,637.8 441.7,637.7 443.8,637.5 445.9,637.3 448,637 450.1,636.6 452.3,636.1 454.4,635.6 456.6,635.1 458.6,634.7 460.6,634.5 462.4,634.5 464.2,634.6 465.8,634.8 467.4,635.1 469.1,635.4 470.7,635.7 472.4,636 474,636.3 475.7,636.6 477.4,637 479,637.5 480.7,638.2 482.4,639.1 484.1,640.2 485.8,641.4 487.5,642.5 489.2,643.6 490.8,644.5 492.5,645.2 494.4,645.7 496.2,646.1 497.9,646.5 499.3,646.8 500.3,647" fill="none" stroke="#5b8fb0" stroke-opacity="0.55" stroke-width="0.7"/>
<polygon points="385.2,616.6 387.1,616.9 389.7,617.3 392.7,617.8 396.1,618.3 399.5,618.7 402.8,619.1 406.1,619.4 409.6,619.7 413.2,620 416.7,620.2 420,620.3 422.9,620.3 425.4,620.1 427.7,619.7 429.7,619.2 431.6,618.7 433.5,618.2 435.5,617.8 437.6,617.5 439.7,617.3 441.7,617.1 443.8,617 445.9,616.8 448,616.6 450.1,616.4 452.3,616.2 454.4,615.9 456.6,615.7 458.6,615.5 460.6,615.3 462.4,615.1 464.2,614.9 465.8,614.7 467.4,614.5 469.1,614.5 470.7,614.6 472.4,614.9 474,615.4 475.7,616 477.4,616.6 479,617.3 480.7,617.8 482.4,618.3 484.1,618.8 485.8,619.3 487.5,619.8 489.2,620.1 490.8,620.3 492.5,620.3 494.4,620.1 496.2,619.9 497.9,619.5 499.3,619.3 500.3,619.1 500.3,645.5 499.3,645.3 497.9,645 496.2,644.6 494.4,644.2 492.5,643.7 490.8,643 489.2,642.1 487.5,641 485.8,639.9 484.1,638.7 482.4,637.6 480.7,636.7 479,636 477.4,635.5 475.7,635.1 474,634.8 472.4,634.5 470.7,634.2 469.1,633.9 467.4,633.6 465.8,633.3 464.2,633.1 462.4,633 460.6,633 458.6,633.2 456.6,633.6 454.4,634.1 452.3,634.6 450.1,635.1 448,635.5 445.9,635.8 443.8,636 441.7,636.2 439.7,636.3 437.6,636.5 435.5,636.7 433.5,636.9 431.6,637.1 429.7,637.4 427.7,637.6 425.4,637.8 422.9,638 420,638.2 416.7,638.5 413.2,638.8 409.6,639.1 406.1,639.2 402.8,639.2 399.5,639 396.1,638.5 392.7,638 389.7,637.5 387.1,637 385.2,636.7" fill="#4f8a3a" fill-opacity="0.3"/>
<polyline points="385.2,616.6 387.1,616.9 389.7,617.3 392.7,617.8 396.1,618.3 399.5,618.7 402.8,619.1 406.1,619.4 409.6,619.7 413.2,620 416.7,620.2 420,620.3 422.9,620.3 425.4,620.1 427.7,619.7 429.7,619.2 431.6,618.7 433.5,618.2 435.5,617.8 437.6,617.5 439.7,617.3 441.7,617.1 443.8,617 445.9,616.8 448,616.6 450.1,616.4 452.3,616.2 454.4,615.9 456.6,615.7 458.6,615.5 460.6,615.3 462.4,615.1 464.2,614.9 465.8,614.7 467.4,614.5 469.1,614.5 470.7,614.6 472.4,614.9 474,615.4 475.7,616 477.4,616.6 479,617.3 480.7,617.8 482.4,618.3 484.1,618.8 485.8,619.3 487.5,619.8 489.2,620.1 490.8,620.3 492.5,620.3 494.4,620.1 496.2,619.9 497.9,619.5 499.3,619.3 500.3,619.1" fill="none" stroke="#5f8f4f" stroke-opacity="0.55" stroke-width="0.7"/>
<polyline points="385.2,636.7 387.1,637 389.7,637.5 392.7,638 396.1,638.5 399.5,639 402.8,639.2 406.1,639.2 409.6,639.1 413.2,638.8 416.7,638.5 420,638.2 422.9,638 425.4,637.8 427.7,637.6 429.7,637.4 431.6,637.1 433.5,636.9 435.5,636.7 437.6,636.5 439.7,636.3 441.7,636.2 443.8,636 445.9,635.8 448,635.5 450.1,635.1 452.3,634.6 454.4,634.1 456.6,633.6 458.6,633.2 460.6,633 462.4,633 464.2,633.1 465.8,633.3 467.4,633.6 469.1,633.9 470.7,634.2 472.4,634.5 474,634.8 475.7,635.1 477.4,635.5 479,636 480.7,636.7 482.4,637.6 484.1,638.7 485.8,639.9 487.5,641 489.2,642.1 490.8,643 492.5,643.7 494.4,644.2 496.2,644.6 497.9,645 499.3,645.3 500.3,645.5" fill="none" stroke="#5f8f4f" stroke-opacity="0.55" stroke-width="0.7"/>
<polyline points="385.2,626.1 399,628.6" fill="none" stroke="#3873ad" stroke-width="1"/>
<rect x="397.9" y="627.5" width="2.2" height="2.2" fill="#3873ad" transform="rotate(45 399 628.6)"/>
<polyline points="412.9,628.6 429.2,626.1" fill="none" stroke="#3873ad" stroke-width="1"/>
<rect x="428.1" y="625" width="2.2" height="2.2" fill="#3873ad" transform="rotate(45 429.2 626.1)"/>
<polyline points="444.3,626.1 460.6,624.8" fill="none" stroke="#3873ad" stroke-width="1"/>
<rect x="443.2" y="625" width="2.2" height="2.2" fill="#3873ad" transform="rotate(45 444.3 626.1)"/>
<rect x="459.5" y="623.7" width="2.2" height="2.2" fill="#3873ad" transform="rotate(45 460.6 624.8)"/>
<polyline points="473.2,622.4 490.8,629.9" fill="none" stroke="#3873ad" stroke-width="1"/>
<rect x="472.1" y="621.3" width="2.2" height="2.2" fill="#3873ad" transform="rotate(45 473.2 622.4)"/>
<rect x="489.7" y="628.8" width="2.2" height="2.2" fill="#3873ad" transform="rotate(45 490.8 629.9)"/>
<polyline points="385.2,627.3 399,629.8" fill="none" stroke="#478535" stroke-width="1"/>
<rect x="397.9" y="628.7" width="2.2" height="2.2" fill="#478535" transform="rotate(45 399 629.8)"/>
<polyline points="412.9,629.8 429.2,627.3" fill="none" stroke="#478535" stroke-width="1"/>
<rect x="428.1" y="626.2" width="2.2" height="2.2" fill="#478535" transform="rotate(45 429.2 627.3)"/>
<polyline points="444.3,627.3 460.6,626" fill="none" stroke="#478535" stroke-width="1"/>
<rect x="443.2" y="626.2" width="2.2" height="2.2" fill="#478535" transform="rotate(45 444.3 627.3)"/>
<rect x="459.5" y="624.9" width="2.2" height="2.2" fill="#478535" transform="rotate(45 460.6 626)"/>
<polyline points="473.2,626 490.8,631.1" fill="none" stroke="#478535" stroke-width="1"/>
<rect x="472.1" y="624.9" width="2.2" height="2.2" fill="#478535" transform="rotate(45 473.2 626)"/>
<rect x="489.7" y="630" width="2.2" height="2.2" fill="#478535" transform="rotate(45 490.8 631.1)"/>
<line x1="385.2" y1="629.5" x2="399" y2="629.5" stroke="#8a8a8a" stroke-width="1"/>
<line x1="414" y1="629.5" x2="429" y2="629.5" stroke="#8a8a8a" stroke-width="1"/>
<line x1="445" y1="629.5" x2="460" y2="629.5" stroke="#8a8a8a" stroke-width="1"/>
<line x1="475.7" y1="629.5" x2="490.8" y2="629.5" stroke="#8a8a8a" stroke-width="1"/>
</g>
<path d="M385.2 531.6V647.5H500.3" fill="none" stroke="#333" stroke-width="1.2"/>
<line x1="385.2" y1="536.9" x2="387.4" y2="536.9" stroke="#333" stroke-width="0.9"/>
<text transform="translate(382.7 540.9) scale(1.13 1)" font-size="11.6" text-anchor="end">1</text>
<line x1="385.2" y1="555.3" x2="387.4" y2="555.3" stroke="#333" stroke-width="0.9"/>
<text transform="translate(382.7 559.3) scale(1.13 1)" font-size="11.6" text-anchor="end">0.9</text>
<line x1="385.2" y1="573.6" x2="387.4" y2="573.6" stroke="#333" stroke-width="0.9"/>
<text transform="translate(382.7 577.6) scale(1.13 1)" font-size="11.6" text-anchor="end">0.8</text>
<line x1="385.2" y1="591.7" x2="387.4" y2="591.7" stroke="#333" stroke-width="0.9"/>
<text transform="translate(382.7 595.8) scale(1.13 1)" font-size="11.6" text-anchor="end">0.7</text>
<line x1="385.2" y1="609.9" x2="387.4" y2="609.9" stroke="#333" stroke-width="0.9"/>
<text transform="translate(382.7 613.9) scale(1.13 1)" font-size="11.6" text-anchor="end">0.6</text>
<line x1="385.2" y1="628.4" x2="387.4" y2="628.4" stroke="#333" stroke-width="0.9"/>
<text transform="translate(382.7 632.4) scale(1.13 1)" font-size="11.6" text-anchor="end">0.5</text>
<line x1="415.4" y1="647.5" x2="415.4" y2="645.3" stroke="#333" stroke-width="0.9"/>
<text transform="translate(415.4 658) scale(1.13 1)" font-size="11.6" text-anchor="middle">0</text>
<line x1="446" y1="647.5" x2="446" y2="645.3" stroke="#333" stroke-width="0.9"/>
<text transform="translate(446 658) scale(1.13 1)" font-size="11.6" text-anchor="middle">0.2</text>
<line x1="476.9" y1="647.5" x2="476.9" y2="645.3" stroke="#333" stroke-width="0.9"/>
<text transform="translate(476.9 658) scale(1.13 1)" font-size="11.6" text-anchor="middle">0.4</text>
<text x="386" y="522.8" font-size="10">p=0.0049</text>
<rect x="401.6" y="527.3" width="9.5" height="2" fill="#eb9641"/>
<text x="441.8" y="522.3" font-size="10">p=0.0009</text>
<rect x="431.2" y="524.8" width="69.1" height="6.8" fill="#eb9641"/>
<text x="607.5" y="503.2" font-size="19.3" text-anchor="middle" font-weight="bold">PAR</text>
<clipPath id="c12"><rect x="557" y="472.9" width="115.3" height="174.6"/></clipPath>
<g clip-path="url(#c12)">
<polygon points="557,609.1 558.5,609 560.5,608.8 563,608.5 565.6,608.3 568.3,608 570.8,607.8 573.3,607.6 575.8,607.3 578.4,607 581,606.7 583.5,606.6 585.9,606.6 588.2,606.9 590.4,607.4 592.6,608 594.7,608.6 596.6,609 598.4,609.1 600,609 601.3,608.7 602.5,608.3 603.7,607.6 604.8,606.7 606,605.3 607.3,603.4 608.5,601 609.8,598.3 611,595.5 612.3,592.8 613.5,590.3 614.7,588 616,585.7 617.2,583.5 618.5,581.4 619.7,579.5 621,577.7 622.3,576.1 623.5,574.7 624.8,573.4 626.1,572.2 627.3,571.2 628.6,570.2 629.9,569.4 631.2,568.8 632.4,568.2 633.7,567.7 634.9,567.1 636.1,566.4 637.2,565.5 638.3,564.3 639.3,563.2 640.3,562 641.4,561 642.4,560.1 643.4,559.4 644.5,558.8 645.5,558.2 646.6,557.8 647.6,557.6 648.7,557.6 649.8,557.8 650.8,558.3 651.9,559 652.9,559.7 654,560.6 655,561.4 656,562.3 656.9,563.4 657.8,564.5 658.8,565.6 659.9,566.7 661.2,567.6 662.8,568.4 664.8,569.2 666.9,569.9 668.9,570.5 670.6,571 671.8,571.4 671.8,606.6 670.9,606.1 669.7,605.5 668.3,604.7 666.7,603.8 665.2,602.8 663.8,601.6 662.5,600.2 661.2,598.4 659.9,596.5 658.6,594.7 657.4,592.9 656.2,591.5 655.1,590.3 654,589.2 653,588.2 651.9,587.4 650.9,586.8 649.9,586.5 648.9,586.4 647.9,586.6 646.9,587 645.9,587.5 644.8,588.2 643.7,589 642.5,590 641.3,591.3 640,592.8 638.7,594.2 637.4,595.5 636.1,596.5 634.8,597.2 633.6,597.6 632.4,597.8 631.1,598.1 629.9,598.4 628.6,599 627.3,599.8 626.1,600.6 624.8,601.5 623.5,602.6 622.3,603.8 621,605.3 619.7,607 618.5,608.9 617.2,611 616,613.2 614.7,615.5 613.5,617.9 612.3,620.5 611,623.4 609.8,626.4 608.5,629.3 607.3,631.9 606,634.2 604.8,636.1 603.7,637.8 602.5,639.2 601.3,640.3 600,641.2 598.4,641.8 596.6,641.9 594.7,641.5 592.6,640.9 590.4,640.2 588.2,639.5 585.9,639.2 583.5,639.2 581,639.4 578.4,639.8 575.8,640.1 573.3,640.4 570.8,640.5 568.3,640.4 565.6,640.2 563,639.9 560.5,639.6 558.5,639.4 557,639.2" fill="#e8963c" fill-opacity="0.27"/>
<polyline points="557,609.1 558.5,609 560.5,608.8 563,608.5 565.6,608.3 568.3,608 570.8,607.8 573.3,607.6 575.8,607.3 578.4,607 581,606.7 583.5,606.6 585.9,606.6 588.2,606.9 590.4,607.4 592.6,608 594.7,608.6 596.6,609 598.4,609.1 600,609 601.3,608.7 602.5,608.3 603.7,607.6 604.8,606.7 606,605.3 607.3,603.4 608.5,601 609.8,598.3 611,595.5 612.3,592.8 613.5,590.3 614.7,588 616,585.7 617.2,583.5 618.5,581.4 619.7,579.5 621,577.7 622.3,576.1 623.5,574.7 624.8,573.4 626.1,572.2 627.3,571.2 628.6,570.2 629.9,569.4 631.2,568.8 632.4,568.2 633.7,567.7 634.9,567.1 636.1,566.4 637.2,565.5 638.3,564.3 639.3,563.2 640.3,562 641.4,561 642.4,560.1 643.4,559.4 644.5,558.8 645.5,558.2 646.6,557.8 647.6,557.6 648.7,557.6 649.8,557.8 650.8,558.3 651.9,559 652.9,559.7 654,560.6 655,561.4 656,562.3 656.9,563.4 657.8,564.5 658.8,565.6 659.9,566.7 661.2,567.6 662.8,568.4 664.8,569.2 666.9,569.9 668.9,570.5 670.6,571 671.8,571.4" fill="none" stroke="#dba560" stroke-opacity="0.55" stroke-width="0.7"/>
<polyline points="557,639.2 558.5,639.4 560.5,639.6 563,639.9 565.6,640.2 568.3,640.4 570.8,640.5 573.3,640.4 575.8,640.1 578.4,639.8 581,639.4 583.5,639.2 585.9,639.2 588.2,639.5 590.4,640.2 592.6,640.9 594.7,641.5 596.6,641.9 598.4,641.8 600,641.2 601.3,640.3 602.5,639.2 603.7,637.8 604.8,636.1 606,634.2 607.3,631.9 608.5,629.3 609.8,626.4 611,623.4 612.3,620.5 613.5,617.9 614.7,615.5 616,613.2 617.2,611 618.5,608.9 619.7,607 621,605.3 622.3,603.8 623.5,602.6 624.8,601.5 626.1,600.6 627.3,599.8 628.6,599 629.9,598.4 631.1,598.1 632.4,597.8 633.6,597.6 634.8,597.2 636.1,596.5 637.4,595.5 638.7,594.2 640,592.8 641.3,591.3 642.5,590 643.7,589 644.8,588.2 645.9,587.5 646.9,587 647.9,586.6 648.9,586.4 649.9,586.5 650.9,586.8 651.9,587.4 653,588.2 654,589.2 655.1,590.3 656.2,591.5 657.4,592.9 658.6,594.7 659.9,596.5 661.2,598.4 662.5,600.2 663.8,601.6 665.2,602.8 666.7,603.8 668.3,604.7 669.7,605.5 670.9,606.1 671.8,606.6" fill="none" stroke="#dba560" stroke-opacity="0.55" stroke-width="0.7"/>
<polyline points="584.6,622.4 601,625.4" fill="none" stroke="#e8963c" stroke-width="1"/>
<rect x="583.5" y="621.3" width="2.2" height="2.2" fill="#e8963c" transform="rotate(45 584.6 622.4)"/>
<polyline points="611,611.6 616.5,602.3" fill="none" stroke="#e8963c" stroke-width="1"/>
<rect x="615.4" y="600.7" width="2.2" height="2.2" fill="#e8963c" transform="rotate(45 616.5 601.8)"/>
<polyline points="628.6,588.2 638.6,581.5" fill="none" stroke="#e8963c" stroke-width="1"/>
<rect x="627.5" y="587.1" width="2.2" height="2.2" fill="#e8963c" transform="rotate(45 628.6 588.2)"/>
<rect x="637.5" y="580.4" width="2.2" height="2.2" fill="#e8963c" transform="rotate(45 638.6 581.5)"/>
<polyline points="651.2,572.7 663,583.2" fill="none" stroke="#e8963c" stroke-width="1"/>
<rect x="645.8" y="571.1" width="2.2" height="2.2" fill="#e8963c" transform="rotate(45 646.9 572.2)"/>
<rect x="661.9" y="582.1" width="2.2" height="2.2" fill="#e8963c" transform="rotate(45 663 583.2)"/>
<polygon points="557,608.3 558.5,608.2 560.5,607.9 563,607.7 565.6,607.5 568.3,607.3 570.8,607.3 573.3,607.4 575.8,607.7 578.4,608.1 581,608.4 583.5,608.8 585.9,609.1 588.1,609.4 590.2,609.6 592.1,609.9 594.1,610.1 596.2,610.2 598.4,610.3 600.8,610.3 603.4,610.2 606.1,610 608.7,609.7 611.2,609.4 613.5,609.1 615.4,608.7 617.1,608.1 618.6,607.5 620.1,606.9 621.7,606.3 623.6,605.8 625.8,605.4 628.2,605 630.8,604.6 633.4,604.4 636,604.2 638.6,604.1 641.2,604.2 643.8,604.4 646.5,604.8 649,605.2 651.5,605.5 653.7,605.8 655.7,606 657.5,606.2 659.2,606.4 660.8,606.5 662.3,606.6 663.8,606.6 665.3,606.6 666.9,606.4 668.4,606.2 669.8,606.1 671,605.9 671.8,605.8 671.8,644.3 670.9,643.9 669.7,643.3 668.3,642.6 666.7,641.9 665.2,641.2 663.8,640.5 662.6,639.8 661.4,639.1 660.3,638.4 659.1,637.8 657.7,637.2 656.2,636.7 654.4,636.3 652.4,636.1 650.3,635.9 648.1,635.7 645.8,635.6 643.7,635.5 641.6,635.4 639.5,635.3 637.4,635.2 635.3,635.2 633.2,635.3 631.1,635.5 629,635.9 626.8,636.4 624.6,637 622.5,637.7 620.4,638.5 618.5,639.2 616.7,640 615.1,640.8 613.5,641.7 611.9,642.6 610.3,643.5 608.5,644.3 606.5,645.3 604.4,646.4 602.2,647.5 600,648.4 597.9,649 595.9,649 594.1,648.3 592.6,647 591.1,645.3 589.5,643.5 587.8,641.8 585.9,640.5 583.7,639.6 581.2,638.7 578.6,638.1 575.9,637.5 573.3,637.1 570.8,636.7 568.3,636.5 565.6,636.4 563,636.5 560.5,636.6 558.5,636.7 557,636.7" fill="#0072bd" fill-opacity="0.3"/>
<polyline points="557,608.3 558.5,608.2 560.5,607.9 563,607.7 565.6,607.5 568.3,607.3 570.8,607.3 573.3,607.4 575.8,607.7 578.4,608.1 581,608.4 583.5,608.8 585.9,609.1 588.1,609.4 590.2,609.6 592.1,609.9 594.1,610.1 596.2,610.2 598.4,610.3 600.8,610.3 603.4,610.2 606.1,610 608.7,609.7 611.2,609.4 613.5,609.1 615.4,608.7 617.1,608.1 618.6,607.5 620.1,606.9 621.7,606.3 623.6,605.8 625.8,605.4 628.2,605 630.8,604.6 633.4,604.4 636,604.2 638.6,604.1 641.2,604.2 643.8,604.4 646.5,604.8 649,605.2 651.5,605.5 653.7,605.8 655.7,606 657.5,606.2 659.2,606.4 660.8,606.5 662.3,606.6 663.8,606.6 665.3,606.6 666.9,606.4 668.4,606.2 669.8,606.1 671,605.9 671.8,605.8" fill="none" stroke="#5b8fb0" stroke-opacity="0.55" stroke-width="0.7"/>
<polyline points="557,636.7 558.5,636.7 560.5,636.6 563,636.5 565.6,636.4 568.3,636.5 570.8,636.7 573.3,637.1 575.9,637.5 578.6,638.1 581.2,638.7 583.7,639.6 585.9,640.5 587.8,641.8 589.5,643.5 591.1,645.3 592.6,647 594.1,648.3 595.9,649 597.9,649 600,648.4 602.2,647.5 604.4,646.4 606.5,645.3 608.5,644.3 610.3,643.5 611.9,642.6 613.5,641.7 615.1,640.8 616.7,640 618.5,639.2 620.4,638.5 622.5,637.7 624.6,637 626.8,636.4 629,635.9 631.1,635.5 633.2,635.3 635.3,635.2 637.4,635.2 639.5,635.3 641.6,635.4 643.7,635.5 645.8,635.6 648.1,635.7 650.3,635.9 652.4,636.1 654.4,636.3 656.2,636.7 657.7,637.2 659.1,637.8 660.3,638.4 661.4,639.1 662.6,639.8 663.8,640.5 665.2,641.2 666.7,641.9 668.3,642.6 669.7,643.3 670.9,643.9 671.8,644.3" fill="none" stroke="#5b8fb0" stroke-opacity="0.55" stroke-width="0.7"/>
<polyline points="557,624.2 570,623" fill="none" stroke="#3873ad" stroke-width="1"/>
<rect x="568.9" y="621.9" width="2.2" height="2.2" fill="#3873ad" transform="rotate(45 570 623)"/>
<polyline points="587,626.5 588.3,627.2 590.1,628.2 592.2,629.2 594,630 595.7,630.6 597.4,631 598.9,631.3 600,631.5" fill="none" stroke="#3873ad" stroke-width="1"/>
<rect x="598.9" y="630.4" width="2.2" height="2.2" fill="#3873ad" transform="rotate(45 600 631.5)"/>
<polyline points="615,626.5 616.2,625.9 618,625 620,624.1 622,623.5 624.1,623.2 626.4,623.1 628.5,623 630,623" fill="none" stroke="#3873ad" stroke-width="1"/>
<rect x="630.4" y="618.9" width="2.2" height="2.2" fill="#3873ad" transform="rotate(45 631.5 620)"/>
<polyline points="641,619.6 650,620.5" fill="none" stroke="#3873ad" stroke-width="1"/>
<rect x="646.4" y="618.9" width="2.2" height="2.2" fill="#3873ad" transform="rotate(45 647.5 620)"/>
<polyline points="664,625.4 671.8,625.4" fill="none" stroke="#3873ad" stroke-width="1"/>
<rect x="661.4" y="620.9" width="2.2" height="2.2" fill="#3873ad" transform="rotate(45 662.5 622)"/>
<polygon points="557,612.9 558.5,612.7 560.5,612.5 563,612.2 565.6,611.9 568.3,611.7 570.8,611.6 573.3,611.6 575.8,611.8 578.4,611.9 581,612.2 583.5,612.5 585.9,612.9 588.2,613.5 590.3,614.3 592.5,615.1 594.5,615.9 596.5,616.5 598.4,616.6 600.2,616.3 601.9,615.7 603.6,614.9 605.2,613.9 606.9,612.8 608.5,611.6 610.2,610.2 611.9,608.5 613.7,606.7 615.3,605 617,603.7 618.5,602.8 619.8,602.6 621,602.8 622.1,603.3 623.3,604 624.6,604.8 626.1,605.3 627.9,605.8 629.8,606.2 631.9,606.7 634.1,607.2 636.3,607.6 638.6,607.8 641,607.9 643.6,607.9 646.3,607.7 648.9,607.6 651.4,607.4 653.7,607.3 655.7,607.2 657.5,607.1 659.2,607.1 660.8,607 662.3,606.8 663.8,606.6 665.3,606.3 666.9,605.8 668.4,605.3 669.8,604.8 671,604.4 671.8,604.1 671.8,644.3 670.9,644 669.7,643.6 668.3,643.1 666.7,642.6 665.2,642.2 663.8,641.8 662.5,641.4 661.2,641 660,640.7 658.7,640.4 657.5,640.3 656.2,640.5 655,641.1 653.8,642.1 652.6,643.2 651.4,644.3 650.1,645.2 648.7,645.5 647.1,645.2 645.4,644.6 643.7,643.6 641.9,642.5 640.2,641.4 638.6,640.5 637.3,639.6 636.1,638.6 635,637.6 633.9,636.7 632.6,636 631.1,635.5 629.3,635.4 627.2,635.5 625,635.8 622.7,636.2 620.5,636.5 618.5,636.7 616.7,636.7 615,636.7 613.3,636.6 611.7,636.6 610.1,636.6 608.5,636.7 606.9,637 605.2,637.3 603.6,637.8 601.9,638.3 600.2,638.7 598.4,639.2 596.5,639.7 594.5,640.3 592.5,640.8 590.3,641.3 588.2,641.7 585.9,641.8 583.5,641.6 581,641.2 578.4,640.6 575.8,640 573.3,639.5 570.8,639.2 568.3,639.2 565.6,639.4 563,639.7 560.5,640 558.5,640.3 557,640.5" fill="#4f8a3a" fill-opacity="0.3"/>
<polyline points="557,612.9 558.5,612.7 560.5,612.5 563,612.2 565.6,611.9 568.3,611.7 570.8,611.6 573.3,611.6 575.8,611.8 578.4,611.9 581,612.2 583.5,612.5 585.9,612.9 588.2,613.5 590.3,614.3 592.5,615.1 594.5,615.9 596.5,616.5 598.4,616.6 600.2,616.3 601.9,615.7 603.6,614.9 605.2,613.9 606.9,612.8 608.5,611.6 610.2,610.2 611.9,608.5 613.7,606.7 615.3,605 617,603.7 618.5,602.8 619.8,602.6 621,602.8 622.1,603.3 623.3,604 624.6,604.8 626.1,605.3 627.9,605.8 629.8,606.2 631.9,606.7 634.1,607.2 636.3,607.6 638.6,607.8 641,607.9 643.6,607.9 646.3,607.7 648.9,607.6 651.4,607.4 653.7,607.3 655.7,607.2 657.5,607.1 659.2,607.1 660.8,607 662.3,606.8 663.8,606.6 665.3,606.3 666.9,605.8 668.4,605.3 669.8,604.8 671,604.4 671.8,604.1" fill="none" stroke="#5f8f4f" stroke-opacity="0.55" stroke-width="0.7"/>
<polyline points="557,640.5 558.5,640.3 560.5,640 563,639.7 565.6,639.4 568.3,639.2 570.8,639.2 573.3,639.5 575.8,640 578.4,640.6 581,641.2 583.5,641.6 585.9,641.8 588.2,641.7 590.3,641.3 592.5,640.8 594.5,640.3 596.5,639.7 598.4,639.2 600.2,638.7 601.9,638.3 603.6,637.8 605.2,637.3 606.9,637 608.5,636.7 610.1,636.6 611.7,636.6 613.3,636.6 615,636.7 616.7,636.7 618.5,636.7 620.5,636.5 622.7,636.2 625,635.8 627.2,635.5 629.3,635.4 631.1,635.5 632.6,636 633.9,636.7 635,637.6 636.1,638.6 637.3,639.6 638.6,640.5 640.2,641.4 641.9,642.5 643.7,643.6 645.4,644.6 647.1,645.2 648.7,645.5 650.1,645.2 651.4,644.3 652.6,643.2 653.8,642.1 655,641.1 656.2,640.5 657.5,640.3 658.7,640.4 660,640.7 661.2,641 662.5,641.4 663.8,641.8 665.2,642.2 666.7,642.6 668.3,643.1 669.7,643.6 670.9,644 671.8,644.3" fill="none" stroke="#5f8f4f" stroke-opacity="0.55" stroke-width="0.7"/>
<polyline points="557,626.5 570,628" fill="none" stroke="#478535" stroke-width="1"/>
<rect x="568.9" y="626.9" width="2.2" height="2.2" fill="#478535" transform="rotate(45 570 628)"/>
<polyline points="585,627.5 600,625.8" fill="none" stroke="#478535" stroke-width="1"/>
<rect x="583.9" y="626.4" width="2.2" height="2.2" fill="#478535" transform="rotate(45 585 627.5)"/>
<rect x="598.9" y="624.7" width="2.2" height="2.2" fill="#478535" transform="rotate(45 600 625.8)"/>
<polyline points="616,621.5 617.7,621.2 620.2,620.9 622.8,620.6 625,620.5 626.6,620.8 628.1,621.4 629.2,622.1 630,622.5" fill="none" stroke="#478535" stroke-width="1"/>
<rect x="614.9" y="620.4" width="2.2" height="2.2" fill="#478535" transform="rotate(45 616 621.5)"/>
<polyline points="644,629.5 645.5,629.3 647.6,628.9 650,628.5 652,628 653.8,627.3 655.5,626.4 657,625.6 658,625" fill="none" stroke="#478535" stroke-width="1"/>
<rect x="642.9" y="628.4" width="2.2" height="2.2" fill="#478535" transform="rotate(45 644 629.5)"/>
<rect x="661.4" y="623.4" width="2.2" height="2.2" fill="#478535" transform="rotate(45 662.5 624.5)"/>
<line x1="557" y1="625.5" x2="571" y2="625.5" stroke="#8a8a8a" stroke-width="1"/>
<line x1="587.6" y1="625.5" x2="601" y2="625.5" stroke="#8a8a8a" stroke-width="1"/>
<line x1="618.5" y1="625.5" x2="632" y2="625.5" stroke="#8a8a8a" stroke-width="1"/>
<line x1="648.7" y1="625.5" x2="663" y2="625.5" stroke="#8a8a8a" stroke-width="1"/>
</g>
<path d="M557 532.9V647.5H671.8" fill="none" stroke="#333" stroke-width="1.2"/>
<line x1="557" y1="538.4" x2="559.2" y2="538.4" stroke="#333" stroke-width="0.9"/>
<text transform="translate(554.5 542.4) scale(1.13 1)" font-size="11.6" text-anchor="end">0.8</text>
<line x1="557" y1="553.4" x2="559.2" y2="553.4" stroke="#333" stroke-width="0.9"/>
<text transform="translate(554.5 557.4) scale(1.13 1)" font-size="11.6" text-anchor="end">0.75</text>
<line x1="557" y1="567.8" x2="559.2" y2="567.8" stroke="#333" stroke-width="0.9"/>
<text transform="translate(554.5 571.8) scale(1.13 1)" font-size="11.6" text-anchor="end">0.7</text>
<line x1="557" y1="582.2" x2="559.2" y2="582.2" stroke="#333" stroke-width="0.9"/>
<text transform="translate(554.5 586.2) scale(1.13 1)" font-size="11.6" text-anchor="end">0.65</text>
<line x1="557" y1="596.6" x2="559.2" y2="596.6" stroke="#333" stroke-width="0.9"/>
<text transform="translate(554.5 600.6) scale(1.13 1)" font-size="11.6" text-anchor="end">0.6</text>
<line x1="557" y1="611" x2="559.2" y2="611" stroke="#333" stroke-width="0.9"/>
<text transform="translate(554.5 615) scale(1.13 1)" font-size="11.6" text-anchor="end">0.55</text>
<line x1="557" y1="625.4" x2="559.2" y2="625.4" stroke="#333" stroke-width="0.9"/>
<text transform="translate(554.5 629.4) scale(1.13 1)" font-size="11.6" text-anchor="end">0.5</text>
<line x1="557" y1="640.5" x2="559.2" y2="640.5" stroke="#333" stroke-width="0.9"/>
<text transform="translate(554.5 644.5) scale(1.13 1)" font-size="11.6" text-anchor="end">0.45</text>
<line x1="587.6" y1="647.5" x2="587.6" y2="645.3" stroke="#333" stroke-width="0.9"/>
<text transform="translate(587.6 658) scale(1.13 1)" font-size="11.6" text-anchor="middle">0</text>
<line x1="618.5" y1="647.5" x2="618.5" y2="645.3" stroke="#333" stroke-width="0.9"/>
<text transform="translate(618.5 658) scale(1.13 1)" font-size="11.6" text-anchor="middle">0.2</text>
<line x1="648.7" y1="647.5" x2="648.7" y2="645.3" stroke="#333" stroke-width="0.9"/>
<text transform="translate(648.7 658) scale(1.13 1)" font-size="11.6" text-anchor="middle">0.4</text>
<text x="621.5" y="525.8" font-size="10">p=0.0009</text>
<rect x="608.5" y="528.3" width="63.3" height="7.1" fill="#eb9641"/>
<text x="2" y="702.1" font-size="14" font-weight="bold">g</text>
<text x="23.4" y="703.4" font-size="13.15">Response direction is encoded in all regions</text>
<line x1="302.2" y1="719.4" x2="319.7" y2="719.4" stroke="#6f9a50" stroke-width="1" stroke-dasharray="4 3"/>
<line x1="302.2" y1="730.3" x2="319.7" y2="730.3" stroke="#eca25c" stroke-width="1" stroke-dasharray="4 3"/>
<text x="325" y="722.9" font-size="12">Train C1, Test C1</text>
<text x="325" y="734.4" font-size="12">Train S1, Test S1</text>
<text x="109.8" y="733.3" font-size="19.3" text-anchor="middle" font-weight="bold">Striatum</text>
<clipPath id="c13"><rect x="54" y="687.3" width="115.3" height="175.2"/></clipPath>
<g clip-path="url(#c13)">
<polygon points="54,824 54.9,824.3 56.2,824.7 57.8,825.2 59.4,825.8 61.2,826.2 62.8,826.5 64.4,826.7 66.2,826.9 67.9,827 69.7,827 71.4,826.8 72.9,826.5 74.3,825.9 75.5,825.2 76.7,824.2 77.8,823.3 79,822.3 80.4,821.5 81.9,820.8 83.6,820.1 85.3,819.4 87,818.8 88.8,818.2 90.5,817.7 92.2,817.2 93.8,816.8 95.5,816.4 97.2,816.1 98.8,815.7 100.5,815.2 102.2,814.7 103.9,814.1 105.5,813.4 107.2,812.8 108.9,812.1 110.6,811.5 112.3,810.9 113.9,810.2 115.6,809.5 117.3,808.9 118.9,808.3 120.6,807.7 122.3,807.2 124,806.6 125.6,806.1 127.3,805.7 129,805.4 130.7,805.2 132.4,805.2 134,805.2 135.7,805.4 137.4,805.7 139,806 140.7,806.4 142.4,806.9 144.1,807.6 145.8,808.3 147.4,809 149.1,809.7 150.8,810.2 152.5,810.6 154.2,810.8 155.9,811 157.6,811.2 159.3,811.3 160.8,811.5 162.3,811.7 163.9,812 165.4,812.2 166.8,812.4 168,812.6 168.8,812.7 168.8,851.7 168,851.1 166.8,850.4 165.4,849.5 163.9,848.5 162.3,847.5 160.8,846.6 159.3,845.8 157.6,844.9 155.9,844.1 154.2,843.3 152.5,842.4 150.8,841.6 149.1,840.7 147.4,839.8 145.8,838.9 144.1,838 142.4,837.2 140.7,836.6 139,836.1 137.3,835.7 135.5,835.4 133.9,835.2 132.2,835.2 130.7,835.3 129.3,835.6 128.1,836.1 126.9,836.7 125.7,837.5 124.5,838.3 123.1,839.1 121.6,840 119.9,841 118.2,842.1 116.5,843.2 114.7,844.3 113,845.4 111.3,846.5 109.7,847.8 108,849 106.3,850.2 104.7,851.1 103,851.7 101.3,851.9 99.7,851.6 98,851.2 96.3,850.7 94.7,850.4 93,850.4 91.3,850.7 89.6,851.3 88,852 86.3,852.8 84.6,853.5 82.9,854.2 81.2,854.9 79.6,855.6 77.9,856.3 76.2,856.9 74.6,857.5 72.9,857.9 71.2,858.1 69.5,858.3 67.8,858.3 66.1,858.2 64.4,858.1 62.8,857.9 61.2,857.6 59.4,857.2 57.8,856.6 56.2,856.1 54.9,855.7 54,855.4" fill="#e8963c" fill-opacity="0.27"/>
<polyline points="54,824 54.9,824.3 56.2,824.7 57.8,825.2 59.4,825.8 61.2,826.2 62.8,826.5 64.4,826.7 66.2,826.9 67.9,827 69.7,827 71.4,826.8 72.9,826.5 74.3,825.9 75.5,825.2 76.7,824.2 77.8,823.3 79,822.3 80.4,821.5 81.9,820.8 83.6,820.1 85.3,819.4 87,818.8 88.8,818.2 90.5,817.7 92.2,817.2 93.8,816.8 95.5,816.4 97.2,816.1 98.8,815.7 100.5,815.2 102.2,814.7 103.9,814.1 105.5,813.4 107.2,812.8 108.9,812.1 110.6,811.5 112.3,810.9 113.9,810.2 115.6,809.5 117.3,808.9 118.9,808.3 120.6,807.7 122.3,807.2 124,806.6 125.6,806.1 127.3,805.7 129,805.4 130.7,805.2 132.4,805.2 134,805.2 135.7,805.4 137.4,805.7 139,806 140.7,806.4 142.4,806.9 144.1,807.6 145.8,808.3 147.4,809 149.1,809.7 150.8,810.2 152.5,810.6 154.2,810.8 155.9,811 157.6,811.2 159.3,811.3 160.8,811.5 162.3,811.7 163.9,812 165.4,812.2 166.8,812.4 168,812.6 168.8,812.7" fill="none" stroke="#dba560" stroke-opacity="0.55" stroke-width="0.7"/>
<polyline points="54,855.4 54.9,855.7 56.2,856.1 57.8,856.6 59.4,857.2 61.2,857.6 62.8,857.9 64.4,858.1 66.1,858.2 67.8,858.3 69.5,858.3 71.2,858.1 72.9,857.9 74.6,857.5 76.2,856.9 77.9,856.3 79.6,855.6 81.2,854.9 82.9,854.2 84.6,853.5 86.3,852.8 88,852 89.6,851.3 91.3,850.7 93,850.4 94.7,850.4 96.3,850.7 98,851.2 99.7,851.6 101.3,851.9 103,851.7 104.7,851.1 106.3,850.2 108,849 109.7,847.8 111.3,846.5 113,845.4 114.7,844.3 116.5,843.2 118.2,842.1 119.9,841 121.6,840 123.1,839.1 124.5,838.3 125.7,837.5 126.9,836.7 128.1,836.1 129.3,835.6 130.7,835.3 132.2,835.2 133.9,835.2 135.5,835.4 137.3,835.7 139,836.1 140.7,836.6 142.4,837.2 144.1,838 145.8,838.9 147.4,839.8 149.1,840.7 150.8,841.6 152.5,842.4 154.2,843.3 155.9,844.1 157.6,844.9 159.3,845.8 160.8,846.6 162.3,847.5 163.9,848.5 165.4,849.5 166.8,850.4 168,851.1 168.8,851.7" fill="none" stroke="#dba560" stroke-opacity="0.55" stroke-width="0.7"/>
<polyline points="54,839.8 54.9,840 56.2,840.3 57.8,840.7 59.4,841.1 61.2,841.4 62.8,841.6 64.4,841.7 66.1,841.9 67.8,842 69.5,841.9 71.2,841.8 72.9,841.6 74.6,841.2 76.2,840.6 77.9,839.9 79.6,839.2 81.2,838.5 82.9,837.8 84.6,837.1 86.3,836.5 88,835.8 89.6,835.2 91.3,834.6 93,834.1 94.7,833.8 96.3,833.6 98,833.5 99.7,833.3 101.3,833.1 103,832.8 104.7,832.3 106.3,831.7 108,831 109.7,830.4 111.3,829.7 113,829 114.7,828.4 116.5,827.7 118.2,827.1 119.9,826.4 121.6,825.8 123.1,825.3 124.5,824.8 125.8,824.3 127.1,823.8 128.3,823.4 129.5,823 130.7,822.8 132,822.7 133.2,822.7 134.5,822.8 135.7,822.9 137,823.1 138.2,823.3 139.4,823.5 140.6,823.8 141.8,824.1 143,824.5 144.3,824.9 145.7,825.3 147.3,825.8 149,826.3 150.8,826.8 152.5,827.3 154.2,827.8 155.8,828.3 157.2,828.7 158.6,829.1 159.8,829.5 161,829.8 162.2,830.1 163.3,830.3 164.4,830.4 165.5,830.4 166.5,830.4 167.4,830.4 168.2,830.3 168.8,830.3" fill="none" stroke="#e8963c" stroke-width="1.1" stroke-dasharray="3.4 2.4"/>
<polygon points="54,822.8 54.9,823.1 56.2,823.4 57.8,823.8 59.4,824.3 61.2,824.8 62.8,825.3 64.4,825.9 66.1,826.5 67.8,827.2 69.5,827.9 71.2,828.5 72.9,829 74.6,829.4 76.2,829.7 77.9,829.9 79.6,830.1 81.2,830.2 82.9,830.3 84.6,830.4 86.3,830.5 88,830.6 89.6,830.6 91.3,830.5 93,830.3 94.7,829.9 96.3,829.5 98,828.9 99.7,828.2 101.3,827.4 103,826.5 104.7,825.5 106.3,824.4 108,823.1 109.7,821.8 111.3,820.4 113,819 114.7,817.4 116.5,815.7 118.2,813.9 119.9,812.1 121.6,810.4 123.1,808.9 124.5,807.6 125.8,806.3 127.1,805.2 128.3,804.2 129.5,803.3 130.7,802.7 132,802.3 133.2,802.1 134.5,802.1 135.7,802.2 137,802.4 138.2,802.7 139.4,803.1 140.6,803.7 141.8,804.3 143,805 144.3,805.7 145.7,806.4 147.3,807.1 149,807.8 150.8,808.6 152.5,809.3 154.2,809.9 155.8,810.2 157.2,810.3 158.6,810.2 159.8,809.9 161,809.6 162.2,809.2 163.3,808.9 164.4,808.5 165.5,808.1 166.5,807.6 167.4,807.1 168.2,806.7 168.8,806.4 168.8,849.1 168.2,848.7 167.4,848.1 166.5,847.5 165.5,846.8 164.4,846.1 163.3,845.4 162.2,844.8 161,844.2 159.8,843.6 158.6,843 157.2,842.3 155.8,841.6 154.2,840.8 152.5,840 150.8,839.1 149,838.2 147.3,837.4 145.7,836.6 144.3,835.8 143,835.1 141.8,834.3 140.6,833.6 139.4,833.1 138.2,832.8 137,832.7 135.7,832.7 134.5,832.8 133.2,833.1 132,833.5 130.7,834.1 129.5,834.8 128.3,835.7 127.1,836.8 125.8,837.9 124.5,839.2 123.1,840.4 121.6,841.8 119.9,843.3 118.2,844.8 116.5,846.4 114.7,847.8 113,849.1 111.3,850.2 109.7,851.2 108,852.1 106.3,852.9 104.7,853.6 103,854.2 101.3,854.6 99.7,854.7 98,854.8 96.3,854.9 94.7,855 93,855.4 91.3,856 89.6,856.9 88,857.8 86.3,858.8 84.6,859.7 82.9,860.5 81.2,861.2 79.6,862 77.9,862.7 76.2,863.3 74.6,863.8 72.9,864 71.2,864 69.5,863.8 67.8,863.4 66.1,862.9 64.4,862.3 62.8,861.7 61.2,861 59.4,860 57.8,859.1 56.2,858.1 54.9,857.3 54,856.7" fill="#4f8a3a" fill-opacity="0.27"/>
<polyline points="54,822.8 54.9,823.1 56.2,823.4 57.8,823.8 59.4,824.3 61.2,824.8 62.8,825.3 64.4,825.9 66.1,826.5 67.8,827.2 69.5,827.9 71.2,828.5 72.9,829 74.6,829.4 76.2,829.7 77.9,829.9 79.6,830.1 81.2,830.2 82.9,830.3 84.6,830.4 86.3,830.5 88,830.6 89.6,830.6 91.3,830.5 93,830.3 94.7,829.9 96.3,829.5 98,828.9 99.7,828.2 101.3,827.4 103,826.5 104.7,825.5 106.3,824.4 108,823.1 109.7,821.8 111.3,820.4 113,819 114.7,817.4 116.5,815.7 118.2,813.9 119.9,812.1 121.6,810.4 123.1,808.9 124.5,807.6 125.8,806.3 127.1,805.2 128.3,804.2 129.5,803.3 130.7,802.7 132,802.3 133.2,802.1 134.5,802.1 135.7,802.2 137,802.4 138.2,802.7 139.4,803.1 140.6,803.7 141.8,804.3 143,805 144.3,805.7 145.7,806.4 147.3,807.1 149,807.8 150.8,808.6 152.5,809.3 154.2,809.9 155.8,810.2 157.2,810.3 158.6,810.2 159.8,809.9 161,809.6 162.2,809.2 163.3,808.9 164.4,808.5 165.5,808.1 166.5,807.6 167.4,807.1 168.2,806.7 168.8,806.4" fill="none" stroke="#5f8f4f" stroke-opacity="0.55" stroke-width="0.7"/>
<polyline points="54,856.7 54.9,857.3 56.2,858.1 57.8,859.1 59.4,860 61.2,861 62.8,861.7 64.4,862.3 66.1,862.9 67.8,863.4 69.5,863.8 71.2,864 72.9,864 74.6,863.8 76.2,863.3 77.9,862.7 79.6,862 81.2,861.2 82.9,860.5 84.6,859.7 86.3,858.8 88,857.8 89.6,856.9 91.3,856 93,855.4 94.7,855 96.3,854.9 98,854.8 99.7,854.7 101.3,854.6 103,854.2 104.7,853.6 106.3,852.9 108,852.1 109.7,851.2 111.3,850.2 113,849.1 114.7,847.8 116.5,846.4 118.2,844.8 119.9,843.3 121.6,841.8 123.1,840.4 124.5,839.2 125.8,837.9 127.1,836.8 128.3,835.7 129.5,834.8 130.7,834.1 132,833.5 133.2,833.1 134.5,832.8 135.7,832.7 137,832.7 138.2,832.8 139.4,833.1 140.6,833.6 141.8,834.3 143,835.1 144.3,835.8 145.7,836.6 147.3,837.4 149,838.2 150.8,839.1 152.5,840 154.2,840.8 155.8,841.6 157.2,842.3 158.6,843 159.8,843.6 161,844.2 162.2,844.8 163.3,845.4 164.4,846.1 165.5,846.8 166.5,847.5 167.4,848.1 168.2,848.7 168.8,849.1" fill="none" stroke="#5f8f4f" stroke-opacity="0.55" stroke-width="0.7"/>
<polyline points="54,839.1 54.9,839.4 56.2,839.7 57.8,840.1 59.4,840.6 61.2,841.1 62.8,841.6 64.4,842.2 66.1,842.9 67.8,843.7 69.5,844.4 71.2,845 72.9,845.4 74.6,845.6 76.2,845.8 77.9,845.8 79.6,845.7 81.2,845.6 82.9,845.4 84.6,845.1 86.3,844.8 88,844.4 89.6,843.9 91.3,843.4 93,842.9 94.7,842.4 96.3,841.8 98,841.2 99.7,840.5 101.3,839.8 103,839.1 104.7,838.4 106.3,837.7 108,836.9 109.7,836.1 111.3,835.2 113,834.1 114.7,832.8 116.5,831.4 118.2,829.8 119.9,828.2 121.6,826.7 123.1,825.3 124.5,824 125.9,822.8 127.1,821.7 128.4,820.6 129.5,819.7 130.7,819 131.8,818.4 132.8,818 133.7,817.7 134.7,817.6 135.7,817.6 136.9,817.7 138.2,818 139.6,818.6 141.1,819.3 142.6,820 144.1,820.8 145.7,821.5 147.3,822.2 149.1,822.9 150.8,823.6 152.6,824.2 154.3,824.8 155.8,825.3 157.2,825.7 158.6,825.9 159.8,826.1 161,826.3 162.2,826.4 163.3,826.5 164.4,826.6 165.5,826.6 166.5,826.6 167.4,826.5 168.2,826.5 168.8,826.5" fill="none" stroke="#478535" stroke-width="1.1" stroke-dasharray="3.4 2.4"/>
<line x1="54" y1="841.5" x2="67.8" y2="841.5" stroke="#8a8a8a" stroke-width="1"/>
<line x1="84.2" y1="841.5" x2="99.2" y2="841.5" stroke="#8a8a8a" stroke-width="1"/>
<line x1="114.3" y1="841.5" x2="128.1" y2="841.5" stroke="#8a8a8a" stroke-width="1"/>
<line x1="144.5" y1="841.5" x2="159.5" y2="841.5" stroke="#8a8a8a" stroke-width="1"/>
</g>
<path d="M54 747.3V862.5H168.8" fill="none" stroke="#333" stroke-width="1.2"/>
<line x1="54" y1="750.9" x2="56.2" y2="750.9" stroke="#333" stroke-width="0.9"/>
<text transform="translate(53.2 754.9) scale(1.13 1)" font-size="11.6" text-anchor="end">0.8</text>
<line x1="54" y1="766" x2="56.2" y2="766" stroke="#333" stroke-width="0.9"/>
<text transform="translate(53.2 770) scale(1.13 1)" font-size="11.6" text-anchor="end">0.75</text>
<line x1="54" y1="781" x2="56.2" y2="781" stroke="#333" stroke-width="0.9"/>
<text transform="translate(53.2 785) scale(1.13 1)" font-size="11.6" text-anchor="end">0.7</text>
<line x1="54" y1="796" x2="56.2" y2="796" stroke="#333" stroke-width="0.9"/>
<text transform="translate(53.2 800) scale(1.13 1)" font-size="11.6" text-anchor="end">0.65</text>
<line x1="54" y1="811" x2="56.2" y2="811" stroke="#333" stroke-width="0.9"/>
<text transform="translate(53.2 815) scale(1.13 1)" font-size="11.6" text-anchor="end">0.6</text>
<line x1="54" y1="826" x2="56.2" y2="826" stroke="#333" stroke-width="0.9"/>
<text transform="translate(53.2 830) scale(1.13 1)" font-size="11.6" text-anchor="end">0.55</text>
<line x1="54" y1="841.1" x2="56.2" y2="841.1" stroke="#333" stroke-width="0.9"/>
<text transform="translate(53.2 845.1) scale(1.13 1)" font-size="11.6" text-anchor="end">0.5</text>
<line x1="54" y1="858.6" x2="56.2" y2="858.6" stroke="#333" stroke-width="0.9"/>
<text transform="translate(53.2 862.6) scale(1.13 1)" font-size="11.6" text-anchor="end">0.45</text>
<line x1="84.9" y1="862.5" x2="84.9" y2="860.3" stroke="#333" stroke-width="0.9"/>
<text transform="translate(84.9 873.5) scale(1.13 1)" font-size="11.6" text-anchor="middle">0</text>
<line x1="115.2" y1="862.5" x2="115.2" y2="860.3" stroke="#333" stroke-width="0.9"/>
<text transform="translate(115.2 873.5) scale(1.13 1)" font-size="11.6" text-anchor="middle">0.2</text>
<line x1="146.2" y1="862.5" x2="146.2" y2="860.3" stroke="#333" stroke-width="0.9"/>
<text transform="translate(146.2 873.5) scale(1.13 1)" font-size="11.6" text-anchor="middle">0.4</text>
<text x="76.1" y="774.2" font-size="10">p=0.0009</text>
<text x="76.1" y="783.5" font-size="10">p=0.0009</text>
<rect x="121.4" y="767.4" width="30.6" height="7.6" fill="#5a913c"/>
<rect x="126.1" y="777.5" width="24.2" height="6.3" fill="#eb9641"/>
<text x="22.1" y="804.5" font-size="13" text-anchor="middle" transform="rotate(-90 22.1 804.5)">Classifier accuracy</text>
<text x="275.9" y="731" font-size="19.3" text-anchor="middle" font-weight="bold">aIT</text>
<clipPath id="c14"><rect x="223.5" y="687.3" width="115.3" height="175.2"/></clipPath>
<g clip-path="url(#c14)">
<polygon points="223.5,834.1 224.7,834.3 226.4,834.5 228.4,834.8 230.5,835 232.7,835.2 234.8,835.3 236.8,835.2 238.9,835.1 241,834.9 243.2,834.6 245.3,834.3 247.4,834.1 249.5,833.9 251.6,833.7 253.7,833.5 255.7,833.2 257.8,833 259.9,832.8 262,832.6 264.1,832.4 266.2,832.3 268.3,832.1 270.4,831.9 272.5,831.6 274.6,831.3 276.7,831 278.7,830.6 280.8,830.2 282.9,829.7 285,829 287.1,828.2 289.3,827.2 291.4,826.1 293.6,825 295.6,823.9 297.6,822.8 299.4,821.8 301.2,820.8 302.8,819.8 304.4,818.8 306.1,817.7 307.7,816.5 309.4,815.1 311,813.6 312.7,812 314.4,810.4 316,809 317.7,807.7 319.4,806.7 321,805.8 322.7,805 324.4,804.3 326.1,803.6 327.8,802.7 329.6,801.7 331.7,800.5 333.7,799.2 335.6,798.1 337.2,797.1 338.3,796.4 338.3,831.6 337.2,831.7 335.6,831.7 333.7,831.8 331.7,832 329.6,832.3 327.8,832.8 326.1,833.5 324.4,834.5 322.7,835.6 321,836.7 319.4,837.9 317.7,839.1 316,840.3 314.4,841.5 312.7,842.8 311,844 309.4,845.3 307.7,846.6 306.1,847.9 304.4,849.2 302.8,850.6 301.2,851.9 299.4,853.1 297.6,854.2 295.6,855.2 293.6,856.1 291.4,856.9 289.3,857.6 287.1,858.4 285,859.2 283,860.1 281,861 279.1,861.9 277,862.7 274.9,863.4 272.5,864 269.9,864.4 267.1,864.7 264.1,864.9 261.1,865 258,865 255,865 251.9,864.9 248.6,864.8 245.4,864.6 242.2,864.3 239.4,863.9 237,863.5 235.2,862.9 233.8,862.2 232.7,861.4 231.7,860.6 230.8,859.8 229.8,859.2 228.6,858.7 227.4,858.1 226.2,857.7 225.1,857.3 224.2,857 223.5,856.7" fill="#e8963c" fill-opacity="0.27"/>
<polyline points="223.5,834.1 224.7,834.3 226.4,834.5 228.4,834.8 230.5,835 232.7,835.2 234.8,835.3 236.8,835.2 238.9,835.1 241,834.9 243.2,834.6 245.3,834.3 247.4,834.1 249.5,833.9 251.6,833.7 253.7,833.5 255.7,833.2 257.8,833 259.9,832.8 262,832.6 264.1,832.4 266.2,832.3 268.3,832.1 270.4,831.9 272.5,831.6 274.6,831.3 276.7,831 278.7,830.6 280.8,830.2 282.9,829.7 285,829 287.1,828.2 289.3,827.2 291.4,826.1 293.6,825 295.6,823.9 297.6,822.8 299.4,821.8 301.2,820.8 302.8,819.8 304.4,818.8 306.1,817.7 307.7,816.5 309.4,815.1 311,813.6 312.7,812 314.4,810.4 316,809 317.7,807.7 319.4,806.7 321,805.8 322.7,805 324.4,804.3 326.1,803.6 327.8,802.7 329.6,801.7 331.7,800.5 333.7,799.2 335.6,798.1 337.2,797.1 338.3,796.4" fill="none" stroke="#dba560" stroke-opacity="0.55" stroke-width="0.7"/>
<polyline points="223.5,856.7 224.2,857 225.1,857.3 226.2,857.7 227.4,858.1 228.6,858.7 229.8,859.2 230.8,859.8 231.7,860.6 232.7,861.4 233.8,862.2 235.2,862.9 237,863.5 239.4,863.9 242.2,864.3 245.4,864.6 248.6,864.8 251.9,864.9 255,865 258,865 261.1,865 264.1,864.9 267.1,864.7 269.9,864.4 272.5,864 274.9,863.4 277,862.7 279.1,861.9 281,861 283,860.1 285,859.2 287.1,858.4 289.3,857.6 291.4,856.9 293.6,856.1 295.6,855.2 297.6,854.2 299.4,853.1 301.2,851.9 302.8,850.6 304.4,849.2 306.1,847.9 307.7,846.6 309.4,845.3 311,844 312.7,842.8 314.4,841.5 316,840.3 317.7,839.1 319.4,837.9 321,836.7 322.7,835.6 324.4,834.5 326.1,833.5 327.8,832.8 329.6,832.3 331.7,832 333.7,831.8 335.6,831.7 337.2,831.7 338.3,831.6" fill="none" stroke="#dba560" stroke-opacity="0.55" stroke-width="0.7"/>
<polyline points="223.5,845.4 224.7,845.7 226.4,846.2 228.4,846.7 230.5,847.3 232.7,847.7 234.8,847.9 236.8,847.9 238.9,847.7 241,847.4 243.2,847.1 245.3,846.8 247.4,846.6 249.5,846.5 251.6,846.5 253.7,846.5 255.7,846.6 257.8,846.6 259.9,846.6 262,846.6 264.1,846.7 266.2,846.8 268.3,846.9 270.4,846.8 272.5,846.6 274.6,846.2 276.7,845.7 278.7,845.1 280.8,844.4 282.9,843.6 285,842.9 287.1,842.2 289.3,841.4 291.4,840.7 293.6,839.8 295.6,838.9 297.6,837.8 299.4,836.5 301.2,835.1 302.8,833.5 304.4,832 306.1,830.4 307.7,829 309.4,827.6 311,826.3 312.7,824.9 314.4,823.7 316,822.5 317.7,821.5 319.4,820.7 321,820 322.7,819.4 324.4,818.8 326.1,818.3 327.8,817.7 329.6,817 331.7,816.3 333.7,815.6 335.6,815 337.2,814.4 338.3,814" fill="none" stroke="#e8963c" stroke-width="1.1" stroke-dasharray="3.4 2.4"/>
<polygon points="223.5,821.5 224.7,821.9 226.4,822.4 228.4,823.1 230.5,823.8 232.7,824.6 234.8,825.3 236.8,826.1 238.9,827 241,827.9 243.2,828.8 245.3,829.6 247.4,830.3 249.5,830.9 251.6,831.4 253.7,831.9 255.7,832.2 257.8,832.6 259.9,832.8 262,833 264.1,833.1 266.2,833.1 268.3,833.1 270.4,833 272.5,832.8 274.6,832.6 276.7,832.2 278.7,831.9 280.8,831.4 282.9,830.9 285,830.3 287.1,829.6 289.3,828.9 291.4,828 293.6,827.2 295.6,826.2 297.6,825.3 299.4,824.3 301.2,823.3 302.8,822.2 304.4,821.1 306.1,820.1 307.7,819 309.4,817.9 311,816.8 312.7,815.7 314.4,814.6 316,813.6 317.7,812.7 319.4,811.9 321,811.2 322.7,810.6 324.4,810.1 326.1,809.5 327.8,808.9 329.6,808.2 331.7,807.5 333.7,806.8 335.6,806.2 337.2,805.6 338.3,805.2 338.3,840.4 337.2,839.9 335.6,839.2 333.7,838.4 331.7,837.6 329.6,837 327.8,836.6 326.1,836.5 324.4,836.4 322.7,836.6 321,836.8 319.4,837.2 317.7,837.8 316,838.5 314.4,839.4 312.7,840.5 311,841.6 309.4,842.8 307.7,844.1 306.1,845.5 304.4,846.9 302.8,848.5 301.2,850.1 299.4,851.5 297.6,852.9 295.6,854.1 293.6,855.3 291.4,856.4 289.3,857.5 287.1,858.4 285,859.2 282.9,859.9 280.8,860.4 278.7,860.8 276.7,861.2 274.6,861.5 272.5,861.7 270.4,861.9 268.3,862 266.2,862 264.1,862 262,861.9 259.9,861.7 257.8,861.4 255.7,861.1 253.7,860.7 251.6,860.2 249.5,859.7 247.4,859.2 245.3,858.6 243.2,858 241,857.3 238.9,856.6 236.8,856 234.8,855.4 232.7,854.9 230.5,854.4 228.4,853.9 226.4,853.5 224.7,853.2 223.5,852.9" fill="#4f8a3a" fill-opacity="0.27"/>
<polyline points="223.5,821.5 224.7,821.9 226.4,822.4 228.4,823.1 230.5,823.8 232.7,824.6 234.8,825.3 236.8,826.1 238.9,827 241,827.9 243.2,828.8 245.3,829.6 247.4,830.3 249.5,830.9 251.6,831.4 253.7,831.9 255.7,832.2 257.8,832.6 259.9,832.8 262,833 264.1,833.1 266.2,833.1 268.3,833.1 270.4,833 272.5,832.8 274.6,832.6 276.7,832.2 278.7,831.9 280.8,831.4 282.9,830.9 285,830.3 287.1,829.6 289.3,828.9 291.4,828 293.6,827.2 295.6,826.2 297.6,825.3 299.4,824.3 301.2,823.3 302.8,822.2 304.4,821.1 306.1,820.1 307.7,819 309.4,817.9 311,816.8 312.7,815.7 314.4,814.6 316,813.6 317.7,812.7 319.4,811.9 321,811.2 322.7,810.6 324.4,810.1 326.1,809.5 327.8,808.9 329.6,808.2 331.7,807.5 333.7,806.8 335.6,806.2 337.2,805.6 338.3,805.2" fill="none" stroke="#5f8f4f" stroke-opacity="0.55" stroke-width="0.7"/>
<polyline points="223.5,852.9 224.7,853.2 226.4,853.5 228.4,853.9 230.5,854.4 232.7,854.9 234.8,855.4 236.8,856 238.9,856.6 241,857.3 243.2,858 245.3,858.6 247.4,859.2 249.5,859.7 251.6,860.2 253.7,860.7 255.7,861.1 257.8,861.4 259.9,861.7 262,861.9 264.1,862 266.2,862 268.3,862 270.4,861.9 272.5,861.7 274.6,861.5 276.7,861.2 278.7,860.8 280.8,860.4 282.9,859.9 285,859.2 287.1,858.4 289.3,857.5 291.4,856.4 293.6,855.3 295.6,854.1 297.6,852.9 299.4,851.5 301.2,850.1 302.8,848.5 304.4,846.9 306.1,845.5 307.7,844.1 309.4,842.8 311,841.6 312.7,840.5 314.4,839.4 316,838.5 317.7,837.8 319.4,837.2 321,836.8 322.7,836.6 324.4,836.4 326.1,836.5 327.8,836.6 329.6,837 331.7,837.6 333.7,838.4 335.6,839.2 337.2,839.9 338.3,840.4" fill="none" stroke="#5f8f4f" stroke-opacity="0.55" stroke-width="0.7"/>
<polyline points="223.5,836.6 224.7,836.8 226.4,837.2 228.4,837.5 230.5,838 232.7,838.5 234.8,839.1 236.8,839.8 238.9,840.7 241,841.6 243.2,842.5 245.3,843.4 247.4,844.1 249.5,844.7 251.6,845.2 253.7,845.7 255.7,846 257.8,846.4 259.9,846.6 262,846.8 264.1,846.9 266.2,846.9 268.3,846.9 270.4,846.8 272.5,846.6 274.6,846.4 276.7,846 278.7,845.7 280.8,845.2 282.9,844.7 285,844.1 287.1,843.4 289.3,842.7 291.4,841.9 293.6,841 295.6,840.1 297.6,839.1 299.4,838 301.2,836.6 302.8,835.3 304.4,833.9 306.1,832.7 307.7,831.6 309.4,830.7 311,830 312.7,829.4 314.4,828.8 316,828.3 317.7,827.8 319.4,827.3 321,826.9 322.7,826.5 324.4,826.2 326.1,825.8 327.8,825.3 329.6,824.7 331.7,824 333.7,823.2 335.6,822.5 337.2,821.9 338.3,821.5" fill="none" stroke="#478535" stroke-width="1.1" stroke-dasharray="3.4 2.4"/>
<line x1="223.5" y1="846.5" x2="237.8" y2="846.5" stroke="#8a8a8a" stroke-width="1"/>
<line x1="253.7" y1="846.5" x2="268.7" y2="846.5" stroke="#8a8a8a" stroke-width="1"/>
<line x1="283.8" y1="846.5" x2="297.6" y2="846.5" stroke="#8a8a8a" stroke-width="1"/>
<line x1="314" y1="846.5" x2="328.3" y2="846.5" stroke="#8a8a8a" stroke-width="1"/>
</g>
<path d="M223.5 747.3V862.5H338.3" fill="none" stroke="#333" stroke-width="1.2"/>
<line x1="223.5" y1="750.4" x2="225.7" y2="750.4" stroke="#333" stroke-width="0.9"/>
<text transform="translate(221.5 754.4) scale(1.13 1)" font-size="11.6" text-anchor="end">0.9</text>
<line x1="223.5" y1="773.9" x2="225.7" y2="773.9" stroke="#333" stroke-width="0.9"/>
<text transform="translate(221.5 777.9) scale(1.13 1)" font-size="11.6" text-anchor="end">0.8</text>
<line x1="223.5" y1="797.4" x2="225.7" y2="797.4" stroke="#333" stroke-width="0.9"/>
<text transform="translate(221.5 801.4) scale(1.13 1)" font-size="11.6" text-anchor="end">0.7</text>
<line x1="223.5" y1="821.6" x2="225.7" y2="821.6" stroke="#333" stroke-width="0.9"/>
<text transform="translate(221.5 825.6) scale(1.13 1)" font-size="11.6" text-anchor="end">0.6</text>
<line x1="223.5" y1="845.9" x2="225.7" y2="845.9" stroke="#333" stroke-width="0.9"/>
<text transform="translate(221.5 849.9) scale(1.13 1)" font-size="11.6" text-anchor="end">0.5</text>
<line x1="253.7" y1="862.5" x2="253.7" y2="860.3" stroke="#333" stroke-width="0.9"/>
<text transform="translate(253.7 873.5) scale(1.13 1)" font-size="11.6" text-anchor="middle">0</text>
<line x1="283.5" y1="862.5" x2="283.5" y2="860.3" stroke="#333" stroke-width="0.9"/>
<text transform="translate(283.5 873.5) scale(1.13 1)" font-size="11.6" text-anchor="middle">0.2</text>
<line x1="314.7" y1="862.5" x2="314.7" y2="860.3" stroke="#333" stroke-width="0.9"/>
<text transform="translate(314.7 873.5) scale(1.13 1)" font-size="11.6" text-anchor="middle">0.4</text>
<text x="227.8" y="763.7" font-size="10">p=0.0019</text>
<rect x="224" y="768.4" width="7.8" height="3.3" fill="#5a913c"/>
<text x="259.9" y="773.5" font-size="10">p=0.0009</text>
<text x="259.9" y="783" font-size="10">p=0.0009</text>
<rect x="303.2" y="766.7" width="35.1" height="7" fill="#5a913c"/>
<rect x="303.2" y="776.2" width="35.1" height="6.8" fill="#eb9641"/>
<text x="290.4" y="897.2" font-size="13.15">Time, relative to stimulus onset (s)</text>
<text x="442" y="731.5" font-size="19.3" text-anchor="middle" font-weight="bold">FEF</text>
<clipPath id="c15"><rect x="386" y="688.3" width="116.1" height="175.2"/></clipPath>
<g clip-path="url(#c15)">
<polygon points="386,841.9 387.8,842 390.4,842.2 393.5,842.4 396.7,842.6 399.9,842.8 402.8,843 405.5,843.2 408.3,843.5 411,843.7 413.6,843.9 415.9,844 417.9,843.9 419.5,843.7 420.8,843.4 421.8,842.9 422.7,842.4 423.6,841.8 424.5,841 425.5,840.1 426.4,839.2 427.4,838.1 428.2,836.9 429.1,835.6 430,834 430.9,832.2 431.7,830.2 432.5,828.1 433.4,825.8 434.2,823.4 435,821 435.8,818.5 436.7,815.9 437.5,813.1 438.3,810.4 439.2,807.6 440,805 440.8,802.4 441.7,799.8 442.5,797.2 443.3,794.6 444.2,792.2 445,790 445.8,787.9 446.6,786 447.5,784.2 448.3,782.5 449.1,780.9 450,779.5 450.8,778.3 451.7,777.2 452.5,776.2 453.4,775.4 454.4,774.7 455.5,774 456.8,773.4 458.2,773 459.7,772.6 461.3,772.4 462.9,772.1 464.4,772 465.9,771.9 467.3,772 468.7,772.1 470.2,772.2 471.7,772.4 473.2,772.5 474.8,772.6 476.4,772.8 478.1,773 479.8,773.2 481.5,773.4 483.2,773.5 484.9,773.6 486.6,773.7 488.4,773.7 490.1,773.7 491.7,773.8 493.3,773.8 494.9,773.8 496.5,773.9 498.1,773.9 499.5,774 500.7,774 501.6,774 501.6,791.1 500.7,790.8 499.5,790.5 498.1,790.1 496.5,789.6 494.9,789.1 493.3,788.6 491.7,788.1 490.1,787.5 488.4,786.9 486.6,786.4 484.9,785.8 483.2,785.3 481.5,784.8 479.7,784.4 478,784 476.3,783.6 474.7,783.3 473.2,783 471.9,782.8 470.7,782.6 469.6,782.5 468.5,782.5 467.5,782.4 466.5,782.5 465.5,782.6 464.5,782.8 463.6,783 462.7,783.2 461.8,783.6 461,784 460.2,784.5 459.4,785 458.7,785.6 458,786.2 457.3,787 456.5,788 455.7,789.1 454.9,790.3 454,791.7 453.2,793.2 452.3,794.8 451.5,796.5 450.7,798.4 449.8,800.4 449,802.5 448.2,804.8 447.3,807.1 446.5,809.5 445.7,812 444.8,814.6 444,817.3 443.2,820 442.3,822.8 441.5,825.5 440.7,828.2 439.9,831 439.1,833.8 438.3,836.5 437.5,839.2 436.7,841.9 435.9,844.6 435,847.3 434.2,850 433.4,852.6 432.5,854.9 431.7,856.9 430.9,858.5 430.2,859.8 429.4,860.9 428.6,861.8 427.8,862.6 426.7,863.2 425.5,863.7 424.3,863.9 422.9,864 421.4,864 419.8,864 417.9,864 415.8,864 413.4,863.9 410.9,863.8 408.2,863.6 405.5,863.5 402.8,863.5 399.9,863.5 396.7,863.6 393.5,863.7 390.4,863.8 387.8,863.9 386,864" fill="#e8963c" fill-opacity="0.27"/>
<polyline points="386,841.9 387.8,842 390.4,842.2 393.5,842.4 396.7,842.6 399.9,842.8 402.8,843 405.5,843.2 408.3,843.5 411,843.7 413.6,843.9 415.9,844 417.9,843.9 419.5,843.7 420.8,843.4 421.8,842.9 422.7,842.4 423.6,841.8 424.5,841 425.5,840.1 426.4,839.2 427.4,838.1 428.2,836.9 429.1,835.6 430,834 430.9,832.2 431.7,830.2 432.5,828.1 433.4,825.8 434.2,823.4 435,821 435.8,818.5 436.7,815.9 437.5,813.1 438.3,810.4 439.2,807.6 440,805 440.8,802.4 441.7,799.8 442.5,797.2 443.3,794.6 444.2,792.2 445,790 445.8,787.9 446.6,786 447.5,784.2 448.3,782.5 449.1,780.9 450,779.5 450.8,778.3 451.7,777.2 452.5,776.2 453.4,775.4 454.4,774.7 455.5,774 456.8,773.4 458.2,773 459.7,772.6 461.3,772.4 462.9,772.1 464.4,772 465.9,771.9 467.3,772 468.7,772.1 470.2,772.2 471.7,772.4 473.2,772.5 474.8,772.6 476.4,772.8 478.1,773 479.8,773.2 481.5,773.4 483.2,773.5 484.9,773.6 486.6,773.7 488.4,773.7 490.1,773.7 491.7,773.8 493.3,773.8 494.9,773.8 496.5,773.9 498.1,773.9 499.5,774 500.7,774 501.6,774" fill="none" stroke="#dba560" stroke-opacity="0.55" stroke-width="0.7"/>
<polyline points="386,864 387.8,863.9 390.4,863.8 393.5,863.7 396.7,863.6 399.9,863.5 402.8,863.5 405.5,863.5 408.2,863.6 410.9,863.8 413.4,863.9 415.8,864 417.9,864 419.8,864 421.4,864 422.9,864 424.3,863.9 425.5,863.7 426.7,863.2 427.8,862.6 428.6,861.8 429.4,860.9 430.2,859.8 430.9,858.5 431.7,856.9 432.5,854.9 433.4,852.6 434.2,850 435,847.3 435.9,844.6 436.7,841.9 437.5,839.2 438.3,836.5 439.1,833.8 439.9,831 440.7,828.2 441.5,825.5 442.3,822.8 443.2,820 444,817.3 444.8,814.6 445.7,812 446.5,809.5 447.3,807.1 448.2,804.8 449,802.5 449.8,800.4 450.7,798.4 451.5,796.5 452.3,794.8 453.2,793.2 454,791.7 454.9,790.3 455.7,789.1 456.5,788 457.3,787 458,786.2 458.7,785.6 459.4,785 460.2,784.5 461,784 461.8,783.6 462.7,783.2 463.6,783 464.5,782.8 465.5,782.6 466.5,782.5 467.5,782.4 468.5,782.5 469.6,782.5 470.7,782.6 471.9,782.8 473.2,783 474.7,783.3 476.3,783.6 478,784 479.7,784.4 481.5,784.8 483.2,785.3 484.9,785.8 486.6,786.4 488.4,786.9 490.1,787.5 491.7,788.1 493.3,788.6 494.9,789.1 496.5,789.6 498.1,790.1 499.5,790.5 500.7,790.8 501.6,791.1" fill="none" stroke="#dba560" stroke-opacity="0.55" stroke-width="0.7"/>
<polyline points="386,853.6 387.8,853.7 390.4,853.7 393.5,853.8 396.7,853.9 399.9,854 402.8,854.1 405.5,854.2 408.2,854.3 410.9,854.5 413.4,854.6 415.8,854.6 417.9,854.6 419.8,854.5 421.4,854.5 422.8,854.3 424.2,854.1 425.5,853.6 426.7,852.9 427.9,851.9 429,850.7 430.1,849.3 431.1,847.8 432.1,846 433,844.1 433.9,842 434.8,839.6 435.6,837 436.4,834.4 437.2,831.7 438,829 438.8,826.3 439.7,823.6 440.5,820.8 441.3,818.1 442.2,815.4 443,812.7 443.8,810.1 444.7,807.4 445.5,804.8 446.3,802.3 447.2,799.9 448,797.6 448.8,795.4 449.7,793.4 450.5,791.4 451.3,789.6 452.2,787.9 453,786.3 453.8,784.9 454.6,783.7 455.5,782.6 456.3,781.6 457.2,780.8 458.1,780 459.1,779.3 460,778.8 461,778.3 462.1,778 463.2,777.7 464.4,777.5 465.7,777.4 467.1,777.5 468.6,777.6 470.1,777.8 471.6,778 473.2,778.2 474.8,778.4 476.4,778.7 478.1,779 479.8,779.4 481.5,779.7 483.2,780 484.9,780.3 486.6,780.6 488.4,781 490.1,781.3 491.7,781.6 493.3,781.8 494.9,782 496.5,782.1 498.1,782.3 499.5,782.4 500.7,782.4 501.6,782.5" fill="none" stroke="#e8963c" stroke-width="1.1" stroke-dasharray="3.4 2.4"/>
<polygon points="386,842.9 387.8,843 390.4,843.2 393.5,843.4 396.7,843.6 399.9,843.8 402.8,844 405.5,844.2 408.3,844.5 411,844.7 413.6,844.9 415.9,845 417.9,844.9 419.5,844.7 420.8,844.4 421.8,843.9 422.7,843.4 423.6,842.8 424.5,842 425.5,841.1 426.4,840.2 427.4,839.1 428.2,837.9 429.1,836.6 430,835 430.9,833.2 431.7,831.2 432.5,829.1 433.4,826.8 434.2,824.4 435,822 435.8,819.5 436.7,816.9 437.5,814.1 438.3,811.4 439.2,808.6 440,806 440.8,803.4 441.7,800.8 442.5,798.2 443.3,795.6 444.2,793.2 445,791 445.8,788.9 446.6,787 447.5,785.2 448.3,783.5 449.1,781.9 450,780.5 450.8,779.3 451.7,778.2 452.5,777.2 453.4,776.4 454.4,775.7 455.5,775 456.8,774.4 458.2,774 459.7,773.6 461.3,773.4 462.9,773.1 464.4,773 465.9,772.9 467.3,773 468.7,773.1 470.2,773.2 471.7,773.4 473.2,773.5 474.8,773.6 476.4,773.8 478.1,774 479.8,774.2 481.5,774.4 483.2,774.5 484.9,774.6 486.6,774.7 488.4,774.7 490.1,774.7 491.7,774.8 493.3,774.8 494.9,774.8 496.5,774.9 498.1,774.9 499.5,775 500.7,775 501.6,775 501.6,789.6 500.7,789.3 499.5,789 498.1,788.6 496.5,788.1 494.9,787.6 493.3,787.1 491.7,786.6 490.1,786 488.4,785.4 486.6,784.9 484.9,784.3 483.2,783.8 481.5,783.3 479.7,782.9 478,782.5 476.3,782.1 474.7,781.8 473.2,781.5 471.9,781.3 470.7,781.1 469.6,781 468.5,781 467.5,780.9 466.5,781 465.5,781.1 464.5,781.3 463.6,781.5 462.7,781.7 461.8,782.1 461,782.5 460.2,783 459.4,783.5 458.7,784.1 458,784.7 457.3,785.5 456.5,786.5 455.7,787.6 454.9,788.8 454,790.2 453.2,791.7 452.3,793.3 451.5,795 450.7,796.9 449.8,798.9 449,801 448.2,803.3 447.3,805.6 446.5,808 445.7,810.5 444.8,813.1 444,815.8 443.2,818.5 442.3,821.3 441.5,824 440.7,826.7 439.9,829.5 439.1,832.3 438.3,835 437.5,837.7 436.7,840.4 435.9,843.1 435,845.8 434.2,848.5 433.4,851.1 432.5,853.4 431.7,855.4 430.9,857 430.2,858.3 429.4,859.4 428.6,860.3 427.8,861.1 426.7,861.7 425.5,862.2 424.3,862.4 422.9,862.5 421.4,862.5 419.8,862.5 417.9,862.5 415.8,862.5 413.4,862.4 410.9,862.3 408.2,862.1 405.5,862 402.8,862 399.9,862 396.7,862.1 393.5,862.2 390.4,862.3 387.8,862.4 386,862.5" fill="#4f8a3a" fill-opacity="0.27"/>
<polyline points="386,842.9 387.8,843 390.4,843.2 393.5,843.4 396.7,843.6 399.9,843.8 402.8,844 405.5,844.2 408.3,844.5 411,844.7 413.6,844.9 415.9,845 417.9,844.9 419.5,844.7 420.8,844.4 421.8,843.9 422.7,843.4 423.6,842.8 424.5,842 425.5,841.1 426.4,840.2 427.4,839.1 428.2,837.9 429.1,836.6 430,835 430.9,833.2 431.7,831.2 432.5,829.1 433.4,826.8 434.2,824.4 435,822 435.8,819.5 436.7,816.9 437.5,814.1 438.3,811.4 439.2,808.6 440,806 440.8,803.4 441.7,800.8 442.5,798.2 443.3,795.6 444.2,793.2 445,791 445.8,788.9 446.6,787 447.5,785.2 448.3,783.5 449.1,781.9 450,780.5 450.8,779.3 451.7,778.2 452.5,777.2 453.4,776.4 454.4,775.7 455.5,775 456.8,774.4 458.2,774 459.7,773.6 461.3,773.4 462.9,773.1 464.4,773 465.9,772.9 467.3,773 468.7,773.1 470.2,773.2 471.7,773.4 473.2,773.5 474.8,773.6 476.4,773.8 478.1,774 479.8,774.2 481.5,774.4 483.2,774.5 484.9,774.6 486.6,774.7 488.4,774.7 490.1,774.7 491.7,774.8 493.3,774.8 494.9,774.8 496.5,774.9 498.1,774.9 499.5,775 500.7,775 501.6,775" fill="none" stroke="#5f8f4f" stroke-opacity="0.55" stroke-width="0.7"/>
<polyline points="386,862.5 387.8,862.4 390.4,862.3 393.5,862.2 396.7,862.1 399.9,862 402.8,862 405.5,862 408.2,862.1 410.9,862.3 413.4,862.4 415.8,862.5 417.9,862.5 419.8,862.5 421.4,862.5 422.9,862.5 424.3,862.4 425.5,862.2 426.7,861.7 427.8,861.1 428.6,860.3 429.4,859.4 430.2,858.3 430.9,857 431.7,855.4 432.5,853.4 433.4,851.1 434.2,848.5 435,845.8 435.9,843.1 436.7,840.4 437.5,837.7 438.3,835 439.1,832.3 439.9,829.5 440.7,826.7 441.5,824 442.3,821.3 443.2,818.5 444,815.8 444.8,813.1 445.7,810.5 446.5,808 447.3,805.6 448.2,803.3 449,801 449.8,798.9 450.7,796.9 451.5,795 452.3,793.3 453.2,791.7 454,790.2 454.9,788.8 455.7,787.6 456.5,786.5 457.3,785.5 458,784.7 458.7,784.1 459.4,783.5 460.2,783 461,782.5 461.8,782.1 462.7,781.7 463.6,781.5 464.5,781.3 465.5,781.1 466.5,781 467.5,780.9 468.5,781 469.6,781 470.7,781.1 471.9,781.3 473.2,781.5 474.7,781.8 476.3,782.1 478,782.5 479.7,782.9 481.5,783.3 483.2,783.8 484.9,784.3 486.6,784.9 488.4,785.4 490.1,786 491.7,786.6 493.3,787.1 494.9,787.6 496.5,788.1 498.1,788.6 499.5,789 500.7,789.3 501.6,789.6" fill="none" stroke="#5f8f4f" stroke-opacity="0.55" stroke-width="0.7"/>
<polyline points="386,852.4 387.8,852.5 390.4,852.5 393.5,852.6 396.7,852.7 399.9,852.8 402.8,852.9 405.5,853 408.2,853.1 410.9,853.3 413.4,853.4 415.8,853.4 417.9,853.4 419.8,853.3 421.4,853.3 422.8,853.1 424.2,852.9 425.5,852.4 426.7,851.7 427.9,850.7 429,849.5 430.1,848.1 431.1,846.6 432.1,844.8 433,842.9 433.9,840.8 434.8,838.4 435.6,835.8 436.4,833.2 437.2,830.5 438,827.8 438.8,825.1 439.7,822.4 440.5,819.6 441.3,816.9 442.2,814.2 443,811.5 443.8,808.9 444.7,806.2 445.5,803.6 446.3,801.1 447.2,798.7 448,796.4 448.8,794.2 449.7,792.2 450.5,790.2 451.3,788.4 452.2,786.6 453,785.1 453.8,783.7 454.6,782.5 455.5,781.4 456.3,780.4 457.2,779.6 458.1,778.8 459.1,778.1 460,777.6 461,777.1 462.1,776.8 463.2,776.5 464.4,776.3 465.7,776.2 467.1,776.3 468.6,776.4 470.1,776.6 471.6,776.8 473.2,777 474.8,777.2 476.4,777.5 478.1,777.8 479.8,778.2 481.5,778.5 483.2,778.8 484.9,779.1 486.6,779.4 488.4,779.8 490.1,780.1 491.7,780.4 493.3,780.6 494.9,780.8 496.5,780.9 498.1,781.1 499.5,781.2 500.7,781.2 501.6,781.3" fill="none" stroke="#478535" stroke-width="1.1" stroke-dasharray="3.4 2.4"/>
<line x1="386" y1="851.5" x2="401" y2="851.5" stroke="#8a8a8a" stroke-width="1"/>
<line x1="416.6" y1="851.5" x2="430.5" y2="851.5" stroke="#8a8a8a" stroke-width="1"/>
<line x1="446.8" y1="851.5" x2="461.4" y2="851.5" stroke="#8a8a8a" stroke-width="1"/>
<line x1="476.9" y1="851.5" x2="492" y2="851.5" stroke="#8a8a8a" stroke-width="1"/>
</g>
<path d="M386 748.3V863.5H501.6" fill="none" stroke="#333" stroke-width="1.2"/>
<line x1="386" y1="769.1" x2="388.2" y2="769.1" stroke="#333" stroke-width="0.9"/>
<text transform="translate(385 773.1) scale(1.13 1)" font-size="11.6" text-anchor="end">1</text>
<line x1="386" y1="785.6" x2="388.2" y2="785.6" stroke="#333" stroke-width="0.9"/>
<text transform="translate(385 789.6) scale(1.13 1)" font-size="11.6" text-anchor="end">0.9</text>
<line x1="386" y1="802.1" x2="388.2" y2="802.1" stroke="#333" stroke-width="0.9"/>
<text transform="translate(385 806.1) scale(1.13 1)" font-size="11.6" text-anchor="end">0.8</text>
<line x1="386" y1="818.6" x2="388.2" y2="818.6" stroke="#333" stroke-width="0.9"/>
<text transform="translate(385 822.6) scale(1.13 1)" font-size="11.6" text-anchor="end">0.7</text>
<line x1="386" y1="835.1" x2="388.2" y2="835.1" stroke="#333" stroke-width="0.9"/>
<text transform="translate(385 839.1) scale(1.13 1)" font-size="11.6" text-anchor="end">0.6</text>
<line x1="386" y1="851.7" x2="388.2" y2="851.7" stroke="#333" stroke-width="0.9"/>
<text transform="translate(385 855.8) scale(1.13 1)" font-size="11.6" text-anchor="end">0.5</text>
<line x1="417.9" y1="863.5" x2="417.9" y2="861.3" stroke="#333" stroke-width="0.9"/>
<text transform="translate(417.9 874.3) scale(1.13 1)" font-size="11.6" text-anchor="middle">0</text>
<line x1="447.3" y1="863.5" x2="447.3" y2="861.3" stroke="#333" stroke-width="0.9"/>
<text transform="translate(447.3 874.3) scale(1.13 1)" font-size="11.6" text-anchor="middle">0.2</text>
<line x1="478.5" y1="863.5" x2="478.5" y2="861.3" stroke="#333" stroke-width="0.9"/>
<text transform="translate(478.5 874.3) scale(1.13 1)" font-size="11.6" text-anchor="middle">0.4</text>
<text x="392" y="758.3" font-size="10">p=0.0009</text>
<text x="392" y="767.9" font-size="10">p=0.0009</text>
<rect x="435.5" y="750.8" width="66.1" height="7" fill="#5a913c"/>
<rect x="435.5" y="761.6" width="66.1" height="6.8" fill="#eb9641"/>
<text x="612.2" y="731.5" font-size="19.3" text-anchor="middle" font-weight="bold">PAR</text>
<clipPath id="c16"><rect x="557" y="687.3" width="115.5" height="175.2"/></clipPath>
<g clip-path="url(#c16)">
<polygon points="557,827.8 558.5,828.3 560.5,829 563,829.8 565.6,830.6 568.3,831.2 570.8,831.6 573.3,831.7 575.8,831.6 578.4,831.4 581,831.1 583.5,830.7 585.9,830.3 588.2,829.9 590.3,829.4 592.5,828.9 594.5,828.3 596.5,827.5 598.4,826.5 600.2,825.2 601.9,823.8 603.6,822.1 605.2,820.3 606.9,818.5 608.5,816.5 610.2,814.3 611.8,811.9 613.5,809.4 615.2,806.9 616.8,804.6 618.5,802.7 620.2,801.2 621.9,799.9 623.5,798.8 625.2,797.9 626.9,797.1 628.6,796.4 630.3,795.9 631.9,795.7 633.6,795.6 635.3,795.5 636.9,795.4 638.6,795.1 640.3,794.6 642,793.9 643.7,793.2 645.3,792.4 647,791.8 648.7,791.4 650.3,791.2 651.9,791.2 653.5,791.2 655.1,791.4 656.8,791.4 658.7,791.4 660.9,791.2 663.4,791 666,790.8 668.4,790.5 670.5,790.3 672,790.1 672,826.5 670.5,825.7 668.4,824.6 666,823.3 663.4,822 660.9,821 658.7,820.3 656.8,820 655.1,819.9 653.5,820 651.9,820.4 650.3,820.8 648.7,821.5 647,822.4 645.3,823.7 643.7,825.2 642,826.6 640.3,828 638.6,829 636.9,829.7 635.3,830 633.6,830.3 631.9,830.6 630.3,830.9 628.6,831.6 626.9,832.5 625.2,833.5 623.5,834.7 621.9,836 620.2,837.4 618.5,839.1 616.8,841.1 615.2,843.5 613.5,846.1 611.8,848.6 610.2,851 608.5,852.9 606.9,854.4 605.2,855.7 603.6,856.8 601.9,857.7 600.2,858.5 598.4,859.2 596.5,859.7 594.5,859.9 592.5,860 590.3,860.1 588.2,860.2 585.9,860.5 583.5,861.1 581,861.9 578.4,862.8 575.8,863.6 573.3,864 570.8,864 568.3,863.3 565.6,862.1 563,860.6 560.5,859 558.5,857.6 557,856.7" fill="#e8963c" fill-opacity="0.27"/>
<polyline points="557,827.8 558.5,828.3 560.5,829 563,829.8 565.6,830.6 568.3,831.2 570.8,831.6 573.3,831.7 575.8,831.6 578.4,831.4 581,831.1 583.5,830.7 585.9,830.3 588.2,829.9 590.3,829.4 592.5,828.9 594.5,828.3 596.5,827.5 598.4,826.5 600.2,825.2 601.9,823.8 603.6,822.1 605.2,820.3 606.9,818.5 608.5,816.5 610.2,814.3 611.8,811.9 613.5,809.4 615.2,806.9 616.8,804.6 618.5,802.7 620.2,801.2 621.9,799.9 623.5,798.8 625.2,797.9 626.9,797.1 628.6,796.4 630.3,795.9 631.9,795.7 633.6,795.6 635.3,795.5 636.9,795.4 638.6,795.1 640.3,794.6 642,793.9 643.7,793.2 645.3,792.4 647,791.8 648.7,791.4 650.3,791.2 651.9,791.2 653.5,791.2 655.1,791.4 656.8,791.4 658.7,791.4 660.9,791.2 663.4,791 666,790.8 668.4,790.5 670.5,790.3 672,790.1" fill="none" stroke="#dba560" stroke-opacity="0.55" stroke-width="0.7"/>
<polyline points="557,856.7 558.5,857.6 560.5,859 563,860.6 565.6,862.1 568.3,863.3 570.8,864 573.3,864 575.8,863.6 578.4,862.8 581,861.9 583.5,861.1 585.9,860.5 588.2,860.2 590.3,860.1 592.5,860 594.5,859.9 596.5,859.7 598.4,859.2 600.2,858.5 601.9,857.7 603.6,856.8 605.2,855.7 606.9,854.4 608.5,852.9 610.2,851 611.8,848.6 613.5,846.1 615.2,843.5 616.8,841.1 618.5,839.1 620.2,837.4 621.9,836 623.5,834.7 625.2,833.5 626.9,832.5 628.6,831.6 630.3,830.9 631.9,830.6 633.6,830.3 635.3,830 636.9,829.7 638.6,829 640.3,828 642,826.6 643.7,825.2 645.3,823.7 647,822.4 648.7,821.5 650.3,820.8 651.9,820.4 653.5,820 655.1,819.9 656.8,820 658.7,820.3 660.9,821 663.4,822 666,823.3 668.4,824.6 670.5,825.7 672,826.5" fill="none" stroke="#dba560" stroke-opacity="0.55" stroke-width="0.7"/>
<polyline points="557,842.9 558.5,843.4 560.5,844 563,844.8 565.6,845.6 568.3,846.2 570.8,846.6 573.3,846.7 575.8,846.6 578.4,846.4 581,846.1 583.5,845.7 585.9,845.4 588.2,845.1 590.3,844.9 592.5,844.6 594.5,844.2 596.5,843.7 598.4,842.9 600.2,841.9 601.9,840.6 603.6,839.2 605.2,837.6 606.9,835.9 608.5,834.1 610.2,832 611.8,829.6 613.5,827 615.2,824.5 616.8,822.2 618.5,820.3 620.2,818.8 621.9,817.5 623.5,816.4 625.2,815.5 626.9,814.7 628.6,814 630.3,813.4 631.9,813 633.6,812.7 635.3,812.4 636.9,812 638.6,811.5 640.3,810.7 642,809.8 643.7,808.8 645.3,807.8 647,807 648.7,806.4 650.3,806.1 651.9,806 653.5,806 655.1,806.1 656.8,806.2 658.7,806.4 660.9,806.6 663.4,806.9 666,807.3 668.4,807.7 670.5,808 672,808.2" fill="none" stroke="#e8963c" stroke-width="1.1" stroke-dasharray="3.4 2.4"/>
<polygon points="557,824 558.5,824.5 560.5,825.3 563,826.1 565.6,827 568.3,827.6 570.8,827.8 573.3,827.6 575.8,827 578.4,826.2 581,825.4 583.5,824.6 585.9,824 588.2,823.7 590.3,823.6 592.5,823.6 594.5,823.6 596.5,823.3 598.4,822.8 600.2,821.9 601.9,820.8 603.6,819.5 605.2,818.1 606.9,816.7 608.5,815.2 610.2,813.7 611.8,812 613.5,810.3 615.2,808.5 616.8,806.8 618.5,805.2 620.2,803.7 621.9,802.2 623.5,800.7 625.2,799.3 626.9,797.9 628.6,796.4 630.3,794.9 632,793.4 633.8,791.8 635.4,790.3 637.1,788.9 638.6,787.6 640,786.3 641.2,785.1 642.4,783.9 643.6,782.8 644.8,782 646.2,781.3 647.8,780.9 649.4,780.7 651.2,780.7 653,780.9 654.6,781.1 656.2,781.3 657.6,781.6 658.9,782.1 660.1,782.7 661.3,783.2 662.5,783.6 663.8,783.8 665.2,783.6 666.8,783.2 668.4,782.7 669.9,782.1 671.1,781.6 672,781.3 672,820.3 671.1,819.9 669.9,819.3 668.4,818.6 666.8,817.9 665.2,817.2 663.8,816.5 662.5,815.8 661.3,815 660.1,814.3 658.9,813.6 657.6,813 656.2,812.7 654.7,812.5 653,812.5 651.4,812.6 649.6,812.8 647.9,813.3 646.2,814 644.5,815 642.8,816.3 641.2,817.9 639.5,819.5 637.8,821.2 636.1,822.8 634.4,824.4 632.7,826 630.9,827.7 629.3,829.4 627.6,831.1 626.1,832.8 624.7,834.5 623.5,836.3 622.3,838 621.1,839.7 619.9,841.4 618.5,842.9 617,844.3 615.3,845.7 613.7,847 611.9,848.3 610.2,849.4 608.5,850.4 606.9,851.3 605.2,852 603.6,852.6 601.9,853.2 600.2,853.7 598.4,854.2 596.5,854.7 594.5,855.2 592.5,855.6 590.3,856 588.2,856.4 585.9,856.7 583.5,857 581,857.4 578.4,857.7 575.8,857.9 573.3,858 570.8,857.9 568.3,857.5 565.6,856.9 563,856.1 560.5,855.3 558.5,854.7 557,854.2" fill="#4f8a3a" fill-opacity="0.27"/>
<polyline points="557,824 558.5,824.5 560.5,825.3 563,826.1 565.6,827 568.3,827.6 570.8,827.8 573.3,827.6 575.8,827 578.4,826.2 581,825.4 583.5,824.6 585.9,824 588.2,823.7 590.3,823.6 592.5,823.6 594.5,823.6 596.5,823.3 598.4,822.8 600.2,821.9 601.9,820.8 603.6,819.5 605.2,818.1 606.9,816.7 608.5,815.2 610.2,813.7 611.8,812 613.5,810.3 615.2,808.5 616.8,806.8 618.5,805.2 620.2,803.7 621.9,802.2 623.5,800.7 625.2,799.3 626.9,797.9 628.6,796.4 630.3,794.9 632,793.4 633.8,791.8 635.4,790.3 637.1,788.9 638.6,787.6 640,786.3 641.2,785.1 642.4,783.9 643.6,782.8 644.8,782 646.2,781.3 647.8,780.9 649.4,780.7 651.2,780.7 653,780.9 654.6,781.1 656.2,781.3 657.6,781.6 658.9,782.1 660.1,782.7 661.3,783.2 662.5,783.6 663.8,783.8 665.2,783.6 666.8,783.2 668.4,782.7 669.9,782.1 671.1,781.6 672,781.3" fill="none" stroke="#5f8f4f" stroke-opacity="0.55" stroke-width="0.7"/>
<polyline points="557,854.2 558.5,854.7 560.5,855.3 563,856.1 565.6,856.9 568.3,857.5 570.8,857.9 573.3,858 575.8,857.9 578.4,857.7 581,857.4 583.5,857 585.9,856.7 588.2,856.4 590.3,856 592.5,855.6 594.5,855.2 596.5,854.7 598.4,854.2 600.2,853.7 601.9,853.2 603.6,852.6 605.2,852 606.9,851.3 608.5,850.4 610.2,849.4 611.9,848.3 613.7,847 615.3,845.7 617,844.3 618.5,842.9 619.9,841.4 621.1,839.7 622.3,838 623.5,836.3 624.7,834.5 626.1,832.8 627.6,831.1 629.3,829.4 630.9,827.7 632.7,826 634.4,824.4 636.1,822.8 637.8,821.2 639.5,819.5 641.2,817.9 642.8,816.3 644.5,815 646.2,814 647.9,813.3 649.6,812.8 651.4,812.6 653,812.5 654.7,812.5 656.2,812.7 657.6,813 658.9,813.6 660.1,814.3 661.3,815 662.5,815.8 663.8,816.5 665.2,817.2 666.8,817.9 668.4,818.6 669.9,819.3 671.1,819.9 672,820.3" fill="none" stroke="#5f8f4f" stroke-opacity="0.55" stroke-width="0.7"/>
<polyline points="557,839.1 558.5,839.6 560.5,840.3 563,841.2 565.6,842 568.3,842.6 570.8,842.9 573.3,842.8 575.8,842.5 578.4,842 581,841.4 583.5,840.8 585.9,840.4 588.2,840.2 590.3,840 592.5,839.9 594.5,839.8 596.5,839.5 598.4,839.1 600.2,838.5 601.9,837.8 603.6,837.1 605.2,836.2 606.9,835.2 608.5,834.1 610.2,832.9 611.8,831.5 613.5,830 615.2,828.5 616.8,826.9 618.5,825.3 620.2,823.7 621.9,822 623.5,820.3 625.2,818.6 626.9,816.9 628.6,815.2 630.3,813.5 632,811.8 633.8,810.1 635.4,808.4 637.1,806.8 638.6,805.2 640,803.6 641.3,801.9 642.6,800.3 643.8,798.7 645,797.4 646.2,796.4 647.4,795.7 648.6,795.3 649.8,795 651,794.9 652.3,795 653.7,795.1 655.3,795.3 656.9,795.8 658.7,796.3 660.5,796.9 662.2,797.5 663.8,798.1 665.4,798.7 667,799.3 668.5,799.9 669.9,800.5 671.1,801 672,801.4" fill="none" stroke="#478535" stroke-width="1.1" stroke-dasharray="3.4 2.4"/>
<line x1="557" y1="842.5" x2="573.3" y2="842.5" stroke="#8a8a8a" stroke-width="1"/>
<line x1="587" y1="842.5" x2="601" y2="842.5" stroke="#8a8a8a" stroke-width="1"/>
<line x1="617.3" y1="842.5" x2="631.1" y2="842.5" stroke="#8a8a8a" stroke-width="1"/>
<line x1="647.4" y1="842.5" x2="662.5" y2="842.5" stroke="#8a8a8a" stroke-width="1"/>
</g>
<path d="M557 747.3V862.5H672" fill="none" stroke="#333" stroke-width="1.2"/>
<line x1="557" y1="754.8" x2="559.2" y2="754.8" stroke="#333" stroke-width="0.9"/>
<text transform="translate(555 758.8) scale(1.13 1)" font-size="11.6" text-anchor="end">0.8</text>
<line x1="557" y1="768.8" x2="559.2" y2="768.8" stroke="#333" stroke-width="0.9"/>
<text transform="translate(555 772.8) scale(1.13 1)" font-size="11.6" text-anchor="end">0.75</text>
<line x1="557" y1="783" x2="559.2" y2="783" stroke="#333" stroke-width="0.9"/>
<text transform="translate(555 787) scale(1.13 1)" font-size="11.6" text-anchor="end">0.7</text>
<line x1="557" y1="797.3" x2="559.2" y2="797.3" stroke="#333" stroke-width="0.9"/>
<text transform="translate(555 801.3) scale(1.13 1)" font-size="11.6" text-anchor="end">0.65</text>
<line x1="557" y1="812.5" x2="559.2" y2="812.5" stroke="#333" stroke-width="0.9"/>
<text transform="translate(555 816.5) scale(1.13 1)" font-size="11.6" text-anchor="end">0.6</text>
<line x1="557" y1="827.8" x2="559.2" y2="827.8" stroke="#333" stroke-width="0.9"/>
<text transform="translate(555 831.8) scale(1.13 1)" font-size="11.6" text-anchor="end">0.55</text>
<line x1="557" y1="842.9" x2="559.2" y2="842.9" stroke="#333" stroke-width="0.9"/>
<text transform="translate(555 846.9) scale(1.13 1)" font-size="11.6" text-anchor="end">0.5</text>
<line x1="557" y1="857.9" x2="559.2" y2="857.9" stroke="#333" stroke-width="0.9"/>
<text transform="translate(555 861.9) scale(1.13 1)" font-size="11.6" text-anchor="end">0.45</text>
<line x1="587.1" y1="862.5" x2="587.1" y2="860.3" stroke="#333" stroke-width="0.9"/>
<text transform="translate(587.1 873.5) scale(1.13 1)" font-size="11.6" text-anchor="middle">0</text>
<line x1="616.9" y1="862.5" x2="616.9" y2="860.3" stroke="#333" stroke-width="0.9"/>
<text transform="translate(616.9 873.5) scale(1.13 1)" font-size="11.6" text-anchor="middle">0.2</text>
<line x1="648.7" y1="862.5" x2="648.7" y2="860.3" stroke="#333" stroke-width="0.9"/>
<text transform="translate(648.7 873.5) scale(1.13 1)" font-size="11.6" text-anchor="middle">0.4</text>
<text x="567.8" y="758.3" font-size="10">p=0.0009</text>
<text x="567.8" y="767.9" font-size="10">p=0.0009</text>
<rect x="613.5" y="750.8" width="58.5" height="7" fill="#5a913c"/>
<rect x="612.2" y="761.6" width="59.8" height="6.8" fill="#eb9641"/>
<text x="1.3" y="920.6" font-size="14" font-weight="bold">h</text>
<text x="20.6" y="925.6" font-size="13.15">Response direction representation is shared</text>
<text x="20.6" y="941" font-size="13.15">between  C1 task and S1 task in all regions</text>
<line x1="300.6" y1="964.8" x2="318.2" y2="964.8" stroke="#6f9a50" stroke-width="1" stroke-dasharray="4 3"/>
<line x1="300.6" y1="974.9" x2="318.2" y2="974.9" stroke="#eca25c" stroke-width="1" stroke-dasharray="4 3"/>
<text x="323.8" y="968.7" font-size="12">Train S1, Test C1</text>
<text x="323.8" y="979.3" font-size="12">Train C1, Test S1</text>
<text x="111.1" y="979.9" font-size="19.3" text-anchor="middle" font-weight="bold">Striatum</text>
<clipPath id="c17"><rect x="54.5" y="925.4" width="116.4" height="175.1"/></clipPath>
<g clip-path="url(#c17)">
<polygon points="54.8,1067.5 55.9,1067.8 57.5,1068.2 59.4,1068.8 61.4,1069.3 63.5,1069.7 65.3,1070.1 67,1070.3 68.6,1070.5 70.2,1070.6 71.9,1070.7 73.6,1070.7 75.4,1070.8 77.4,1070.9 79.5,1070.9 81.7,1071 83.9,1071 86,1071 88,1070.8 89.8,1070.6 91.6,1070.3 93.3,1069.9 94.9,1069.5 96.5,1069 98,1068.3 99.4,1067.5 100.7,1066.5 101.9,1065.5 103.1,1064.3 104.3,1063.2 105.5,1062 106.7,1060.8 108,1059.5 109.2,1058.2 110.5,1057 111.7,1055.7 113,1054.5 114.3,1053.4 115.5,1052.2 116.8,1051.1 118.1,1050.1 119.3,1049.1 120.6,1048.2 121.9,1047.4 123.1,1046.6 124.4,1045.9 125.6,1045.3 126.8,1044.8 128.1,1044.4 129.4,1044.1 130.6,1044 131.9,1043.9 133.2,1044 134.4,1044.1 135.7,1044.4 137,1044.8 138.2,1045.4 139.4,1046.1 140.7,1046.8 141.9,1047.5 143.2,1048.2 144.5,1048.8 145.7,1049.5 147,1050.1 148.3,1050.7 149.5,1051.4 150.8,1052 152.1,1052.7 153.3,1053.4 154.6,1054.1 155.8,1054.7 157.1,1055.3 158.3,1055.7 159.6,1055.9 160.9,1056.1 162.2,1056.1 163.5,1056 164.7,1055.9 165.8,1055.7 166.8,1055.4 167.7,1055 168.6,1054.5 169.3,1053.9 169.9,1053.5 170.4,1053.2 170.4,1092.3 169.3,1091.7 167.8,1091 166.1,1090 164.2,1089.1 162.4,1088.1 160.8,1087.3 159.4,1086.6 158.1,1085.9 156.9,1085.3 155.7,1084.7 154.5,1084.1 153.3,1083.5 152,1082.9 150.8,1082.2 149.5,1081.6 148.2,1081 147,1080.3 145.7,1079.7 144.4,1079 143.2,1078.4 141.9,1077.7 140.7,1077.1 139.4,1076.5 138.2,1076 137,1075.6 135.7,1075.2 134.5,1075 133.2,1074.8 132,1074.7 130.7,1074.7 129.4,1074.9 128.2,1075.1 126.9,1075.5 125.6,1075.9 124.4,1076.5 123.1,1077.2 121.8,1078 120.6,1078.9 119.4,1080 118.1,1081.1 116.9,1082.3 115.6,1083.5 114.3,1084.9 113.1,1086.3 111.8,1087.9 110.5,1089.5 109.3,1090.9 108,1092.3 106.8,1093.5 105.7,1094.7 104.6,1095.7 103.4,1096.8 102,1097.7 100.5,1098.6 98.8,1099.5 97.1,1100.3 95.2,1101 93.1,1101.7 90.7,1102.2 88,1102.6 84.7,1102.8 80.7,1102.9 76.5,1102.9 72.3,1102.8 68.5,1102.5 65.3,1102.1 62.7,1101.5 60.5,1100.6 58.6,1099.7 57.1,1098.7 55.8,1097.9 54.8,1097.3" fill="#e8963c" fill-opacity="0.27"/>
<polyline points="54.8,1067.5 55.9,1067.8 57.5,1068.2 59.4,1068.8 61.4,1069.3 63.5,1069.7 65.3,1070.1 67,1070.3 68.6,1070.5 70.2,1070.6 71.9,1070.7 73.6,1070.7 75.4,1070.8 77.4,1070.9 79.5,1070.9 81.7,1071 83.9,1071 86,1071 88,1070.8 89.8,1070.6 91.6,1070.3 93.3,1069.9 94.9,1069.5 96.5,1069 98,1068.3 99.4,1067.5 100.7,1066.5 101.9,1065.5 103.1,1064.3 104.3,1063.2 105.5,1062 106.7,1060.8 108,1059.5 109.2,1058.2 110.5,1057 111.7,1055.7 113,1054.5 114.3,1053.4 115.5,1052.2 116.8,1051.1 118.1,1050.1 119.3,1049.1 120.6,1048.2 121.9,1047.4 123.1,1046.6 124.4,1045.9 125.6,1045.3 126.8,1044.8 128.1,1044.4 129.4,1044.1 130.6,1044 131.9,1043.9 133.2,1044 134.4,1044.1 135.7,1044.4 137,1044.8 138.2,1045.4 139.4,1046.1 140.7,1046.8 141.9,1047.5 143.2,1048.2 144.5,1048.8 145.7,1049.5 147,1050.1 148.3,1050.7 149.5,1051.4 150.8,1052 152.1,1052.7 153.3,1053.4 154.6,1054.1 155.8,1054.7 157.1,1055.3 158.3,1055.7 159.6,1055.9 160.9,1056.1 162.2,1056.1 163.5,1056 164.7,1055.9 165.8,1055.7 166.8,1055.4 167.7,1055 168.6,1054.5 169.3,1053.9 169.9,1053.5 170.4,1053.2" fill="none" stroke="#dba560" stroke-opacity="0.55" stroke-width="0.7"/>
<polyline points="54.8,1097.3 55.8,1097.9 57.1,1098.7 58.6,1099.7 60.5,1100.6 62.7,1101.5 65.3,1102.1 68.5,1102.5 72.3,1102.8 76.5,1102.9 80.7,1102.9 84.7,1102.8 88,1102.6 90.7,1102.2 93.1,1101.7 95.2,1101 97.1,1100.3 98.8,1099.5 100.5,1098.6 102,1097.7 103.4,1096.8 104.6,1095.7 105.7,1094.7 106.8,1093.5 108,1092.3 109.3,1090.9 110.5,1089.5 111.8,1087.9 113.1,1086.3 114.3,1084.9 115.6,1083.5 116.9,1082.3 118.1,1081.1 119.4,1080 120.6,1078.9 121.8,1078 123.1,1077.2 124.4,1076.5 125.6,1075.9 126.9,1075.5 128.2,1075.1 129.4,1074.9 130.7,1074.7 132,1074.7 133.2,1074.8 134.5,1075 135.7,1075.2 137,1075.6 138.2,1076 139.4,1076.5 140.7,1077.1 141.9,1077.7 143.2,1078.4 144.4,1079 145.7,1079.7 147,1080.3 148.2,1081 149.5,1081.6 150.8,1082.2 152,1082.9 153.3,1083.5 154.5,1084.1 155.7,1084.7 156.9,1085.3 158.1,1085.9 159.4,1086.6 160.8,1087.3 162.4,1088.1 164.2,1089.1 166.1,1090 167.8,1091 169.3,1091.7 170.4,1092.3" fill="none" stroke="#dba560" stroke-opacity="0.55" stroke-width="0.7"/>
<polyline points="54.8,1083.2 55.9,1083.4 57.5,1083.7 59.4,1084 61.4,1084.3 63.5,1084.6 65.3,1084.9 67,1085.1 68.6,1085.3 70.2,1085.4 71.9,1085.5 73.6,1085.6 75.4,1085.7 77.4,1085.8 79.5,1085.8 81.7,1085.9 83.9,1085.9 86,1085.8 88,1085.7 89.8,1085.6 91.6,1085.4 93.3,1085.2 94.9,1084.9 96.5,1084.5 98,1083.9 99.4,1083.2 100.7,1082.3 101.9,1081.4 103.1,1080.3 104.3,1079.2 105.5,1078.1 106.7,1076.9 108,1075.7 109.2,1074.5 110.5,1073.2 111.7,1071.9 113,1070.6 114.3,1069.3 115.5,1068 116.8,1066.6 118.1,1065.3 119.3,1064.1 120.6,1063.1 121.9,1062.2 123.1,1061.4 124.4,1060.7 125.6,1060.1 126.8,1059.7 128.1,1059.3 129.4,1059 130.6,1058.9 131.9,1058.9 133.2,1058.9 134.4,1059.1 135.7,1059.3 137,1059.6 138.2,1060.1 139.4,1060.6 140.7,1061.2 141.9,1061.7 143.2,1062.3 144.5,1062.8 145.7,1063.4 147,1063.9 148.3,1064.5 149.5,1065 150.8,1065.6 152.1,1066.2 153.3,1066.9 154.6,1067.5 155.8,1068.2 157.1,1068.8 158.3,1069.4 159.6,1069.9 160.9,1070.4 162.2,1070.8 163.5,1071.2 164.7,1071.6 165.8,1071.9 166.8,1072.2 167.7,1072.4 168.6,1072.7 169.3,1072.8 169.9,1073 170.4,1073.1" fill="none" stroke="#e8963c" stroke-width="1.1" stroke-dasharray="3.4 2.4"/>
<polygon points="54.8,1068.3 55.9,1068.6 57.5,1069 59.4,1069.6 61.4,1070.1 63.5,1070.5 65.3,1070.9 67,1071.1 68.6,1071.3 70.2,1071.4 71.9,1071.5 73.6,1071.5 75.4,1071.6 77.4,1071.7 79.5,1071.7 81.7,1071.8 83.9,1071.8 86,1071.8 88,1071.6 89.8,1071.4 91.6,1071.1 93.3,1070.7 94.9,1070.3 96.5,1069.8 98,1069.1 99.4,1068.3 100.7,1067.3 101.9,1066.3 103.1,1065.1 104.3,1064 105.5,1062.8 106.7,1061.6 108,1060.3 109.2,1059 110.5,1057.8 111.7,1056.5 113,1055.3 114.3,1054.2 115.5,1053 116.8,1051.9 118.1,1050.9 119.3,1049.9 120.6,1049 121.9,1048.2 123.1,1047.4 124.4,1046.7 125.6,1046.1 126.8,1045.6 128.1,1045.2 129.4,1044.9 130.6,1044.8 131.9,1044.7 133.2,1044.8 134.4,1044.9 135.7,1045.2 137,1045.6 138.2,1046.2 139.4,1046.9 140.7,1047.6 141.9,1048.3 143.2,1049 144.5,1049.6 145.7,1050.3 147,1050.9 148.3,1051.5 149.5,1052.2 150.8,1052.8 152.1,1053.5 153.3,1054.2 154.6,1054.9 155.8,1055.5 157.1,1056.1 158.3,1056.5 159.6,1056.7 160.9,1056.9 162.2,1056.9 163.5,1056.8 164.7,1056.7 165.8,1056.5 166.8,1056.2 167.7,1055.8 168.6,1055.2 169.3,1054.7 169.9,1054.3 170.4,1054 170.4,1091.7 169.3,1091.1 167.8,1090.4 166.1,1089.4 164.2,1088.5 162.4,1087.5 160.8,1086.7 159.4,1086 158.1,1085.3 156.9,1084.7 155.7,1084.1 154.5,1083.5 153.3,1082.9 152,1082.3 150.8,1081.6 149.5,1081 148.2,1080.4 147,1079.7 145.7,1079.1 144.4,1078.4 143.2,1077.8 141.9,1077.1 140.7,1076.5 139.4,1075.9 138.2,1075.4 137,1075 135.7,1074.6 134.5,1074.4 133.2,1074.2 132,1074.1 130.7,1074.1 129.4,1074.3 128.2,1074.5 126.9,1074.9 125.6,1075.3 124.4,1075.9 123.1,1076.6 121.8,1077.4 120.6,1078.3 119.4,1079.4 118.1,1080.5 116.9,1081.7 115.6,1082.9 114.3,1084.3 113.1,1085.7 111.8,1087.3 110.5,1088.9 109.3,1090.3 108,1091.7 106.8,1092.9 105.7,1094.1 104.6,1095.1 103.4,1096.2 102,1097.1 100.5,1098 98.8,1098.9 97.1,1099.7 95.2,1100.4 93.1,1101.1 90.7,1101.6 88,1102 84.7,1102.2 80.7,1102.3 76.5,1102.3 72.3,1102.2 68.5,1101.9 65.3,1101.5 62.7,1100.9 60.5,1100 58.6,1099.1 57.1,1098.1 55.8,1097.3 54.8,1096.7" fill="#4f8a3a" fill-opacity="0.27"/>
<polyline points="54.8,1068.3 55.9,1068.6 57.5,1069 59.4,1069.6 61.4,1070.1 63.5,1070.5 65.3,1070.9 67,1071.1 68.6,1071.3 70.2,1071.4 71.9,1071.5 73.6,1071.5 75.4,1071.6 77.4,1071.7 79.5,1071.7 81.7,1071.8 83.9,1071.8 86,1071.8 88,1071.6 89.8,1071.4 91.6,1071.1 93.3,1070.7 94.9,1070.3 96.5,1069.8 98,1069.1 99.4,1068.3 100.7,1067.3 101.9,1066.3 103.1,1065.1 104.3,1064 105.5,1062.8 106.7,1061.6 108,1060.3 109.2,1059 110.5,1057.8 111.7,1056.5 113,1055.3 114.3,1054.2 115.5,1053 116.8,1051.9 118.1,1050.9 119.3,1049.9 120.6,1049 121.9,1048.2 123.1,1047.4 124.4,1046.7 125.6,1046.1 126.8,1045.6 128.1,1045.2 129.4,1044.9 130.6,1044.8 131.9,1044.7 133.2,1044.8 134.4,1044.9 135.7,1045.2 137,1045.6 138.2,1046.2 139.4,1046.9 140.7,1047.6 141.9,1048.3 143.2,1049 144.5,1049.6 145.7,1050.3 147,1050.9 148.3,1051.5 149.5,1052.2 150.8,1052.8 152.1,1053.5 153.3,1054.2 154.6,1054.9 155.8,1055.5 157.1,1056.1 158.3,1056.5 159.6,1056.7 160.9,1056.9 162.2,1056.9 163.5,1056.8 164.7,1056.7 165.8,1056.5 166.8,1056.2 167.7,1055.8 168.6,1055.2 169.3,1054.7 169.9,1054.3 170.4,1054" fill="none" stroke="#5f8f4f" stroke-opacity="0.55" stroke-width="0.7"/>
<polyline points="54.8,1096.7 55.8,1097.3 57.1,1098.1 58.6,1099.1 60.5,1100 62.7,1100.9 65.3,1101.5 68.5,1101.9 72.3,1102.2 76.5,1102.3 80.7,1102.3 84.7,1102.2 88,1102 90.7,1101.6 93.1,1101.1 95.2,1100.4 97.1,1099.7 98.8,1098.9 100.5,1098 102,1097.1 103.4,1096.2 104.6,1095.1 105.7,1094.1 106.8,1092.9 108,1091.7 109.3,1090.3 110.5,1088.9 111.8,1087.3 113.1,1085.7 114.3,1084.3 115.6,1082.9 116.9,1081.7 118.1,1080.5 119.4,1079.4 120.6,1078.3 121.8,1077.4 123.1,1076.6 124.4,1075.9 125.6,1075.3 126.9,1074.9 128.2,1074.5 129.4,1074.3 130.7,1074.1 132,1074.1 133.2,1074.2 134.5,1074.4 135.7,1074.6 137,1075 138.2,1075.4 139.4,1075.9 140.7,1076.5 141.9,1077.1 143.2,1077.8 144.4,1078.4 145.7,1079.1 147,1079.7 148.2,1080.4 149.5,1081 150.8,1081.6 152,1082.3 153.3,1082.9 154.5,1083.5 155.7,1084.1 156.9,1084.7 158.1,1085.3 159.4,1086 160.8,1086.7 162.4,1087.5 164.2,1088.5 166.1,1089.4 167.8,1090.4 169.3,1091.1 170.4,1091.7" fill="none" stroke="#5f8f4f" stroke-opacity="0.55" stroke-width="0.7"/>
<polyline points="54.8,1084.8 55.9,1085 57.5,1085.3 59.4,1085.6 61.4,1085.9 63.5,1086.2 65.3,1086.5 67,1086.7 68.6,1086.9 70.2,1087 71.9,1087.1 73.6,1087.2 75.4,1087.3 77.4,1087.4 79.5,1087.4 81.7,1087.5 83.9,1087.5 86,1087.4 88,1087.3 89.8,1087.2 91.6,1087 93.3,1086.8 94.9,1086.5 96.5,1086.1 98,1085.5 99.4,1084.8 100.7,1083.9 101.9,1083 103.1,1081.9 104.3,1080.8 105.5,1079.7 106.7,1078.5 108,1077.3 109.2,1076.1 110.5,1074.8 111.7,1073.5 113,1072.2 114.3,1070.9 115.5,1069.6 116.8,1068.2 118.1,1066.9 119.3,1065.7 120.6,1064.7 121.9,1063.8 123.1,1063 124.4,1062.3 125.6,1061.7 126.8,1061.3 128.1,1060.9 129.4,1060.6 130.6,1060.5 131.9,1060.5 133.2,1060.5 134.4,1060.7 135.7,1060.9 137,1061.2 138.2,1061.7 139.4,1062.2 140.7,1062.8 141.9,1063.3 143.2,1063.9 144.5,1064.4 145.7,1065 147,1065.5 148.3,1066.1 149.5,1066.6 150.8,1067.2 152.1,1067.8 153.3,1068.5 154.6,1069.2 155.8,1069.8 157.1,1070.4 158.3,1071 159.6,1071.5 160.9,1072 162.2,1072.4 163.5,1072.8 164.7,1073.2 165.8,1073.5 166.8,1073.8 167.7,1074 168.6,1074.3 169.3,1074.4 169.9,1074.6 170.4,1074.7" fill="none" stroke="#478535" stroke-width="1.1" stroke-dasharray="3.4 2.4"/>
<line x1="54.8" y1="1084.5" x2="67.8" y2="1084.5" stroke="#8a8a8a" stroke-width="1"/>
<line x1="85.4" y1="1084.5" x2="100.5" y2="1084.5" stroke="#8a8a8a" stroke-width="1"/>
<line x1="115.6" y1="1084.5" x2="129.4" y2="1084.5" stroke="#8a8a8a" stroke-width="1"/>
<line x1="145.7" y1="1084.5" x2="159.5" y2="1084.5" stroke="#8a8a8a" stroke-width="1"/>
</g>
<path d="M54.5 985.4V1100.5H170.4" fill="none" stroke="#333" stroke-width="1.2"/>
<line x1="54.5" y1="989.2" x2="56.7" y2="989.2" stroke="#333" stroke-width="0.9"/>
<text transform="translate(53.3 993.2) scale(1.13 1)" font-size="11.6" text-anchor="end">0.8</text>
<line x1="54.5" y1="1005.5" x2="56.7" y2="1005.5" stroke="#333" stroke-width="0.9"/>
<text transform="translate(53.3 1009.5) scale(1.13 1)" font-size="11.6" text-anchor="end">0.75</text>
<line x1="54.5" y1="1021.4" x2="56.7" y2="1021.4" stroke="#333" stroke-width="0.9"/>
<text transform="translate(53.3 1025.5) scale(1.13 1)" font-size="11.6" text-anchor="end">0.7</text>
<line x1="54.5" y1="1037.2" x2="56.7" y2="1037.2" stroke="#333" stroke-width="0.9"/>
<text transform="translate(53.3 1041.2) scale(1.13 1)" font-size="11.6" text-anchor="end">0.65</text>
<line x1="54.5" y1="1052.8" x2="56.7" y2="1052.8" stroke="#333" stroke-width="0.9"/>
<text transform="translate(53.3 1056.8) scale(1.13 1)" font-size="11.6" text-anchor="end">0.6</text>
<line x1="54.5" y1="1068.6" x2="56.7" y2="1068.6" stroke="#333" stroke-width="0.9"/>
<text transform="translate(53.3 1072.6) scale(1.13 1)" font-size="11.6" text-anchor="end">0.55</text>
<line x1="54.5" y1="1084.9" x2="56.7" y2="1084.9" stroke="#333" stroke-width="0.9"/>
<text transform="translate(53.3 1089) scale(1.13 1)" font-size="11.6" text-anchor="end">0.5</text>
<line x1="86.7" y1="1100.5" x2="86.7" y2="1098.3" stroke="#333" stroke-width="0.9"/>
<text transform="translate(86.7 1111.8) scale(1.13 1)" font-size="11.6" text-anchor="middle">0</text>
<line x1="116.3" y1="1100.5" x2="116.3" y2="1098.3" stroke="#333" stroke-width="0.9"/>
<text transform="translate(116.3 1111.8) scale(1.13 1)" font-size="11.6" text-anchor="middle">0.2</text>
<line x1="147" y1="1100.5" x2="147" y2="1098.3" stroke="#333" stroke-width="0.9"/>
<text transform="translate(147 1111.8) scale(1.13 1)" font-size="11.6" text-anchor="middle">0.4</text>
<text x="68.3" y="1010.6" font-size="10">p=0.0009</text>
<text x="68.3" y="1020.1" font-size="10">p=0.0009</text>
<rect x="113.6" y="1004" width="40.9" height="7.3" fill="#5a913c"/>
<rect x="111.8" y="1013.8" width="54" height="6.8" fill="#eb9641"/>
<text x="24.6" y="1036" font-size="13" text-anchor="middle" transform="rotate(-90 24.6 1036)">Classifier accuracy</text>
<text x="281.9" y="976.6" font-size="19.3" text-anchor="middle" font-weight="bold">aIT</text>
<clipPath id="c18"><rect x="226" y="925.4" width="115.3" height="175.1"/></clipPath>
<g clip-path="url(#c18)">
<polygon points="226,1073.5 227.2,1072.6 229,1071.2 231,1069.6 233.2,1068 235.4,1066.8 237.3,1066 239.1,1065.8 240.8,1066.1 242.4,1066.6 244.1,1067.3 245.7,1068 247.4,1068.5 249.1,1069 250.7,1069.6 252.4,1070.1 254.1,1070.6 255.7,1070.9 257.4,1071 259.1,1070.7 260.8,1070.2 262.4,1069.4 264.1,1068.6 265.8,1067.8 267.5,1067.2 269.2,1066.7 270.8,1066.2 272.5,1065.8 274.2,1065.4 275.8,1065 277.5,1064.7 279.2,1064.5 280.9,1064.3 282.6,1064.2 284.2,1064 285.9,1063.8 287.6,1063.5 289.3,1063 290.9,1062.5 292.6,1061.8 294.3,1061.2 295.9,1060.4 297.6,1059.7 299.3,1059 301,1058.2 302.7,1057.4 304.3,1056.5 306,1055.6 307.7,1054.7 309.4,1053.8 311,1052.8 312.7,1051.8 314.4,1050.7 316,1049.6 317.7,1048.4 319.4,1047 321.1,1045.5 322.8,1043.9 324.4,1042.3 326.1,1040.9 327.8,1039.6 329.6,1038.5 331.4,1037.5 333.2,1036.6 335,1035.9 336.5,1035.2 337.8,1034.6 338.7,1034.2 339.4,1033.8 339.9,1033.6 340.3,1033.5 340.6,1033.4 340.8,1033.3 340.8,1073.5 340.6,1073.2 340.3,1072.7 339.9,1072.2 339.4,1071.7 338.7,1071.2 337.8,1071 336.5,1070.9 335,1070.9 333.2,1071 331.4,1071.3 329.6,1071.7 327.8,1072.2 326.1,1073 324.4,1073.9 322.8,1075 321.1,1076.2 319.4,1077.4 317.7,1078.5 316,1079.6 314.4,1080.6 312.7,1081.7 311,1082.8 309.4,1083.8 307.7,1084.8 306,1085.7 304.3,1086.6 302.7,1087.5 301,1088.3 299.3,1089.1 297.6,1089.8 295.9,1090.5 294.3,1091.2 292.6,1091.8 290.9,1092.4 289.3,1093 287.6,1093.6 285.9,1094.2 284.2,1094.9 282.6,1095.5 280.9,1096.2 279.2,1096.8 277.5,1097.3 275.8,1097.8 274.2,1098.3 272.5,1098.8 270.8,1099.2 269.2,1099.5 267.5,1099.8 265.8,1100 264.1,1100.1 262.4,1100.1 260.8,1100.1 259.1,1100 257.4,1099.8 255.7,1099.5 254.1,1099.2 252.4,1098.7 250.7,1098.2 249.1,1097.7 247.4,1097.3 245.7,1096.8 244.1,1096.1 242.4,1095.4 240.8,1094.9 239.1,1094.6 237.3,1094.8 235.4,1095.5 233.2,1096.8 231,1098.3 229,1099.8 227.2,1101.2 226,1102.1" fill="#e8963c" fill-opacity="0.27"/>
<polyline points="226,1073.5 227.2,1072.6 229,1071.2 231,1069.6 233.2,1068 235.4,1066.8 237.3,1066 239.1,1065.8 240.8,1066.1 242.4,1066.6 244.1,1067.3 245.7,1068 247.4,1068.5 249.1,1069 250.7,1069.6 252.4,1070.1 254.1,1070.6 255.7,1070.9 257.4,1071 259.1,1070.7 260.8,1070.2 262.4,1069.4 264.1,1068.6 265.8,1067.8 267.5,1067.2 269.2,1066.7 270.8,1066.2 272.5,1065.8 274.2,1065.4 275.8,1065 277.5,1064.7 279.2,1064.5 280.9,1064.3 282.6,1064.2 284.2,1064 285.9,1063.8 287.6,1063.5 289.3,1063 290.9,1062.5 292.6,1061.8 294.3,1061.2 295.9,1060.4 297.6,1059.7 299.3,1059 301,1058.2 302.7,1057.4 304.3,1056.5 306,1055.6 307.7,1054.7 309.4,1053.8 311,1052.8 312.7,1051.8 314.4,1050.7 316,1049.6 317.7,1048.4 319.4,1047 321.1,1045.5 322.8,1043.9 324.4,1042.3 326.1,1040.9 327.8,1039.6 329.6,1038.5 331.4,1037.5 333.2,1036.6 335,1035.9 336.5,1035.2 337.8,1034.6 338.7,1034.2 339.4,1033.8 339.9,1033.6 340.3,1033.5 340.6,1033.4 340.8,1033.3" fill="none" stroke="#dba560" stroke-opacity="0.55" stroke-width="0.7"/>
<polyline points="226,1102.1 227.2,1101.2 229,1099.8 231,1098.3 233.2,1096.8 235.4,1095.5 237.3,1094.8 239.1,1094.6 240.8,1094.9 242.4,1095.4 244.1,1096.1 245.7,1096.8 247.4,1097.3 249.1,1097.7 250.7,1098.2 252.4,1098.7 254.1,1099.2 255.7,1099.5 257.4,1099.8 259.1,1100 260.8,1100.1 262.4,1100.1 264.1,1100.1 265.8,1100 267.5,1099.8 269.2,1099.5 270.8,1099.2 272.5,1098.8 274.2,1098.3 275.8,1097.8 277.5,1097.3 279.2,1096.8 280.9,1096.2 282.6,1095.5 284.2,1094.9 285.9,1094.2 287.6,1093.6 289.3,1093 290.9,1092.4 292.6,1091.8 294.3,1091.2 295.9,1090.5 297.6,1089.8 299.3,1089.1 301,1088.3 302.7,1087.5 304.3,1086.6 306,1085.7 307.7,1084.8 309.4,1083.8 311,1082.8 312.7,1081.7 314.4,1080.6 316,1079.6 317.7,1078.5 319.4,1077.4 321.1,1076.2 322.8,1075 324.4,1073.9 326.1,1073 327.8,1072.2 329.6,1071.7 331.4,1071.3 333.2,1071 335,1070.9 336.5,1070.9 337.8,1071 338.7,1071.2 339.4,1071.7 339.9,1072.2 340.3,1072.7 340.6,1073.2 340.8,1073.5" fill="none" stroke="#dba560" stroke-opacity="0.55" stroke-width="0.7"/>
<polyline points="226,1086.1 227.2,1085.3 229,1084.1 231,1082.8 233.2,1081.5 235.4,1080.4 237.3,1079.8 239.1,1079.7 240.8,1080 242.4,1080.5 244.1,1081.1 245.7,1081.8 247.4,1082.3 249.1,1082.8 250.7,1083.3 252.4,1083.9 254.1,1084.3 255.7,1084.7 257.4,1084.8 259.1,1084.7 260.8,1084.3 262.4,1083.9 264.1,1083.3 265.8,1082.8 267.5,1082.3 269.2,1081.9 270.8,1081.5 272.5,1081.1 274.2,1080.6 275.8,1080.2 277.5,1079.8 279.2,1079.4 280.9,1079 282.6,1078.6 284.2,1078.2 285.9,1077.8 287.6,1077.3 289.3,1076.8 290.9,1076.2 292.6,1075.6 294.3,1074.9 295.9,1074.2 297.6,1073.5 299.3,1072.8 301,1072 302.7,1071.2 304.3,1070.4 306,1069.5 307.7,1068.5 309.4,1067.4 311,1066.1 312.7,1064.8 314.4,1063.5 316,1062.2 317.7,1061 319.4,1059.8 321.1,1058.7 322.8,1057.6 324.4,1056.5 326.1,1055.5 327.8,1054.7 329.6,1054 331.4,1053.3 333.2,1052.7 335,1052.3 336.5,1051.9 337.8,1051.7 338.7,1051.6 339.4,1051.8 339.9,1052 340.3,1052.3 340.6,1052.5 340.8,1052.7" fill="none" stroke="#e8963c" stroke-width="1.1" stroke-dasharray="3.4 2.4"/>
<polygon points="226,1074.1 227.2,1073.2 229,1071.8 231,1070.2 233.2,1068.6 235.4,1067.4 237.3,1066.6 239.1,1066.4 240.8,1066.7 242.4,1067.2 244.1,1067.9 245.7,1068.6 247.4,1069.1 249.1,1069.6 250.7,1070.2 252.4,1070.7 254.1,1071.2 255.7,1071.5 257.4,1071.6 259.1,1071.3 260.8,1070.8 262.4,1070 264.1,1069.2 265.8,1068.4 267.5,1067.8 269.2,1067.3 270.8,1066.8 272.5,1066.4 274.2,1066 275.8,1065.6 277.5,1065.3 279.2,1065.1 280.9,1064.9 282.6,1064.8 284.2,1064.6 285.9,1064.4 287.6,1064.1 289.3,1063.6 290.9,1063.1 292.6,1062.4 294.3,1061.8 295.9,1061 297.6,1060.3 299.3,1059.6 301,1058.8 302.7,1058 304.3,1057.1 306,1056.2 307.7,1055.3 309.4,1054.4 311,1053.4 312.7,1052.4 314.4,1051.3 316,1050.2 317.7,1049 319.4,1047.6 321.1,1046.1 322.8,1044.5 324.4,1042.9 326.1,1041.5 327.8,1040.2 329.6,1039.1 331.4,1038.1 333.2,1037.2 335,1036.5 336.5,1035.8 337.8,1035.2 338.7,1034.8 339.4,1034.4 339.9,1034.2 340.3,1034.1 340.6,1034 340.8,1033.9 340.8,1072.9 340.6,1072.6 340.3,1072.1 339.9,1071.6 339.4,1071.1 338.7,1070.6 337.8,1070.4 336.5,1070.3 335,1070.3 333.2,1070.4 331.4,1070.7 329.6,1071.1 327.8,1071.6 326.1,1072.4 324.4,1073.3 322.8,1074.4 321.1,1075.6 319.4,1076.8 317.7,1077.9 316,1079 314.4,1080 312.7,1081.1 311,1082.2 309.4,1083.2 307.7,1084.2 306,1085.1 304.3,1086 302.7,1086.9 301,1087.7 299.3,1088.5 297.6,1089.2 295.9,1089.9 294.3,1090.6 292.6,1091.2 290.9,1091.8 289.3,1092.4 287.6,1093 285.9,1093.6 284.2,1094.3 282.6,1094.9 280.9,1095.6 279.2,1096.2 277.5,1096.7 275.8,1097.2 274.2,1097.7 272.5,1098.2 270.8,1098.6 269.2,1098.9 267.5,1099.2 265.8,1099.4 264.1,1099.5 262.4,1099.5 260.8,1099.5 259.1,1099.4 257.4,1099.2 255.7,1098.9 254.1,1098.6 252.4,1098.1 250.7,1097.6 249.1,1097.1 247.4,1096.7 245.7,1096.2 244.1,1095.5 242.4,1094.8 240.8,1094.3 239.1,1094 237.3,1094.2 235.4,1094.9 233.2,1096.2 231,1097.7 229,1099.2 227.2,1100.6 226,1101.5" fill="#4f8a3a" fill-opacity="0.27"/>
<polyline points="226,1074.1 227.2,1073.2 229,1071.8 231,1070.2 233.2,1068.6 235.4,1067.4 237.3,1066.6 239.1,1066.4 240.8,1066.7 242.4,1067.2 244.1,1067.9 245.7,1068.6 247.4,1069.1 249.1,1069.6 250.7,1070.2 252.4,1070.7 254.1,1071.2 255.7,1071.5 257.4,1071.6 259.1,1071.3 260.8,1070.8 262.4,1070 264.1,1069.2 265.8,1068.4 267.5,1067.8 269.2,1067.3 270.8,1066.8 272.5,1066.4 274.2,1066 275.8,1065.6 277.5,1065.3 279.2,1065.1 280.9,1064.9 282.6,1064.8 284.2,1064.6 285.9,1064.4 287.6,1064.1 289.3,1063.6 290.9,1063.1 292.6,1062.4 294.3,1061.8 295.9,1061 297.6,1060.3 299.3,1059.6 301,1058.8 302.7,1058 304.3,1057.1 306,1056.2 307.7,1055.3 309.4,1054.4 311,1053.4 312.7,1052.4 314.4,1051.3 316,1050.2 317.7,1049 319.4,1047.6 321.1,1046.1 322.8,1044.5 324.4,1042.9 326.1,1041.5 327.8,1040.2 329.6,1039.1 331.4,1038.1 333.2,1037.2 335,1036.5 336.5,1035.8 337.8,1035.2 338.7,1034.8 339.4,1034.4 339.9,1034.2 340.3,1034.1 340.6,1034 340.8,1033.9" fill="none" stroke="#5f8f4f" stroke-opacity="0.55" stroke-width="0.7"/>
<polyline points="226,1101.5 227.2,1100.6 229,1099.2 231,1097.7 233.2,1096.2 235.4,1094.9 237.3,1094.2 239.1,1094 240.8,1094.3 242.4,1094.8 244.1,1095.5 245.7,1096.2 247.4,1096.7 249.1,1097.1 250.7,1097.6 252.4,1098.1 254.1,1098.6 255.7,1098.9 257.4,1099.2 259.1,1099.4 260.8,1099.5 262.4,1099.5 264.1,1099.5 265.8,1099.4 267.5,1099.2 269.2,1098.9 270.8,1098.6 272.5,1098.2 274.2,1097.7 275.8,1097.2 277.5,1096.7 279.2,1096.2 280.9,1095.6 282.6,1094.9 284.2,1094.3 285.9,1093.6 287.6,1093 289.3,1092.4 290.9,1091.8 292.6,1091.2 294.3,1090.6 295.9,1089.9 297.6,1089.2 299.3,1088.5 301,1087.7 302.7,1086.9 304.3,1086 306,1085.1 307.7,1084.2 309.4,1083.2 311,1082.2 312.7,1081.1 314.4,1080 316,1079 317.7,1077.9 319.4,1076.8 321.1,1075.6 322.8,1074.4 324.4,1073.3 326.1,1072.4 327.8,1071.6 329.6,1071.1 331.4,1070.7 333.2,1070.4 335,1070.3 336.5,1070.3 337.8,1070.4 338.7,1070.6 339.4,1071.1 339.9,1071.6 340.3,1072.1 340.6,1072.6 340.8,1072.9" fill="none" stroke="#5f8f4f" stroke-opacity="0.55" stroke-width="0.7"/>
<polyline points="226,1087.1 227.2,1086.3 229,1085.1 231,1083.8 233.2,1082.5 235.4,1081.4 237.3,1080.8 239.1,1080.7 240.8,1081 242.4,1081.5 244.1,1082.1 245.7,1082.8 247.4,1083.3 249.1,1083.8 250.7,1084.3 252.4,1084.9 254.1,1085.3 255.7,1085.7 257.4,1085.8 259.1,1085.7 260.8,1085.3 262.4,1084.9 264.1,1084.3 265.8,1083.8 267.5,1083.3 269.2,1082.9 270.8,1082.5 272.5,1082.1 274.2,1081.6 275.8,1081.2 277.5,1080.8 279.2,1080.4 280.9,1080 282.6,1079.6 284.2,1079.2 285.9,1078.8 287.6,1078.3 289.3,1077.8 290.9,1077.2 292.6,1076.6 294.3,1075.9 295.9,1075.2 297.6,1074.5 299.3,1073.8 301,1073 302.7,1072.2 304.3,1071.4 306,1070.5 307.7,1069.5 309.4,1068.4 311,1067.1 312.7,1065.8 314.4,1064.5 316,1063.2 317.7,1062 319.4,1060.8 321.1,1059.7 322.8,1058.6 324.4,1057.5 326.1,1056.5 327.8,1055.7 329.6,1055 331.4,1054.3 333.2,1053.7 335,1053.3 336.5,1052.9 337.8,1052.7 338.7,1052.6 339.4,1052.8 339.9,1053 340.3,1053.3 340.6,1053.5 340.8,1053.7" fill="none" stroke="#478535" stroke-width="1.1" stroke-dasharray="3.4 2.4"/>
<line x1="226" y1="1083.5" x2="239.8" y2="1083.5" stroke="#8a8a8a" stroke-width="1"/>
<line x1="256.2" y1="1083.5" x2="270" y2="1083.5" stroke="#8a8a8a" stroke-width="1"/>
<line x1="286.3" y1="1083.5" x2="300.1" y2="1083.5" stroke="#8a8a8a" stroke-width="1"/>
<line x1="316.5" y1="1083.5" x2="330.8" y2="1083.5" stroke="#8a8a8a" stroke-width="1"/>
</g>
<path d="M226 985.4V1100.5H340.8" fill="none" stroke="#333" stroke-width="1.2"/>
<line x1="226" y1="989.2" x2="228.2" y2="989.2" stroke="#333" stroke-width="0.9"/>
<text transform="translate(224 993.2) scale(1.13 1)" font-size="11.6" text-anchor="end">0.8</text>
<line x1="226" y1="1005.5" x2="228.2" y2="1005.5" stroke="#333" stroke-width="0.9"/>
<text transform="translate(224 1009.5) scale(1.13 1)" font-size="11.6" text-anchor="end">0.75</text>
<line x1="226" y1="1021.4" x2="228.2" y2="1021.4" stroke="#333" stroke-width="0.9"/>
<text transform="translate(224 1025.5) scale(1.13 1)" font-size="11.6" text-anchor="end">0.7</text>
<line x1="226" y1="1037.2" x2="228.2" y2="1037.2" stroke="#333" stroke-width="0.9"/>
<text transform="translate(224 1041.2) scale(1.13 1)" font-size="11.6" text-anchor="end">0.65</text>
<line x1="226" y1="1052.8" x2="228.2" y2="1052.8" stroke="#333" stroke-width="0.9"/>
<text transform="translate(224 1056.8) scale(1.13 1)" font-size="11.6" text-anchor="end">0.6</text>
<line x1="226" y1="1069.1" x2="228.2" y2="1069.1" stroke="#333" stroke-width="0.9"/>
<text transform="translate(224 1073.1) scale(1.13 1)" font-size="11.6" text-anchor="end">0.55</text>
<line x1="226" y1="1084.9" x2="228.2" y2="1084.9" stroke="#333" stroke-width="0.9"/>
<text transform="translate(224 1089) scale(1.13 1)" font-size="11.6" text-anchor="end">0.5</text>
<line x1="256.2" y1="1100.5" x2="256.2" y2="1098.3" stroke="#333" stroke-width="0.9"/>
<text transform="translate(256.2 1111.8) scale(1.13 1)" font-size="11.6" text-anchor="middle">0</text>
<line x1="287.6" y1="1100.5" x2="287.6" y2="1098.3" stroke="#333" stroke-width="0.9"/>
<text transform="translate(287.6 1111.8) scale(1.13 1)" font-size="11.6" text-anchor="middle">0.2</text>
<line x1="318.2" y1="1100.5" x2="318.2" y2="1098.3" stroke="#333" stroke-width="0.9"/>
<text transform="translate(318.2 1111.8) scale(1.13 1)" font-size="11.6" text-anchor="middle">0.4</text>
<text x="259.2" y="1010.6" font-size="10">p=0.0009</text>
<text x="259.2" y="1020.1" font-size="10">p=0.0009</text>
<rect x="302.2" y="1004" width="38.6" height="7.3" fill="#5a913c"/>
<rect x="307.7" y="1013.8" width="33.1" height="6.8" fill="#eb9641"/>
<text x="280" y="1133" font-size="13.15">Time, relative to stimulus onset (s)</text>
<text x="451.2" y="977.7" font-size="19.3" text-anchor="middle" font-weight="bold">FEF</text>
<clipPath id="c19"><rect x="394" y="927.3" width="116.1" height="175.2"/></clipPath>
<g clip-path="url(#c19)">
<polygon points="394,1086.1 396.4,1086 399.9,1085.9 403.9,1085.8 408.1,1085.6 412.1,1085.5 415.4,1085.3 418.1,1085.2 420.4,1085.1 422.5,1084.9 424.5,1084.8 426.2,1084.6 427.9,1084.3 429.4,1084 430.7,1083.6 431.9,1083.2 433,1082.7 434,1082.1 435,1081.4 436,1080.7 436.9,1079.9 437.8,1079 438.6,1078 439.5,1076.8 440.3,1075.4 441.2,1073.7 442,1071.7 442.8,1069.6 443.6,1067.3 444.5,1064.9 445.3,1062.4 446.1,1059.8 447,1057.1 447.8,1054.3 448.6,1051.4 449.5,1048.6 450.3,1045.9 451.1,1043.3 452,1040.6 452.8,1038.1 453.7,1035.5 454.6,1033.2 455.4,1030.9 456.2,1028.8 457.1,1026.8 457.9,1024.9 458.7,1023.1 459.5,1021.4 460.4,1019.9 461.3,1018.5 462.1,1017.2 463,1016 463.9,1015 464.9,1014.1 466,1013.4 467.2,1012.9 468.6,1012.5 470,1012.3 471.5,1012.2 472.9,1012.2 474.4,1012.2 475.8,1012.2 477.3,1012.3 478.7,1012.5 480.2,1012.7 481.7,1013 483.2,1013.2 484.8,1013.5 486.5,1013.8 488.2,1014.1 489.9,1014.5 491.6,1014.8 493.3,1015 495,1015.2 496.8,1015.3 498.5,1015.4 500.2,1015.5 501.8,1015.5 503.3,1015.6 504.6,1015.6 505.9,1015.7 507.1,1015.7 508.1,1015.7 509,1015.7 509.6,1015.7 509.6,1033.2 509,1032.9 508.1,1032.6 507.1,1032.2 505.9,1031.7 504.6,1031.2 503.3,1030.6 501.8,1029.9 500.2,1029.2 498.5,1028.4 496.8,1027.6 495,1026.8 493.3,1026.1 491.6,1025.5 489.9,1024.8 488.2,1024.2 486.5,1023.7 484.8,1023.2 483.2,1022.8 481.6,1022.4 480,1022.1 478.5,1021.8 477,1021.5 475.6,1021.5 474.4,1021.6 473.3,1021.9 472.4,1022.4 471.7,1023 470.9,1023.7 470.2,1024.6 469.5,1025.5 468.8,1026.5 468.1,1027.6 467.5,1028.7 466.8,1030 466.1,1031.4 465.4,1033 464.6,1034.7 463.8,1036.5 463,1038.5 462.1,1040.6 461.2,1042.7 460.4,1045 459.6,1047.4 458.7,1049.9 457.9,1052.5 457,1055.1 456.2,1057.8 455.3,1060.5 454.4,1063.2 453.6,1066 452.7,1068.8 451.8,1071.6 450.9,1074.4 450,1077 449.1,1079.6 448.2,1082.3 447.3,1084.9 446.4,1087.4 445.5,1089.6 444.5,1091.5 443.5,1093.1 442.5,1094.3 441.5,1095.4 440.5,1096.2 439.3,1097 438,1097.7 436.6,1098.3 435,1098.9 433.3,1099.3 431.6,1099.6 429.8,1099.9 427.9,1100.2 426.1,1100.5 424.2,1100.7 422.4,1100.8 420.3,1101 418,1101.2 415.4,1101.5 412.1,1101.9 408.1,1102.3 403.9,1102.8 399.9,1103.3 396.4,1103.7 394,1104" fill="#e8963c" fill-opacity="0.27"/>
<polyline points="394,1086.1 396.4,1086 399.9,1085.9 403.9,1085.8 408.1,1085.6 412.1,1085.5 415.4,1085.3 418.1,1085.2 420.4,1085.1 422.5,1084.9 424.5,1084.8 426.2,1084.6 427.9,1084.3 429.4,1084 430.7,1083.6 431.9,1083.2 433,1082.7 434,1082.1 435,1081.4 436,1080.7 436.9,1079.9 437.8,1079 438.6,1078 439.5,1076.8 440.3,1075.4 441.2,1073.7 442,1071.7 442.8,1069.6 443.6,1067.3 444.5,1064.9 445.3,1062.4 446.1,1059.8 447,1057.1 447.8,1054.3 448.6,1051.4 449.5,1048.6 450.3,1045.9 451.1,1043.3 452,1040.6 452.8,1038.1 453.7,1035.5 454.6,1033.2 455.4,1030.9 456.2,1028.8 457.1,1026.8 457.9,1024.9 458.7,1023.1 459.5,1021.4 460.4,1019.9 461.3,1018.5 462.1,1017.2 463,1016 463.9,1015 464.9,1014.1 466,1013.4 467.2,1012.9 468.6,1012.5 470,1012.3 471.5,1012.2 472.9,1012.2 474.4,1012.2 475.8,1012.2 477.3,1012.3 478.7,1012.5 480.2,1012.7 481.7,1013 483.2,1013.2 484.8,1013.5 486.5,1013.8 488.2,1014.1 489.9,1014.5 491.6,1014.8 493.3,1015 495,1015.2 496.8,1015.3 498.5,1015.4 500.2,1015.5 501.8,1015.5 503.3,1015.6 504.6,1015.6 505.9,1015.7 507.1,1015.7 508.1,1015.7 509,1015.7 509.6,1015.7" fill="none" stroke="#dba560" stroke-opacity="0.55" stroke-width="0.7"/>
<polyline points="394,1104 396.4,1103.7 399.9,1103.3 403.9,1102.8 408.1,1102.3 412.1,1101.9 415.4,1101.5 418,1101.2 420.3,1101 422.4,1100.8 424.2,1100.7 426.1,1100.5 427.9,1100.2 429.8,1099.9 431.6,1099.6 433.3,1099.3 435,1098.9 436.6,1098.3 438,1097.7 439.3,1097 440.5,1096.2 441.5,1095.4 442.5,1094.3 443.5,1093.1 444.5,1091.5 445.5,1089.6 446.4,1087.4 447.3,1084.9 448.2,1082.3 449.1,1079.6 450,1077 450.9,1074.4 451.8,1071.6 452.7,1068.8 453.6,1066 454.4,1063.2 455.3,1060.5 456.2,1057.8 457,1055.1 457.9,1052.5 458.7,1049.9 459.6,1047.4 460.4,1045 461.2,1042.7 462.1,1040.6 463,1038.5 463.8,1036.5 464.6,1034.7 465.4,1033 466.1,1031.4 466.8,1030 467.5,1028.7 468.1,1027.6 468.8,1026.5 469.5,1025.5 470.2,1024.6 470.9,1023.7 471.7,1023 472.4,1022.4 473.3,1021.9 474.4,1021.6 475.6,1021.5 477,1021.5 478.5,1021.8 480,1022.1 481.6,1022.4 483.2,1022.8 484.8,1023.2 486.5,1023.7 488.2,1024.2 489.9,1024.8 491.6,1025.5 493.3,1026.1 495,1026.8 496.8,1027.6 498.5,1028.4 500.2,1029.2 501.8,1029.9 503.3,1030.6 504.6,1031.2 505.9,1031.7 507.1,1032.2 508.1,1032.6 509,1032.9 509.6,1033.2" fill="none" stroke="#dba560" stroke-opacity="0.55" stroke-width="0.7"/>
<polyline points="394,1094.5 396.4,1094.5 399.9,1094.4 403.9,1094.3 408.1,1094.2 412.1,1094.1 415.4,1094 418,1093.8 420.4,1093.6 422.4,1093.4 424.3,1093.2 426.1,1092.9 427.9,1092.7 429.6,1092.5 431.2,1092.4 432.7,1092.2 434.1,1092 435.4,1091.6 436.7,1091 437.9,1090.2 439,1089.3 440.1,1088.2 441.1,1087 442.1,1085.5 443,1083.9 443.9,1082 444.8,1079.9 445.6,1077.6 446.4,1075.1 447.2,1072.6 448,1070.1 448.8,1067.5 449.7,1064.8 450.5,1062 451.3,1059.2 452.2,1056.5 453,1053.8 453.8,1051.2 454.7,1048.5 455.6,1045.9 456.4,1043.4 457.3,1041 458.1,1038.7 458.9,1036.6 459.8,1034.5 460.6,1032.6 461.4,1030.8 462.3,1029 463.1,1027.4 463.9,1025.9 464.7,1024.4 465.5,1023.1 466.3,1021.8 467.2,1020.7 468.1,1019.8 469,1019 470,1018.4 471,1018 472.1,1017.7 473.2,1017.4 474.4,1017.3 475.7,1017.3 477.1,1017.4 478.6,1017.6 480.1,1017.9 481.6,1018.2 483.2,1018.6 484.8,1019 486.5,1019.5 488.2,1020.1 489.9,1020.6 491.6,1021.1 493.3,1021.6 495,1022 496.8,1022.4 498.5,1022.8 500.2,1023.1 501.8,1023.4 503.3,1023.6 504.6,1023.7 505.9,1023.7 507.1,1023.7 508.1,1023.7 509,1023.6 509.6,1023.6" fill="none" stroke="#e8963c" stroke-width="1.1" stroke-dasharray="3.4 2.4"/>
<polygon points="394,1086.7 396.4,1086.6 399.9,1086.5 403.9,1086.4 408.1,1086.2 412.1,1086.1 415.4,1085.9 418.1,1085.8 420.4,1085.7 422.5,1085.5 424.5,1085.4 426.2,1085.2 427.9,1084.9 429.4,1084.6 430.7,1084.2 431.9,1083.8 433,1083.3 434,1082.7 435,1082 436,1081.3 436.9,1080.5 437.8,1079.6 438.6,1078.6 439.5,1077.4 440.3,1076 441.2,1074.3 442,1072.3 442.8,1070.2 443.6,1067.9 444.5,1065.5 445.3,1063 446.1,1060.4 447,1057.7 447.8,1054.9 448.6,1052 449.5,1049.2 450.3,1046.5 451.1,1043.9 452,1041.2 452.8,1038.7 453.7,1036.1 454.6,1033.8 455.4,1031.5 456.2,1029.4 457.1,1027.4 457.9,1025.5 458.7,1023.7 459.5,1022 460.4,1020.5 461.3,1019.1 462.1,1017.8 463,1016.6 463.9,1015.6 464.9,1014.7 466,1014 467.2,1013.5 468.6,1013.1 470,1012.9 471.5,1012.8 472.9,1012.8 474.4,1012.8 475.8,1012.8 477.3,1012.9 478.7,1013.1 480.2,1013.3 481.7,1013.6 483.2,1013.8 484.8,1014.1 486.5,1014.4 488.2,1014.7 489.9,1015.1 491.6,1015.4 493.3,1015.6 495,1015.8 496.8,1015.9 498.5,1016 500.2,1016.1 501.8,1016.1 503.3,1016.2 504.6,1016.2 505.9,1016.3 507.1,1016.3 508.1,1016.3 509,1016.3 509.6,1016.3 509.6,1032.2 509,1031.9 508.1,1031.6 507.1,1031.2 505.9,1030.7 504.6,1030.2 503.3,1029.6 501.8,1028.9 500.2,1028.2 498.5,1027.4 496.8,1026.6 495,1025.8 493.3,1025.1 491.6,1024.5 489.9,1023.8 488.2,1023.2 486.5,1022.7 484.8,1022.2 483.2,1021.8 481.6,1021.4 480,1021.1 478.5,1020.8 477,1020.5 475.6,1020.5 474.4,1020.6 473.3,1020.9 472.4,1021.4 471.7,1022 470.9,1022.7 470.2,1023.6 469.5,1024.5 468.8,1025.5 468.1,1026.6 467.5,1027.7 466.8,1029 466.1,1030.4 465.4,1032 464.6,1033.7 463.8,1035.5 463,1037.5 462.1,1039.6 461.2,1041.7 460.4,1044 459.6,1046.4 458.7,1048.9 457.9,1051.5 457,1054.1 456.2,1056.8 455.3,1059.5 454.4,1062.2 453.6,1065 452.7,1067.8 451.8,1070.6 450.9,1073.4 450,1076 449.1,1078.6 448.2,1081.3 447.3,1083.9 446.4,1086.4 445.5,1088.6 444.5,1090.5 443.5,1092.1 442.5,1093.3 441.5,1094.4 440.5,1095.2 439.3,1096 438,1096.7 436.6,1097.3 435,1097.9 433.3,1098.3 431.6,1098.6 429.8,1098.9 427.9,1099.2 426.1,1099.5 424.2,1099.7 422.4,1099.8 420.3,1100 418,1100.2 415.4,1100.5 412.1,1100.9 408.1,1101.3 403.9,1101.8 399.9,1102.3 396.4,1102.7 394,1103" fill="#4f8a3a" fill-opacity="0.27"/>
<polyline points="394,1086.7 396.4,1086.6 399.9,1086.5 403.9,1086.4 408.1,1086.2 412.1,1086.1 415.4,1085.9 418.1,1085.8 420.4,1085.7 422.5,1085.5 424.5,1085.4 426.2,1085.2 427.9,1084.9 429.4,1084.6 430.7,1084.2 431.9,1083.8 433,1083.3 434,1082.7 435,1082 436,1081.3 436.9,1080.5 437.8,1079.6 438.6,1078.6 439.5,1077.4 440.3,1076 441.2,1074.3 442,1072.3 442.8,1070.2 443.6,1067.9 444.5,1065.5 445.3,1063 446.1,1060.4 447,1057.7 447.8,1054.9 448.6,1052 449.5,1049.2 450.3,1046.5 451.1,1043.9 452,1041.2 452.8,1038.7 453.7,1036.1 454.6,1033.8 455.4,1031.5 456.2,1029.4 457.1,1027.4 457.9,1025.5 458.7,1023.7 459.5,1022 460.4,1020.5 461.3,1019.1 462.1,1017.8 463,1016.6 463.9,1015.6 464.9,1014.7 466,1014 467.2,1013.5 468.6,1013.1 470,1012.9 471.5,1012.8 472.9,1012.8 474.4,1012.8 475.8,1012.8 477.3,1012.9 478.7,1013.1 480.2,1013.3 481.7,1013.6 483.2,1013.8 484.8,1014.1 486.5,1014.4 488.2,1014.7 489.9,1015.1 491.6,1015.4 493.3,1015.6 495,1015.8 496.8,1015.9 498.5,1016 500.2,1016.1 501.8,1016.1 503.3,1016.2 504.6,1016.2 505.9,1016.3 507.1,1016.3 508.1,1016.3 509,1016.3 509.6,1016.3" fill="none" stroke="#5f8f4f" stroke-opacity="0.55" stroke-width="0.7"/>
<polyline points="394,1103 396.4,1102.7 399.9,1102.3 403.9,1101.8 408.1,1101.3 412.1,1100.9 415.4,1100.5 418,1100.2 420.3,1100 422.4,1099.8 424.2,1099.7 426.1,1099.5 427.9,1099.2 429.8,1098.9 431.6,1098.6 433.3,1098.3 435,1097.9 436.6,1097.3 438,1096.7 439.3,1096 440.5,1095.2 441.5,1094.4 442.5,1093.3 443.5,1092.1 444.5,1090.5 445.5,1088.6 446.4,1086.4 447.3,1083.9 448.2,1081.3 449.1,1078.6 450,1076 450.9,1073.4 451.8,1070.6 452.7,1067.8 453.6,1065 454.4,1062.2 455.3,1059.5 456.2,1056.8 457,1054.1 457.9,1051.5 458.7,1048.9 459.6,1046.4 460.4,1044 461.2,1041.7 462.1,1039.6 463,1037.5 463.8,1035.5 464.6,1033.7 465.4,1032 466.1,1030.4 466.8,1029 467.5,1027.7 468.1,1026.6 468.8,1025.5 469.5,1024.5 470.2,1023.6 470.9,1022.7 471.7,1022 472.4,1021.4 473.3,1020.9 474.4,1020.6 475.6,1020.5 477,1020.5 478.5,1020.8 480,1021.1 481.6,1021.4 483.2,1021.8 484.8,1022.2 486.5,1022.7 488.2,1023.2 489.9,1023.8 491.6,1024.5 493.3,1025.1 495,1025.8 496.8,1026.6 498.5,1027.4 500.2,1028.2 501.8,1028.9 503.3,1029.6 504.6,1030.2 505.9,1030.7 507.1,1031.2 508.1,1031.6 509,1031.9 509.6,1032.2" fill="none" stroke="#5f8f4f" stroke-opacity="0.55" stroke-width="0.7"/>
<polyline points="394,1093.5 396.4,1093.5 399.9,1093.4 403.9,1093.3 408.1,1093.2 412.1,1093.1 415.4,1093 418,1092.8 420.4,1092.6 422.4,1092.4 424.3,1092.2 426.1,1091.9 427.9,1091.7 429.6,1091.5 431.2,1091.4 432.7,1091.2 434.1,1091 435.4,1090.6 436.7,1090 437.9,1089.2 439,1088.3 440.1,1087.2 441.1,1086 442.1,1084.5 443,1082.9 443.9,1081 444.8,1078.9 445.6,1076.6 446.4,1074.1 447.2,1071.6 448,1069.1 448.8,1066.5 449.7,1063.8 450.5,1061 451.3,1058.2 452.2,1055.5 453,1052.8 453.8,1050.2 454.7,1047.5 455.6,1044.9 456.4,1042.4 457.3,1040 458.1,1037.7 458.9,1035.6 459.8,1033.5 460.6,1031.6 461.4,1029.8 462.3,1028 463.1,1026.4 463.9,1024.9 464.7,1023.4 465.5,1022.1 466.3,1020.8 467.2,1019.7 468.1,1018.8 469,1018 470,1017.4 471,1017 472.1,1016.7 473.2,1016.4 474.4,1016.3 475.7,1016.3 477.1,1016.4 478.6,1016.6 480.1,1016.9 481.6,1017.2 483.2,1017.6 484.8,1018 486.5,1018.5 488.2,1019.1 489.9,1019.6 491.6,1020.1 493.3,1020.6 495,1021 496.8,1021.4 498.5,1021.8 500.2,1022.1 501.8,1022.4 503.3,1022.6 504.6,1022.7 505.9,1022.7 507.1,1022.7 508.1,1022.7 509,1022.6 509.6,1022.6" fill="none" stroke="#478535" stroke-width="1.1" stroke-dasharray="3.4 2.4"/>
<line x1="394" y1="1093.5" x2="409" y2="1093.5" stroke="#8a8a8a" stroke-width="1"/>
<line x1="425.4" y1="1093.5" x2="439.2" y2="1093.5" stroke="#8a8a8a" stroke-width="1"/>
<line x1="454.8" y1="1093.5" x2="468.6" y2="1093.5" stroke="#8a8a8a" stroke-width="1"/>
<line x1="485.2" y1="1093.5" x2="499.5" y2="1093.5" stroke="#8a8a8a" stroke-width="1"/>
</g>
<path d="M394 987.3V1102.5H509.6" fill="none" stroke="#333" stroke-width="1.2"/>
<line x1="394" y1="1008.8" x2="396.2" y2="1008.8" stroke="#333" stroke-width="0.9"/>
<text transform="translate(391 1012.8) scale(1.13 1)" font-size="11.6" text-anchor="end">1</text>
<line x1="394" y1="1025.7" x2="396.2" y2="1025.7" stroke="#333" stroke-width="0.9"/>
<text transform="translate(391 1029.8) scale(1.13 1)" font-size="11.6" text-anchor="end">0.9</text>
<line x1="394" y1="1042.6" x2="396.2" y2="1042.6" stroke="#333" stroke-width="0.9"/>
<text transform="translate(391 1046.6) scale(1.13 1)" font-size="11.6" text-anchor="end">0.8</text>
<line x1="394" y1="1059.6" x2="396.2" y2="1059.6" stroke="#333" stroke-width="0.9"/>
<text transform="translate(391 1063.6) scale(1.13 1)" font-size="11.6" text-anchor="end">0.7</text>
<line x1="394" y1="1076.6" x2="396.2" y2="1076.6" stroke="#333" stroke-width="0.9"/>
<text transform="translate(391 1080.6) scale(1.13 1)" font-size="11.6" text-anchor="end">0.6</text>
<line x1="394" y1="1093.8" x2="396.2" y2="1093.8" stroke="#333" stroke-width="0.9"/>
<text transform="translate(391 1097.8) scale(1.13 1)" font-size="11.6" text-anchor="end">0.5</text>
<line x1="424.9" y1="1102.5" x2="424.9" y2="1100.3" stroke="#333" stroke-width="0.9"/>
<text transform="translate(424.9 1113) scale(1.13 1)" font-size="11.6" text-anchor="middle">0</text>
<line x1="456.1" y1="1102.5" x2="456.1" y2="1100.3" stroke="#333" stroke-width="0.9"/>
<text transform="translate(456.1 1113) scale(1.13 1)" font-size="11.6" text-anchor="middle">0.2</text>
<line x1="487" y1="1102.5" x2="487" y2="1100.3" stroke="#333" stroke-width="0.9"/>
<text transform="translate(487 1113) scale(1.13 1)" font-size="11.6" text-anchor="middle">0.4</text>
<text x="398.5" y="997.8" font-size="10">p=0.0009</text>
<text x="398.5" y="1007.4" font-size="10">p=0.0009</text>
<rect x="441.8" y="990.8" width="67.8" height="7" fill="#5a913c"/>
<rect x="441.8" y="1001.1" width="67.8" height="6.8" fill="#eb9641"/>
<text x="612.2" y="978.2" font-size="19.3" text-anchor="middle" font-weight="bold">PAR</text>
<clipPath id="c20"><rect x="557.7" y="925.8" width="115.8" height="175.5"/></clipPath>
<g clip-path="url(#c20)">
<polygon points="557.7,1069.7 559.1,1070.2 561,1070.8 563.3,1071.6 565.8,1072.3 568.3,1073 570.8,1073.5 573.2,1073.8 575.8,1074 578.4,1074.1 581,1074.1 583.5,1074.1 585.9,1074 588.2,1073.9 590.4,1073.7 592.6,1073.4 594.7,1073.1 596.6,1072.7 598.4,1072.2 600,1071.6 601.3,1070.9 602.5,1070.1 603.7,1069.3 604.8,1068.3 606,1067.2 607.3,1066 608.5,1064.5 609.8,1063 611,1061.5 612.3,1059.9 613.5,1058.4 614.7,1056.9 616,1055.4 617.2,1053.8 618.5,1052.3 619.7,1050.9 621,1049.6 622.3,1048.4 623.5,1047.2 624.8,1046.1 626.1,1045.1 627.3,1044.2 628.6,1043.3 629.9,1042.5 631.1,1041.8 632.4,1041.2 633.6,1040.6 634.8,1040 636.1,1039.5 637.4,1039 638.6,1038.6 639.9,1038.2 641.2,1037.8 642.4,1037.4 643.7,1037 645,1036.6 646.2,1036.1 647.5,1035.7 648.7,1035.2 650,1034.8 651.2,1034.5 652.4,1034.2 653.7,1034.1 654.9,1033.9 656.2,1033.7 657.4,1033.6 658.7,1033.3 660,1032.9 661.3,1032.5 662.5,1032.1 663.8,1031.6 665.1,1031.2 666.3,1030.8 667.5,1030.5 668.8,1030.2 670.1,1030 671.3,1029.8 672.3,1029.6 673,1029.5 673,1069.5 672.3,1069.1 671.3,1068.5 670.1,1067.9 668.8,1067.2 667.5,1066.5 666.3,1066 665.1,1065.6 663.8,1065.1 662.5,1064.8 661.3,1064.5 660,1064.2 658.7,1064 657.4,1063.8 656.2,1063.7 654.9,1063.6 653.7,1063.6 652.4,1063.8 651.2,1064 650,1064.4 648.7,1065 647.5,1065.7 646.2,1066.5 645,1067.2 643.7,1067.8 642.4,1068.3 641.2,1068.8 639.9,1069.2 638.6,1069.6 637.4,1070 636.1,1070.3 634.8,1070.5 633.6,1070.6 632.4,1070.7 631.1,1070.8 629.9,1071.1 628.6,1071.6 627.3,1072.3 626.1,1073.2 624.8,1074.2 623.5,1075.4 622.3,1076.6 621,1077.8 619.7,1079.1 618.5,1080.5 617.2,1082 616,1083.6 614.7,1085.1 613.5,1086.6 612.3,1088.1 611,1089.7 609.8,1091.2 608.5,1092.7 607.3,1094.2 606,1095.4 604.8,1096.5 603.7,1097.5 602.5,1098.4 601.3,1099.1 600,1099.8 598.4,1100.4 596.6,1100.9 594.7,1101.2 592.6,1101.4 590.4,1101.6 588.2,1101.7 585.9,1101.7 583.5,1101.7 581,1101.5 578.4,1101.4 575.8,1101.1 573.2,1100.8 570.8,1100.4 568.3,1099.9 565.8,1099.2 563.3,1098.5 561,1097.7 559.1,1097.1 557.7,1096.7" fill="#e8963c" fill-opacity="0.27"/>
<polyline points="557.7,1069.7 559.1,1070.2 561,1070.8 563.3,1071.6 565.8,1072.3 568.3,1073 570.8,1073.5 573.2,1073.8 575.8,1074 578.4,1074.1 581,1074.1 583.5,1074.1 585.9,1074 588.2,1073.9 590.4,1073.7 592.6,1073.4 594.7,1073.1 596.6,1072.7 598.4,1072.2 600,1071.6 601.3,1070.9 602.5,1070.1 603.7,1069.3 604.8,1068.3 606,1067.2 607.3,1066 608.5,1064.5 609.8,1063 611,1061.5 612.3,1059.9 613.5,1058.4 614.7,1056.9 616,1055.4 617.2,1053.8 618.5,1052.3 619.7,1050.9 621,1049.6 622.3,1048.4 623.5,1047.2 624.8,1046.1 626.1,1045.1 627.3,1044.2 628.6,1043.3 629.9,1042.5 631.1,1041.8 632.4,1041.2 633.6,1040.6 634.8,1040 636.1,1039.5 637.4,1039 638.6,1038.6 639.9,1038.2 641.2,1037.8 642.4,1037.4 643.7,1037 645,1036.6 646.2,1036.1 647.5,1035.7 648.7,1035.2 650,1034.8 651.2,1034.5 652.4,1034.2 653.7,1034.1 654.9,1033.9 656.2,1033.7 657.4,1033.6 658.7,1033.3 660,1032.9 661.3,1032.5 662.5,1032.1 663.8,1031.6 665.1,1031.2 666.3,1030.8 667.5,1030.5 668.8,1030.2 670.1,1030 671.3,1029.8 672.3,1029.6 673,1029.5" fill="none" stroke="#dba560" stroke-opacity="0.55" stroke-width="0.7"/>
<polyline points="557.7,1096.7 559.1,1097.1 561,1097.7 563.3,1098.5 565.8,1099.2 568.3,1099.9 570.8,1100.4 573.2,1100.8 575.8,1101.1 578.4,1101.4 581,1101.5 583.5,1101.7 585.9,1101.7 588.2,1101.7 590.4,1101.6 592.6,1101.4 594.7,1101.2 596.6,1100.9 598.4,1100.4 600,1099.8 601.3,1099.1 602.5,1098.4 603.7,1097.5 604.8,1096.5 606,1095.4 607.3,1094.2 608.5,1092.7 609.8,1091.2 611,1089.7 612.3,1088.1 613.5,1086.6 614.7,1085.1 616,1083.6 617.2,1082 618.5,1080.5 619.7,1079.1 621,1077.8 622.3,1076.6 623.5,1075.4 624.8,1074.2 626.1,1073.2 627.3,1072.3 628.6,1071.6 629.9,1071.1 631.1,1070.8 632.4,1070.7 633.6,1070.6 634.8,1070.5 636.1,1070.3 637.4,1070 638.6,1069.6 639.9,1069.2 641.2,1068.8 642.4,1068.3 643.7,1067.8 645,1067.2 646.2,1066.5 647.5,1065.7 648.7,1065 650,1064.4 651.2,1064 652.4,1063.8 653.7,1063.6 654.9,1063.6 656.2,1063.7 657.4,1063.8 658.7,1064 660,1064.2 661.3,1064.5 662.5,1064.8 663.8,1065.1 665.1,1065.6 666.3,1066 667.5,1066.5 668.8,1067.2 670.1,1067.9 671.3,1068.5 672.3,1069.1 673,1069.5" fill="none" stroke="#dba560" stroke-opacity="0.55" stroke-width="0.7"/>
<polyline points="557.7,1084.1 559.1,1084.5 561,1085 563.3,1085.5 565.8,1086.2 568.3,1086.7 570.8,1087.1 573.2,1087.4 575.8,1087.6 578.4,1087.8 581,1087.9 583.5,1087.9 585.9,1087.9 588.2,1087.9 590.4,1087.8 592.6,1087.7 594.7,1087.5 596.6,1087.1 598.4,1086.6 600,1085.9 601.3,1085 602.5,1083.9 603.7,1082.8 604.8,1081.5 606,1080.3 607.3,1079 608.5,1077.6 609.8,1076.1 611,1074.5 612.3,1073 613.5,1071.6 614.7,1070.2 616,1068.8 617.2,1067.4 618.5,1066 619.7,1064.7 621,1063.5 622.3,1062.4 623.5,1061.3 624.8,1060.3 626.1,1059.3 627.3,1058.4 628.6,1057.7 629.9,1057.1 631.1,1056.6 632.4,1056.2 633.6,1055.9 634.8,1055.6 636.1,1055.2 637.4,1054.8 638.6,1054.4 639.9,1054 641.2,1053.6 642.4,1053.2 643.7,1052.7 645,1052.2 646.2,1051.6 647.5,1051 648.7,1050.4 650,1049.8 651.2,1049.4 652.4,1049.1 653.7,1048.9 654.9,1048.7 656.2,1048.6 657.4,1048.5 658.7,1048.4 660,1048.2 661.3,1048.1 662.5,1047.9 663.8,1047.8 665.1,1047.7 666.3,1047.7 667.5,1047.7 668.8,1047.9 670.1,1048 671.3,1048.2 672.3,1048.3 673,1048.4" fill="none" stroke="#e8963c" stroke-width="1.1" stroke-dasharray="3.4 2.4"/>
<polygon points="557.7,1069.1 559.1,1069.6 561,1070.2 563.3,1071 565.8,1071.7 568.3,1072.4 570.8,1072.9 573.2,1073.2 575.8,1073.4 578.4,1073.5 581,1073.5 583.5,1073.5 585.9,1073.4 588.2,1073.3 590.4,1073.1 592.6,1072.8 594.7,1072.5 596.6,1072.1 598.4,1071.6 600,1071 601.3,1070.3 602.5,1069.5 603.7,1068.7 604.8,1067.7 606,1066.6 607.3,1065.4 608.5,1063.9 609.8,1062.4 611,1060.9 612.3,1059.3 613.5,1057.8 614.7,1056.3 616,1054.8 617.2,1053.2 618.5,1051.7 619.7,1050.3 621,1049 622.3,1047.8 623.5,1046.6 624.8,1045.5 626.1,1044.5 627.3,1043.6 628.6,1042.7 629.9,1041.9 631.1,1041.2 632.4,1040.6 633.6,1040 634.8,1039.4 636.1,1038.9 637.4,1038.4 638.6,1038 639.9,1037.6 641.2,1037.2 642.4,1036.8 643.7,1036.4 645,1036 646.2,1035.5 647.5,1035.1 648.7,1034.6 650,1034.2 651.2,1033.9 652.4,1033.6 653.7,1033.5 654.9,1033.3 656.2,1033.1 657.4,1033 658.7,1032.7 660,1032.3 661.3,1031.9 662.5,1031.5 663.8,1031 665.1,1030.6 666.3,1030.2 667.5,1029.9 668.8,1029.6 670.1,1029.4 671.3,1029.2 672.3,1029 673,1028.9 673,1068.3 672.3,1067.9 671.3,1067.3 670.1,1066.7 668.8,1066 667.5,1065.3 666.3,1064.8 665.1,1064.4 663.8,1063.9 662.5,1063.6 661.3,1063.3 660,1063 658.7,1062.8 657.4,1062.6 656.2,1062.5 654.9,1062.4 653.7,1062.4 652.4,1062.6 651.2,1062.8 650,1063.2 648.7,1063.8 647.5,1064.5 646.2,1065.3 645,1066 643.7,1066.6 642.4,1067.1 641.2,1067.6 639.9,1068 638.6,1068.4 637.4,1068.8 636.1,1069.1 634.8,1069.3 633.6,1069.4 632.4,1069.5 631.1,1069.6 629.9,1069.9 628.6,1070.4 627.3,1071.1 626.1,1072 624.8,1073 623.5,1074.2 622.3,1075.4 621,1076.6 619.7,1077.9 618.5,1079.3 617.2,1080.8 616,1082.4 614.7,1083.9 613.5,1085.4 612.3,1086.9 611,1088.5 609.8,1090 608.5,1091.5 607.3,1093 606,1094.2 604.8,1095.3 603.7,1096.3 602.5,1097.2 601.3,1097.9 600,1098.6 598.4,1099.2 596.6,1099.7 594.7,1100 592.6,1100.2 590.4,1100.4 588.2,1100.5 585.9,1100.5 583.5,1100.5 581,1100.3 578.4,1100.2 575.8,1099.9 573.2,1099.6 570.8,1099.2 568.3,1098.7 565.8,1098 563.3,1097.3 561,1096.5 559.1,1095.9 557.7,1095.5" fill="#4f8a3a" fill-opacity="0.27"/>
<polyline points="557.7,1069.1 559.1,1069.6 561,1070.2 563.3,1071 565.8,1071.7 568.3,1072.4 570.8,1072.9 573.2,1073.2 575.8,1073.4 578.4,1073.5 581,1073.5 583.5,1073.5 585.9,1073.4 588.2,1073.3 590.4,1073.1 592.6,1072.8 594.7,1072.5 596.6,1072.1 598.4,1071.6 600,1071 601.3,1070.3 602.5,1069.5 603.7,1068.7 604.8,1067.7 606,1066.6 607.3,1065.4 608.5,1063.9 609.8,1062.4 611,1060.9 612.3,1059.3 613.5,1057.8 614.7,1056.3 616,1054.8 617.2,1053.2 618.5,1051.7 619.7,1050.3 621,1049 622.3,1047.8 623.5,1046.6 624.8,1045.5 626.1,1044.5 627.3,1043.6 628.6,1042.7 629.9,1041.9 631.1,1041.2 632.4,1040.6 633.6,1040 634.8,1039.4 636.1,1038.9 637.4,1038.4 638.6,1038 639.9,1037.6 641.2,1037.2 642.4,1036.8 643.7,1036.4 645,1036 646.2,1035.5 647.5,1035.1 648.7,1034.6 650,1034.2 651.2,1033.9 652.4,1033.6 653.7,1033.5 654.9,1033.3 656.2,1033.1 657.4,1033 658.7,1032.7 660,1032.3 661.3,1031.9 662.5,1031.5 663.8,1031 665.1,1030.6 666.3,1030.2 667.5,1029.9 668.8,1029.6 670.1,1029.4 671.3,1029.2 672.3,1029 673,1028.9" fill="none" stroke="#5f8f4f" stroke-opacity="0.55" stroke-width="0.7"/>
<polyline points="557.7,1095.5 559.1,1095.9 561,1096.5 563.3,1097.3 565.8,1098 568.3,1098.7 570.8,1099.2 573.2,1099.6 575.8,1099.9 578.4,1100.2 581,1100.3 583.5,1100.5 585.9,1100.5 588.2,1100.5 590.4,1100.4 592.6,1100.2 594.7,1100 596.6,1099.7 598.4,1099.2 600,1098.6 601.3,1097.9 602.5,1097.2 603.7,1096.3 604.8,1095.3 606,1094.2 607.3,1093 608.5,1091.5 609.8,1090 611,1088.5 612.3,1086.9 613.5,1085.4 614.7,1083.9 616,1082.4 617.2,1080.8 618.5,1079.3 619.7,1077.9 621,1076.6 622.3,1075.4 623.5,1074.2 624.8,1073 626.1,1072 627.3,1071.1 628.6,1070.4 629.9,1069.9 631.1,1069.6 632.4,1069.5 633.6,1069.4 634.8,1069.3 636.1,1069.1 637.4,1068.8 638.6,1068.4 639.9,1068 641.2,1067.6 642.4,1067.1 643.7,1066.6 645,1066 646.2,1065.3 647.5,1064.5 648.7,1063.8 650,1063.2 651.2,1062.8 652.4,1062.6 653.7,1062.4 654.9,1062.4 656.2,1062.5 657.4,1062.6 658.7,1062.8 660,1063 661.3,1063.3 662.5,1063.6 663.8,1063.9 665.1,1064.4 666.3,1064.8 667.5,1065.3 668.8,1066 670.1,1066.7 671.3,1067.3 672.3,1067.9 673,1068.3" fill="none" stroke="#5f8f4f" stroke-opacity="0.55" stroke-width="0.7"/>
<polyline points="557.7,1082.9 559.1,1083.3 561,1083.8 563.3,1084.4 565.8,1085 568.3,1085.5 570.8,1085.9 573.2,1086.2 575.8,1086.4 578.4,1086.6 581,1086.7 583.5,1086.7 585.9,1086.7 588.2,1086.7 590.4,1086.6 592.6,1086.5 594.7,1086.3 596.6,1085.9 598.4,1085.4 600,1084.7 601.3,1083.8 602.5,1082.7 603.7,1081.6 604.8,1080.3 606,1079.1 607.3,1077.8 608.5,1076.4 609.8,1074.9 611,1073.3 612.3,1071.8 613.5,1070.4 614.7,1069 616,1067.6 617.2,1066.2 618.5,1064.8 619.7,1063.5 621,1062.3 622.3,1061.2 623.5,1060.1 624.8,1059 626.1,1058.1 627.3,1057.2 628.6,1056.5 629.9,1055.9 631.1,1055.4 632.4,1055 633.6,1054.7 634.8,1054.4 636.1,1054 637.4,1053.6 638.6,1053.2 639.9,1052.8 641.2,1052.4 642.4,1052 643.7,1051.5 645,1051 646.2,1050.4 647.5,1049.8 648.7,1049.2 650,1048.6 651.2,1048.2 652.4,1047.9 653.7,1047.7 654.9,1047.5 656.2,1047.4 657.4,1047.3 658.7,1047.2 660,1047 661.3,1046.9 662.5,1046.7 663.8,1046.6 665.1,1046.5 666.3,1046.5 667.5,1046.5 668.8,1046.7 670.1,1046.8 671.3,1047 672.3,1047.1 673,1047.2" fill="none" stroke="#478535" stroke-width="1.1" stroke-dasharray="3.4 2.4"/>
<line x1="557.7" y1="1085.5" x2="573.3" y2="1085.5" stroke="#8a8a8a" stroke-width="1"/>
<line x1="587" y1="1085.5" x2="602" y2="1085.5" stroke="#8a8a8a" stroke-width="1"/>
<line x1="618" y1="1085.5" x2="633" y2="1085.5" stroke="#8a8a8a" stroke-width="1"/>
<line x1="648.7" y1="1085.5" x2="663.3" y2="1085.5" stroke="#8a8a8a" stroke-width="1"/>
</g>
<path d="M557.7 985.8V1101.3H673" fill="none" stroke="#333" stroke-width="1.2"/>
<line x1="557.7" y1="992.8" x2="559.9" y2="992.8" stroke="#333" stroke-width="0.9"/>
<text transform="translate(556.2 996.8) scale(1.13 1)" font-size="11.6" text-anchor="end">0.8</text>
<line x1="557.7" y1="1008.6" x2="559.9" y2="1008.6" stroke="#333" stroke-width="0.9"/>
<text transform="translate(556.2 1012.6) scale(1.13 1)" font-size="11.6" text-anchor="end">0.75</text>
<line x1="557.7" y1="1024" x2="559.9" y2="1024" stroke="#333" stroke-width="0.9"/>
<text transform="translate(556.2 1028) scale(1.13 1)" font-size="11.6" text-anchor="end">0.7</text>
<line x1="557.7" y1="1039.5" x2="559.9" y2="1039.5" stroke="#333" stroke-width="0.9"/>
<text transform="translate(556.2 1043.5) scale(1.13 1)" font-size="11.6" text-anchor="end">0.65</text>
<line x1="557.7" y1="1054.8" x2="559.9" y2="1054.8" stroke="#333" stroke-width="0.9"/>
<text transform="translate(556.2 1058.8) scale(1.13 1)" font-size="11.6" text-anchor="end">0.6</text>
<line x1="557.7" y1="1070.2" x2="559.9" y2="1070.2" stroke="#333" stroke-width="0.9"/>
<text transform="translate(556.2 1074.2) scale(1.13 1)" font-size="11.6" text-anchor="end">0.55</text>
<line x1="557.7" y1="1085.4" x2="559.9" y2="1085.4" stroke="#333" stroke-width="0.9"/>
<text transform="translate(556.2 1089.5) scale(1.13 1)" font-size="11.6" text-anchor="end">0.5</text>
<line x1="587.9" y1="1101.3" x2="587.9" y2="1099.1" stroke="#333" stroke-width="0.9"/>
<text transform="translate(587.9 1111.8) scale(1.13 1)" font-size="11.6" text-anchor="middle">0</text>
<line x1="618.5" y1="1101.3" x2="618.5" y2="1099.1" stroke="#333" stroke-width="0.9"/>
<text transform="translate(618.5 1111.8) scale(1.13 1)" font-size="11.6" text-anchor="middle">0.2</text>
<line x1="650.4" y1="1101.3" x2="650.4" y2="1099.1" stroke="#333" stroke-width="0.9"/>
<text transform="translate(650.4 1111.8) scale(1.13 1)" font-size="11.6" text-anchor="middle">0.4</text>
<text x="565" y="1010.9" font-size="10">p=0.0009</text>
<text x="565" y="1019.9" font-size="10">p=0.0009</text>
<rect x="609.7" y="1003.4" width="63.3" height="7" fill="#5a913c"/>
<rect x="614.3" y="1013.7" width="58.7" height="6.8" fill="#eb9641"/>
</svg>
</body></html>
